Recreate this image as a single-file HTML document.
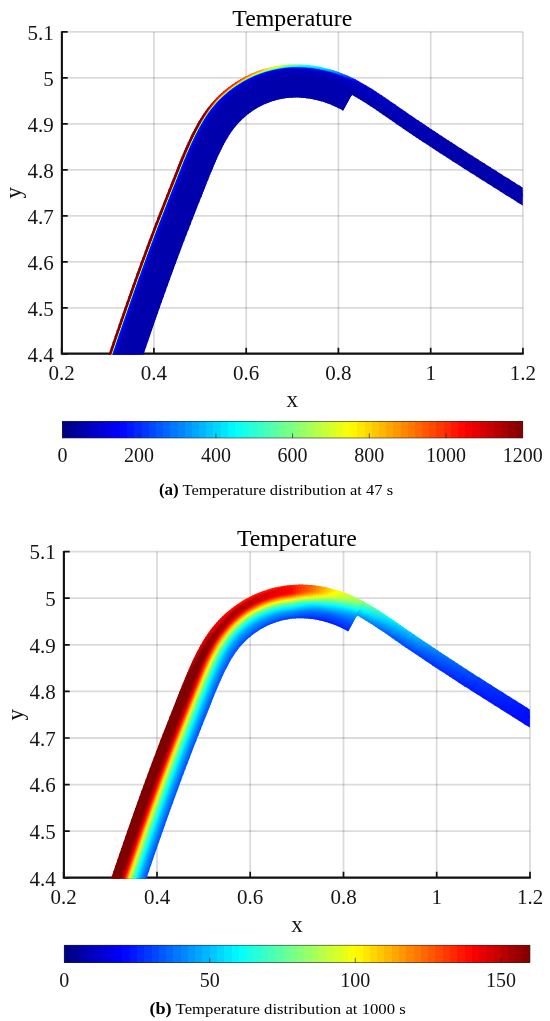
<!DOCTYPE html>
<html><head><meta charset="utf-8"><title>Temperature</title><style>html,body{margin:0;padding:0;background:#fff}svg{display:block}</style></head><body>
<svg width="550" height="1021" viewBox="0 0 550 1021">
<style>text{font-family:"Liberation Serif",serif;fill:#151515}.tk{font-size:21px}.cb{font-size:20px}.tt{font-size:23px}.ti{font-size:23px}.cap{font-size:15px}.cpb{font-size:17px;font-weight:bold}</style>
<rect width="550" height="1021" fill="#fff"/>
<defs><clipPath id="c1"><rect x="61.7" y="31.8" width="461.1" height="323"/></clipPath><clipPath id="c2"><rect x="63.7" y="551.6" width="466.2" height="327.2"/></clipPath></defs>
<path d="M61.7 31.8V353.8M153.9 31.8V353.8M246.2 31.8V353.8M338.4 31.8V353.8M430.7 31.8V353.8M522.9 31.8V353.8" stroke="#000" stroke-opacity="0.14" stroke-width="1.8" fill="none"/><path d="M61.7 353.8H522.9M61.7 307.8H522.9M61.7 261.8H522.9M61.7 215.8H522.9M61.7 169.8H522.9M61.7 123.8H522.9M61.7 77.8H522.9M61.7 31.8H522.9" stroke="#000" stroke-opacity="0.14" stroke-width="1.8" fill="none"/>
<path d="M61.9 31.2V353.6H523.7" stroke="#111" stroke-width="2.1" fill="none" stroke-linejoin="miter"/>
<defs><clipPath id="s1"><path d="M106.7 359.7L107.4 357.8L108 355.9L108.7 354L109.3 352.1L110 350.2L110.6 348.3L111.2 346.4L111.9 344.5L112.5 342.6L113.2 340.7L113.8 338.9L114.5 337L115.1 335.1L115.8 333.2L116.4 331.3L117.1 329.4L117.7 327.5L118.4 325.6L119 323.7L119.7 321.8L120.3 319.9L121 318L121.6 316.2L122.3 314.3L122.9 312.4L123.6 310.5L124.3 308.6L124.9 306.7L125.6 304.8L126.2 303L126.9 301.1L127.6 299.2L128.2 297.3L128.9 295.4L129.5 293.5L130.2 291.7L130.9 289.8L131.5 287.9L132.2 286L132.9 284.1L133.5 282.2L134.2 280.4L134.9 278.5L135.6 276.6L136.2 274.7L136.9 272.8L137.6 271L138.3 269.1L139 267.2L139.6 265.3L140.3 263.5L141 261.6L141.7 259.7L142.4 257.8L143.1 256L143.8 254.1L144.5 252.2L145.1 250.3L145.8 248.5L146.5 246.6L147.2 244.7L147.9 242.8L148.6 241L149.3 239.1L150 237.2L150.7 235.3L151.5 233.5L152.2 231.6L152.9 229.7L153.6 227.8L154.3 226L155 224.1L155.7 222.2L156.5 220.4L157.2 218.5L157.9 216.6L158.6 214.7L159.4 212.9L160.1 211L160.8 209.1L161.6 207.2L162.3 205.4L163 203.5L163.8 201.6L164.5 199.8L165.2 197.9L166 196L166.7 194.2L167.5 192.3L168.2 190.4L168.9 188.6L169.7 186.7L170.4 184.9L171.1 183L171.9 181.1L172.6 179.3L173.4 177.4L174.1 175.6L174.8 173.7L175.6 171.9L176.3 170L177 168.2L177.8 166.3L178.5 164.5L179.3 162.6L180 160.8L180.7 159L181.5 157.1L182.3 155.3L183 153.5L183.8 151.6L184.6 149.8L185.4 148L186.2 146.2L187 144.4L187.8 142.5L188.7 140.7L189.5 138.9L190.4 137.1L191.2 135.3L192.1 133.5L193 131.7L194 129.9L194.9 128.2L195.9 126.4L196.8 124.6L197.8 122.9L198.8 121.1L199.9 119.4L201 117.7L202 116L203.2 114.3L204.3 112.7L205.5 111L206.6 109.4L207.9 107.8L209.1 106.3L210.4 104.7L211.6 103.2L213 101.7L214.3 100.2L215.7 98.8L217.1 97.3L218.5 96L219.9 94.6L221.4 93.2L222.9 91.9L224.4 90.6L225.9 89.4L227.5 88.1L229.1 86.9L230.7 85.7L232.3 84.6L234 83.4L235.6 82.3L237.3 81.3L239 80.2L240.8 79.2L242.5 78.2L244.3 77.2L246 76.3L247.8 75.4L249.6 74.6L251.5 73.7L253.3 72.9L255.1 72.2L257 71.5L258.9 70.8L260.8 70.1L262.7 69.5L264.6 68.9L266.5 68.4L268.5 67.8L270.4 67.4L272.3 66.9L274.3 66.5L276.3 66.1L278.2 65.8L280.2 65.5L282.2 65.2L284.2 65L286.2 64.8L288.2 64.6L290.2 64.5L292.2 64.4L294.2 64.4L296.2 64.4L298.2 64.4L300.2 64.4L302.2 64.5L304.2 64.7L306.2 64.8L308.2 65L310.2 65.2L312.1 65.5L314.1 65.8L316.1 66.1L318.1 66.5L320 66.8L322 67.3L323.9 67.7L325.9 68.2L327.8 68.7L329.7 69.2L331.6 69.8L333.5 70.3L335.4 71L337.3 71.6L339.2 72.3L341 73L342.9 73.7L344.7 74.5L346.6 75.2L348.4 76.1L350.2 76.9L352 77.8L353.8 78.6L355.6 79.6L357.4 80.5L359.1 81.4L360.9 82.4L362.6 83.4L364.4 84.4L366.1 85.4L367.8 86.5L369.5 87.5L371.2 88.6L372.9 89.6L374.6 90.7L376.3 91.8L378 92.9L379.6 94L381.3 95.1L383 96.2L384.6 97.3L386.3 98.5L387.9 99.6L389.6 100.7L391.2 101.9L392.9 103L394.5 104.1L396.2 105.3L397.8 106.4L399.4 107.6L401.1 108.7L402.7 109.8L404.4 111L406 112.1L407.7 113.2L409.3 114.4L411 115.5L412.6 116.6L414.3 117.7L415.9 118.9L417.6 120L419.2 121.1L420.9 122.2L422.6 123.3L424.2 124.5L425.9 125.6L427.6 126.7L429.2 127.8L430.9 128.9L432.5 130L434.2 131.1L435.9 132.2L437.6 133.3L439.2 134.4L440.9 135.5L442.6 136.6L444.2 137.7L445.9 138.8L447.6 139.9L449.3 141L450.9 142.1L452.6 143.1L454.3 144.2L456 145.3L457.7 146.4L459.3 147.5L461 148.6L462.7 149.6L464.4 150.7L466.1 151.8L467.7 152.9L469.4 154L471.1 155L472.8 156.1L474.5 157.2L476.2 158.3L477.9 159.3L479.6 160.4L481.2 161.5L482.9 162.5L484.6 163.6L486.3 164.7L488 165.8L489.7 166.8L491.4 167.9L493.1 169L494.8 170L496.5 171.1L498.2 172.2L499.8 173.2L501.5 174.3L503.2 175.4L504.9 176.4L506.6 177.5L508.3 178.5L510 179.6L511.7 180.7L513.4 181.7L515.1 182.8L516.8 183.9L518.5 184.9L520.2 186L521.9 187L523.6 188.1L525.3 189.2L527 190.2L528.7 191.3L530.4 192.4L532 193.4L533.7 194.5L535.4 195.5L537.1 196.6L538.8 197.7L540.1 198.5L532 211.4L528.7 209.2L525.3 207.1L521.9 205L518.5 202.9L515.1 200.7L511.7 198.6L508.3 196.5L504.9 194.4L501.5 192.2L498.1 190.1L494.7 188L491.3 185.8L488 183.7L484.6 181.6L481.2 179.4L477.8 177.3L474.4 175.1L471 173L467.6 170.8L464.2 168.7L460.8 166.5L457.5 164.3L454.1 162.2L450.7 160L447.3 157.8L443.9 155.6L440.6 153.4L437.2 151.2L433.8 149L430.5 146.8L427.1 144.6L423.8 142.4L420.4 140.2L417 137.9L413.7 135.7L410.4 133.4L407 131.2L403.7 128.9L400.3 126.6L397 124.4L393.7 122.1L390.4 119.8L387.1 117.5L383.8 115.2L380.6 113L377.3 110.8L374.1 108.6L370.9 106.4L367.6 104.3L364.4 102.2L361.2 100.2L357.9 98.3L354.7 96.4L352 94.9L343.4 110.7L341.9 109.9L340.5 109.1L339 108.4L337.6 107.7L336.2 107L334.8 106.4L333.5 105.8L332.1 105.2L330.7 104.6L329.3 104L327.9 103.5L326.5 103L325.1 102.5L323.7 102.1L322.3 101.6L320.8 101.2L319.4 100.8L318 100.4L316.5 100.1L315.1 99.7L313.6 99.4L312.2 99.1L310.7 98.9L309.3 98.6L307.8 98.4L306.4 98.2L304.9 98.1L303.5 97.9L302 97.8L300.6 97.7L299.1 97.6L297.7 97.6L296.3 97.6L294.9 97.6L293.5 97.6L292.1 97.7L290.7 97.7L289.3 97.8L287.9 98L286.5 98.1L285.1 98.3L283.8 98.5L282.4 98.8L281 99L279.6 99.3L278.3 99.6L276.9 99.9L275.6 100.3L274.2 100.7L272.9 101.1L271.5 101.5L270.2 102L268.9 102.4L267.6 102.9L266.3 103.5L265 104L263.8 104.6L262.5 105.2L261.3 105.8L260 106.4L258.8 107.1L257.6 107.8L256.4 108.5L255.2 109.3L253.9 110L252.7 110.8L251.6 111.6L250.4 112.5L249.2 113.3L248.1 114.2L246.9 115.1L245.8 116L244.7 116.9L243.7 117.9L242.7 118.8L241.6 119.7L240.7 120.7L239.7 121.7L238.7 122.7L237.8 123.7L236.9 124.7L236 125.8L235.1 126.9L234.2 128L233.4 129.1L232.5 130.3L231.6 131.5L230.8 132.7L229.9 134L229.1 135.3L228.3 136.6L227.5 137.9L226.7 139.3L225.9 140.7L225.1 142.2L224.3 143.6L223.5 145.1L222.7 146.6L221.9 148.2L221.2 149.7L220.4 151.3L219.6 152.9L218.9 154.5L218.1 156.1L217.4 157.8L216.6 159.4L215.9 161.1L215.2 162.8L214.4 164.4L213.7 166.1L213 167.9L212.3 169.6L211.6 171.3L210.8 173.1L210.1 174.8L209.4 176.6L208.7 178.4L208 180.2L207.2 182L206.5 183.9L205.8 185.7L205.1 187.6L204.3 189.4L203.6 191.3L202.8 193.1L202.1 195L201.4 196.9L200.6 198.7L199.9 200.6L199.1 202.4L198.4 204.3L197.7 206.1L196.9 208L196.2 209.9L195.5 211.7L194.7 213.6L194 215.4L193.3 217.3L192.6 219.1L191.8 221L191.1 222.8L190.4 224.7L189.7 226.5L189 228.4L188.2 230.2L187.5 232L186.8 233.9L186.1 235.7L185.4 237.6L184.7 239.4L184 241.3L183.3 243.1L182.6 245L181.9 246.8L181.2 248.7L180.5 250.5L179.8 252.4L179.1 254.2L178.4 256.1L177.7 257.9L177.1 259.8L176.4 261.6L175.7 263.5L175 265.3L174.3 267.2L173.6 269L173 270.9L172.3 272.7L171.6 274.6L170.9 276.4L170.3 278.3L169.6 280.1L168.9 282L168.2 283.9L167.6 285.7L166.9 287.6L166.2 289.4L165.6 291.3L164.9 293.2L164.2 295L163.6 296.9L162.9 298.7L162.3 300.6L161.6 302.5L160.9 304.3L160.3 306.2L159.6 308.1L159 309.9L158.3 311.8L157.6 313.7L157 315.5L156.3 317.4L155.7 319.3L155 321.2L154.4 323L153.7 324.9L153.1 326.8L152.4 328.7L151.8 330.5L151.1 332.4L150.5 334.3L149.8 336.2L149.2 338L148.6 339.9L147.9 341.8L147.3 343.7L146.6 345.6L146 347.4L145.3 349.3L144.7 351.2L144 353.1L143.4 355L142.8 356.9L142.1 358.8L141.5 360.6L140.8 362.5L140.2 364.4L139.6 366.3L138.9 368.2L138.3 370.1L138.2 370.4Z"/></clipPath></defs>
<g clip-path="url(#c1)"><g clip-path="url(#s1)"><defs><linearGradient id="a0" gradientUnits="userSpaceOnUse" x1="107.7" y1="356.9" x2="139.2" y2="367.5"><stop offset="0" stop-color="#800000"/><stop offset="0.034" stop-color="#800000"/><stop offset="0.063" stop-color="#800000"/><stop offset="0.078" stop-color="#f40000"/><stop offset="0.089" stop-color="#ffe800"/><stop offset="0.101" stop-color="#23ffdc"/><stop offset="0.12" stop-color="#0015ff"/><stop offset="0.172" stop-color="#0000da"/><stop offset="0.263" stop-color="#0000ad"/><stop offset="0.412" stop-color="#0000ad"/></linearGradient><linearGradient id="a1" gradientUnits="userSpaceOnUse" x1="109.6" y1="351.2" x2="141.1" y2="361.8"><stop offset="0" stop-color="#800000"/><stop offset="0.034" stop-color="#800000"/><stop offset="0.063" stop-color="#800000"/><stop offset="0.078" stop-color="#f40000"/><stop offset="0.089" stop-color="#ffe800"/><stop offset="0.101" stop-color="#23ffdc"/><stop offset="0.12" stop-color="#0015ff"/><stop offset="0.172" stop-color="#0000da"/><stop offset="0.263" stop-color="#0000ad"/><stop offset="0.412" stop-color="#0000ad"/></linearGradient><linearGradient id="a2" gradientUnits="userSpaceOnUse" x1="111.6" y1="345.5" x2="143" y2="356.2"><stop offset="0" stop-color="#800000"/><stop offset="0.034" stop-color="#800000"/><stop offset="0.063" stop-color="#800000"/><stop offset="0.078" stop-color="#f40000"/><stop offset="0.089" stop-color="#ffe800"/><stop offset="0.101" stop-color="#23ffdc"/><stop offset="0.12" stop-color="#0015ff"/><stop offset="0.172" stop-color="#0000da"/><stop offset="0.263" stop-color="#0000ad"/><stop offset="0.412" stop-color="#0000ad"/></linearGradient><linearGradient id="a3" gradientUnits="userSpaceOnUse" x1="113.5" y1="339.8" x2="144.9" y2="350.5"><stop offset="0" stop-color="#800000"/><stop offset="0.034" stop-color="#800000"/><stop offset="0.063" stop-color="#800000"/><stop offset="0.078" stop-color="#f40000"/><stop offset="0.089" stop-color="#ffe800"/><stop offset="0.101" stop-color="#23ffdc"/><stop offset="0.12" stop-color="#0015ff"/><stop offset="0.172" stop-color="#0000da"/><stop offset="0.263" stop-color="#0000ad"/><stop offset="0.412" stop-color="#0000ad"/></linearGradient><linearGradient id="a4" gradientUnits="userSpaceOnUse" x1="115.4" y1="334.1" x2="146.9" y2="344.9"><stop offset="0" stop-color="#800000"/><stop offset="0.034" stop-color="#800000"/><stop offset="0.063" stop-color="#800000"/><stop offset="0.078" stop-color="#f40000"/><stop offset="0.089" stop-color="#ffe800"/><stop offset="0.101" stop-color="#23ffdc"/><stop offset="0.12" stop-color="#0015ff"/><stop offset="0.172" stop-color="#0000da"/><stop offset="0.263" stop-color="#0000ad"/><stop offset="0.412" stop-color="#0000ad"/></linearGradient><linearGradient id="a5" gradientUnits="userSpaceOnUse" x1="117.4" y1="328.4" x2="148.8" y2="339.2"><stop offset="0" stop-color="#800000"/><stop offset="0.034" stop-color="#800000"/><stop offset="0.063" stop-color="#800000"/><stop offset="0.078" stop-color="#f40000"/><stop offset="0.089" stop-color="#ffe800"/><stop offset="0.101" stop-color="#23ffdc"/><stop offset="0.12" stop-color="#0015ff"/><stop offset="0.172" stop-color="#0000da"/><stop offset="0.263" stop-color="#0000ad"/><stop offset="0.412" stop-color="#0000ad"/></linearGradient><linearGradient id="a6" gradientUnits="userSpaceOnUse" x1="119.3" y1="322.8" x2="150.7" y2="333.6"><stop offset="0" stop-color="#800000"/><stop offset="0.034" stop-color="#800000"/><stop offset="0.063" stop-color="#800000"/><stop offset="0.078" stop-color="#f40000"/><stop offset="0.089" stop-color="#ffe800"/><stop offset="0.101" stop-color="#23ffdc"/><stop offset="0.12" stop-color="#0015ff"/><stop offset="0.172" stop-color="#0000da"/><stop offset="0.263" stop-color="#0000ad"/><stop offset="0.412" stop-color="#0000ad"/></linearGradient><linearGradient id="a7" gradientUnits="userSpaceOnUse" x1="121.3" y1="317.1" x2="152.7" y2="328"><stop offset="0" stop-color="#800000"/><stop offset="0.034" stop-color="#800000"/><stop offset="0.063" stop-color="#800000"/><stop offset="0.078" stop-color="#f40000"/><stop offset="0.089" stop-color="#ffe800"/><stop offset="0.101" stop-color="#23ffdc"/><stop offset="0.12" stop-color="#0015ff"/><stop offset="0.172" stop-color="#0000da"/><stop offset="0.263" stop-color="#0000ad"/><stop offset="0.412" stop-color="#0000ad"/></linearGradient><linearGradient id="a8" gradientUnits="userSpaceOnUse" x1="123.3" y1="311.4" x2="154.6" y2="322.3"><stop offset="0" stop-color="#800000"/><stop offset="0.034" stop-color="#800000"/><stop offset="0.063" stop-color="#800000"/><stop offset="0.078" stop-color="#f40000"/><stop offset="0.089" stop-color="#ffe800"/><stop offset="0.101" stop-color="#23ffdc"/><stop offset="0.12" stop-color="#0015ff"/><stop offset="0.172" stop-color="#0000da"/><stop offset="0.263" stop-color="#0000ad"/><stop offset="0.412" stop-color="#0000ad"/></linearGradient><linearGradient id="a9" gradientUnits="userSpaceOnUse" x1="125.2" y1="305.8" x2="156.6" y2="316.7"><stop offset="0" stop-color="#800000"/><stop offset="0.034" stop-color="#800000"/><stop offset="0.063" stop-color="#800000"/><stop offset="0.078" stop-color="#f40000"/><stop offset="0.089" stop-color="#ffe800"/><stop offset="0.101" stop-color="#23ffdc"/><stop offset="0.12" stop-color="#0015ff"/><stop offset="0.172" stop-color="#0000da"/><stop offset="0.263" stop-color="#0000ad"/><stop offset="0.412" stop-color="#0000ad"/></linearGradient><linearGradient id="a10" gradientUnits="userSpaceOnUse" x1="127.2" y1="300.1" x2="158.5" y2="311.1"><stop offset="0" stop-color="#800000"/><stop offset="0.034" stop-color="#800000"/><stop offset="0.063" stop-color="#800000"/><stop offset="0.078" stop-color="#f40000"/><stop offset="0.089" stop-color="#ffe800"/><stop offset="0.101" stop-color="#23ffdc"/><stop offset="0.12" stop-color="#0015ff"/><stop offset="0.172" stop-color="#0000da"/><stop offset="0.263" stop-color="#0000ad"/><stop offset="0.412" stop-color="#0000ad"/></linearGradient><linearGradient id="a11" gradientUnits="userSpaceOnUse" x1="129.2" y1="294.5" x2="160.5" y2="305.5"><stop offset="0" stop-color="#800000"/><stop offset="0.034" stop-color="#800000"/><stop offset="0.063" stop-color="#800000"/><stop offset="0.078" stop-color="#f40000"/><stop offset="0.089" stop-color="#ffe800"/><stop offset="0.101" stop-color="#23ffdc"/><stop offset="0.12" stop-color="#0015ff"/><stop offset="0.172" stop-color="#0000da"/><stop offset="0.263" stop-color="#0000ad"/><stop offset="0.412" stop-color="#0000ad"/></linearGradient><linearGradient id="a12" gradientUnits="userSpaceOnUse" x1="131.2" y1="288.8" x2="162.5" y2="299.9"><stop offset="0" stop-color="#800000"/><stop offset="0.034" stop-color="#800000"/><stop offset="0.063" stop-color="#800000"/><stop offset="0.078" stop-color="#f40000"/><stop offset="0.089" stop-color="#ffe800"/><stop offset="0.101" stop-color="#23ffdc"/><stop offset="0.12" stop-color="#0015ff"/><stop offset="0.172" stop-color="#0000da"/><stop offset="0.263" stop-color="#0000ad"/><stop offset="0.412" stop-color="#0000ad"/></linearGradient><linearGradient id="a13" gradientUnits="userSpaceOnUse" x1="133.2" y1="283.2" x2="164.5" y2="294.3"><stop offset="0" stop-color="#800000"/><stop offset="0.034" stop-color="#800000"/><stop offset="0.063" stop-color="#800000"/><stop offset="0.078" stop-color="#f40000"/><stop offset="0.089" stop-color="#ffe800"/><stop offset="0.101" stop-color="#23ffdc"/><stop offset="0.12" stop-color="#0015ff"/><stop offset="0.172" stop-color="#0000da"/><stop offset="0.263" stop-color="#0000ad"/><stop offset="0.412" stop-color="#0000ad"/></linearGradient><linearGradient id="a14" gradientUnits="userSpaceOnUse" x1="135.2" y1="277.5" x2="166.5" y2="288.8"><stop offset="0" stop-color="#800000"/><stop offset="0.034" stop-color="#800000"/><stop offset="0.063" stop-color="#800000"/><stop offset="0.078" stop-color="#f40000"/><stop offset="0.089" stop-color="#ffe800"/><stop offset="0.101" stop-color="#23ffdc"/><stop offset="0.12" stop-color="#0015ff"/><stop offset="0.172" stop-color="#0000da"/><stop offset="0.263" stop-color="#0000ad"/><stop offset="0.412" stop-color="#0000ad"/></linearGradient><linearGradient id="a15" gradientUnits="userSpaceOnUse" x1="137.3" y1="271.9" x2="168.5" y2="283.2"><stop offset="0" stop-color="#800000"/><stop offset="0.034" stop-color="#800000"/><stop offset="0.063" stop-color="#800000"/><stop offset="0.078" stop-color="#f40000"/><stop offset="0.089" stop-color="#ffe800"/><stop offset="0.101" stop-color="#23ffdc"/><stop offset="0.12" stop-color="#0015ff"/><stop offset="0.172" stop-color="#0000da"/><stop offset="0.263" stop-color="#0000ad"/><stop offset="0.412" stop-color="#0000ad"/></linearGradient><linearGradient id="a16" gradientUnits="userSpaceOnUse" x1="139.3" y1="266.3" x2="170.5" y2="277.6"><stop offset="0" stop-color="#800000"/><stop offset="0.034" stop-color="#800000"/><stop offset="0.063" stop-color="#800000"/><stop offset="0.078" stop-color="#f40000"/><stop offset="0.089" stop-color="#ffe800"/><stop offset="0.101" stop-color="#23ffdc"/><stop offset="0.12" stop-color="#0015ff"/><stop offset="0.172" stop-color="#0000da"/><stop offset="0.263" stop-color="#0000ad"/><stop offset="0.412" stop-color="#0000ad"/></linearGradient><linearGradient id="a17" gradientUnits="userSpaceOnUse" x1="141.4" y1="260.6" x2="172.5" y2="272"><stop offset="0" stop-color="#800000"/><stop offset="0.034" stop-color="#800000"/><stop offset="0.063" stop-color="#800000"/><stop offset="0.078" stop-color="#f40000"/><stop offset="0.089" stop-color="#ffe800"/><stop offset="0.101" stop-color="#23ffdc"/><stop offset="0.12" stop-color="#0015ff"/><stop offset="0.172" stop-color="#0000da"/><stop offset="0.263" stop-color="#0000ad"/><stop offset="0.412" stop-color="#0000ad"/></linearGradient><linearGradient id="a18" gradientUnits="userSpaceOnUse" x1="143.4" y1="255" x2="174.6" y2="266.5"><stop offset="0" stop-color="#800000"/><stop offset="0.034" stop-color="#800000"/><stop offset="0.063" stop-color="#800000"/><stop offset="0.078" stop-color="#f40000"/><stop offset="0.089" stop-color="#ffe800"/><stop offset="0.101" stop-color="#23ffdc"/><stop offset="0.12" stop-color="#0015ff"/><stop offset="0.172" stop-color="#0000da"/><stop offset="0.263" stop-color="#0000ad"/><stop offset="0.412" stop-color="#0000ad"/></linearGradient><linearGradient id="a19" gradientUnits="userSpaceOnUse" x1="145.5" y1="249.4" x2="176.6" y2="260.9"><stop offset="0" stop-color="#800000"/><stop offset="0.034" stop-color="#800000"/><stop offset="0.063" stop-color="#800000"/><stop offset="0.078" stop-color="#f40000"/><stop offset="0.089" stop-color="#ffe800"/><stop offset="0.101" stop-color="#23ffdc"/><stop offset="0.12" stop-color="#0015ff"/><stop offset="0.172" stop-color="#0000da"/><stop offset="0.263" stop-color="#0000ad"/><stop offset="0.412" stop-color="#0000ad"/></linearGradient><linearGradient id="a20" gradientUnits="userSpaceOnUse" x1="147.6" y1="243.8" x2="178.7" y2="255.4"><stop offset="0" stop-color="#800000"/><stop offset="0.034" stop-color="#800000"/><stop offset="0.063" stop-color="#800000"/><stop offset="0.078" stop-color="#f40000"/><stop offset="0.089" stop-color="#ffe800"/><stop offset="0.101" stop-color="#23ffdc"/><stop offset="0.12" stop-color="#0015ff"/><stop offset="0.172" stop-color="#0000da"/><stop offset="0.263" stop-color="#0000ad"/><stop offset="0.412" stop-color="#0000ad"/></linearGradient><linearGradient id="a21" gradientUnits="userSpaceOnUse" x1="149.7" y1="238.1" x2="180.8" y2="249.8"><stop offset="0" stop-color="#800000"/><stop offset="0.034" stop-color="#800000"/><stop offset="0.063" stop-color="#800000"/><stop offset="0.078" stop-color="#f40000"/><stop offset="0.089" stop-color="#ffe800"/><stop offset="0.101" stop-color="#23ffdc"/><stop offset="0.12" stop-color="#0015ff"/><stop offset="0.172" stop-color="#0000da"/><stop offset="0.263" stop-color="#0000ad"/><stop offset="0.412" stop-color="#0000ad"/></linearGradient><linearGradient id="a22" gradientUnits="userSpaceOnUse" x1="151.8" y1="232.5" x2="182.9" y2="244.3"><stop offset="0" stop-color="#800000"/><stop offset="0.034" stop-color="#800000"/><stop offset="0.063" stop-color="#800000"/><stop offset="0.078" stop-color="#f40000"/><stop offset="0.089" stop-color="#ffe800"/><stop offset="0.101" stop-color="#23ffdc"/><stop offset="0.12" stop-color="#0015ff"/><stop offset="0.172" stop-color="#0000da"/><stop offset="0.263" stop-color="#0000ad"/><stop offset="0.412" stop-color="#0000ad"/></linearGradient><linearGradient id="a23" gradientUnits="userSpaceOnUse" x1="153.9" y1="226.9" x2="185" y2="238.7"><stop offset="0" stop-color="#800000"/><stop offset="0.034" stop-color="#800000"/><stop offset="0.063" stop-color="#800000"/><stop offset="0.078" stop-color="#f40000"/><stop offset="0.089" stop-color="#ffe800"/><stop offset="0.101" stop-color="#23ffdc"/><stop offset="0.12" stop-color="#0015ff"/><stop offset="0.172" stop-color="#0000da"/><stop offset="0.263" stop-color="#0000ad"/><stop offset="0.412" stop-color="#0000ad"/></linearGradient><linearGradient id="a24" gradientUnits="userSpaceOnUse" x1="156.1" y1="221.3" x2="187.1" y2="233.2"><stop offset="0" stop-color="#800000"/><stop offset="0.034" stop-color="#800000"/><stop offset="0.063" stop-color="#800000"/><stop offset="0.078" stop-color="#f40000"/><stop offset="0.089" stop-color="#ffe800"/><stop offset="0.101" stop-color="#23ffdc"/><stop offset="0.12" stop-color="#0015ff"/><stop offset="0.172" stop-color="#0000da"/><stop offset="0.263" stop-color="#0000ad"/><stop offset="0.412" stop-color="#0000ad"/></linearGradient><linearGradient id="a25" gradientUnits="userSpaceOnUse" x1="158.3" y1="215.7" x2="189.2" y2="227.7"><stop offset="0" stop-color="#800000"/><stop offset="0.034" stop-color="#800000"/><stop offset="0.063" stop-color="#800000"/><stop offset="0.078" stop-color="#f40000"/><stop offset="0.089" stop-color="#ffe800"/><stop offset="0.101" stop-color="#23ffdc"/><stop offset="0.12" stop-color="#0015ff"/><stop offset="0.172" stop-color="#0000da"/><stop offset="0.263" stop-color="#0000ad"/><stop offset="0.412" stop-color="#0000ad"/></linearGradient><linearGradient id="a26" gradientUnits="userSpaceOnUse" x1="160.5" y1="210.1" x2="191.4" y2="222.1"><stop offset="0" stop-color="#800000"/><stop offset="0.034" stop-color="#800000"/><stop offset="0.063" stop-color="#800000"/><stop offset="0.078" stop-color="#f40000"/><stop offset="0.089" stop-color="#ffe800"/><stop offset="0.101" stop-color="#23ffdc"/><stop offset="0.12" stop-color="#0015ff"/><stop offset="0.172" stop-color="#0000da"/><stop offset="0.263" stop-color="#0000ad"/><stop offset="0.412" stop-color="#0000ad"/></linearGradient><linearGradient id="a27" gradientUnits="userSpaceOnUse" x1="162.7" y1="204.4" x2="193.6" y2="216.6"><stop offset="0" stop-color="#800000"/><stop offset="0.034" stop-color="#800000"/><stop offset="0.063" stop-color="#800000"/><stop offset="0.078" stop-color="#f40000"/><stop offset="0.089" stop-color="#ffe800"/><stop offset="0.101" stop-color="#23ffdc"/><stop offset="0.12" stop-color="#0015ff"/><stop offset="0.172" stop-color="#0000da"/><stop offset="0.263" stop-color="#0000ad"/><stop offset="0.412" stop-color="#0000ad"/></linearGradient><linearGradient id="a28" gradientUnits="userSpaceOnUse" x1="164.9" y1="198.8" x2="195.7" y2="211"><stop offset="0" stop-color="#800000"/><stop offset="0.034" stop-color="#800000"/><stop offset="0.063" stop-color="#800000"/><stop offset="0.078" stop-color="#f40000"/><stop offset="0.089" stop-color="#ffe800"/><stop offset="0.101" stop-color="#23ffdc"/><stop offset="0.12" stop-color="#0015ff"/><stop offset="0.172" stop-color="#0000da"/><stop offset="0.263" stop-color="#0000ad"/><stop offset="0.412" stop-color="#0000ad"/></linearGradient><linearGradient id="a29" gradientUnits="userSpaceOnUse" x1="167.1" y1="193.2" x2="197.9" y2="205.5"><stop offset="0" stop-color="#800000"/><stop offset="0.034" stop-color="#800000"/><stop offset="0.063" stop-color="#800000"/><stop offset="0.078" stop-color="#f40000"/><stop offset="0.089" stop-color="#ffe800"/><stop offset="0.101" stop-color="#23ffdc"/><stop offset="0.12" stop-color="#0015ff"/><stop offset="0.172" stop-color="#0000da"/><stop offset="0.263" stop-color="#0000ad"/><stop offset="0.412" stop-color="#0000ad"/></linearGradient><linearGradient id="a30" gradientUnits="userSpaceOnUse" x1="169.3" y1="187.6" x2="200.2" y2="199.9"><stop offset="0" stop-color="#800000"/><stop offset="0.034" stop-color="#800000"/><stop offset="0.063" stop-color="#800000"/><stop offset="0.078" stop-color="#f40000"/><stop offset="0.089" stop-color="#ffe800"/><stop offset="0.101" stop-color="#23ffdc"/><stop offset="0.12" stop-color="#0015ff"/><stop offset="0.172" stop-color="#0000da"/><stop offset="0.263" stop-color="#0000ad"/><stop offset="0.412" stop-color="#0000ad"/></linearGradient><linearGradient id="a31" gradientUnits="userSpaceOnUse" x1="171" y1="183.5" x2="201.8" y2="195.7"><stop offset="0" stop-color="#800000"/><stop offset="0.034" stop-color="#800000"/><stop offset="0.063" stop-color="#800000"/><stop offset="0.078" stop-color="#f40000"/><stop offset="0.089" stop-color="#ffe800"/><stop offset="0.101" stop-color="#23ffdc"/><stop offset="0.12" stop-color="#0015ff"/><stop offset="0.172" stop-color="#0000da"/><stop offset="0.263" stop-color="#0000ad"/><stop offset="0.412" stop-color="#0000ad"/></linearGradient><linearGradient id="a32" gradientUnits="userSpaceOnUse" x1="172.1" y1="180.7" x2="202.9" y2="192.9"><stop offset="0" stop-color="#800000"/><stop offset="0.034" stop-color="#800000"/><stop offset="0.063" stop-color="#800000"/><stop offset="0.078" stop-color="#f40000"/><stop offset="0.089" stop-color="#ffe800"/><stop offset="0.101" stop-color="#23ffdc"/><stop offset="0.12" stop-color="#0015ff"/><stop offset="0.172" stop-color="#0000da"/><stop offset="0.263" stop-color="#0000ad"/><stop offset="0.412" stop-color="#0000ad"/></linearGradient><linearGradient id="a33" gradientUnits="userSpaceOnUse" x1="173.2" y1="177.9" x2="204" y2="190.1"><stop offset="0" stop-color="#800000"/><stop offset="0.034" stop-color="#800000"/><stop offset="0.063" stop-color="#800000"/><stop offset="0.078" stop-color="#f40000"/><stop offset="0.089" stop-color="#ffe800"/><stop offset="0.101" stop-color="#23ffdc"/><stop offset="0.12" stop-color="#0015ff"/><stop offset="0.172" stop-color="#0000da"/><stop offset="0.263" stop-color="#0000ad"/><stop offset="0.412" stop-color="#0000ad"/></linearGradient><linearGradient id="a34" gradientUnits="userSpaceOnUse" x1="174.3" y1="175.1" x2="205.1" y2="187.4"><stop offset="0" stop-color="#800000"/><stop offset="0.034" stop-color="#800000"/><stop offset="0.063" stop-color="#800000"/><stop offset="0.078" stop-color="#f40000"/><stop offset="0.089" stop-color="#ffe800"/><stop offset="0.101" stop-color="#23ffdc"/><stop offset="0.12" stop-color="#0015ff"/><stop offset="0.172" stop-color="#0000da"/><stop offset="0.263" stop-color="#0000ad"/><stop offset="0.412" stop-color="#0000ad"/></linearGradient><linearGradient id="a35" gradientUnits="userSpaceOnUse" x1="175.4" y1="172.3" x2="206.2" y2="184.6"><stop offset="0" stop-color="#800000"/><stop offset="0.034" stop-color="#800000"/><stop offset="0.063" stop-color="#800000"/><stop offset="0.078" stop-color="#f40000"/><stop offset="0.089" stop-color="#ffe800"/><stop offset="0.101" stop-color="#23ffdc"/><stop offset="0.12" stop-color="#0015ff"/><stop offset="0.172" stop-color="#0000da"/><stop offset="0.263" stop-color="#0000ad"/><stop offset="0.412" stop-color="#0000ad"/></linearGradient><linearGradient id="a36" gradientUnits="userSpaceOnUse" x1="176.5" y1="169.6" x2="207.3" y2="181.8"><stop offset="0" stop-color="#800000"/><stop offset="0.034" stop-color="#800000"/><stop offset="0.063" stop-color="#800000"/><stop offset="0.078" stop-color="#f40000"/><stop offset="0.089" stop-color="#ffe800"/><stop offset="0.101" stop-color="#23ffdc"/><stop offset="0.12" stop-color="#0015ff"/><stop offset="0.172" stop-color="#0000da"/><stop offset="0.263" stop-color="#0000ad"/><stop offset="0.412" stop-color="#0000ad"/></linearGradient><linearGradient id="a37" gradientUnits="userSpaceOnUse" x1="177.6" y1="166.8" x2="208.4" y2="179.1"><stop offset="0" stop-color="#800000"/><stop offset="0.034" stop-color="#800000"/><stop offset="0.063" stop-color="#800000"/><stop offset="0.078" stop-color="#f40000"/><stop offset="0.089" stop-color="#ffe800"/><stop offset="0.101" stop-color="#23ffdc"/><stop offset="0.12" stop-color="#0015ff"/><stop offset="0.172" stop-color="#0000da"/><stop offset="0.263" stop-color="#0000ad"/><stop offset="0.412" stop-color="#0000ad"/></linearGradient><linearGradient id="a38" gradientUnits="userSpaceOnUse" x1="178.7" y1="164" x2="209.5" y2="176.4"><stop offset="0" stop-color="#800000"/><stop offset="0.034" stop-color="#800000"/><stop offset="0.063" stop-color="#800000"/><stop offset="0.078" stop-color="#f40000"/><stop offset="0.089" stop-color="#ffe800"/><stop offset="0.101" stop-color="#23ffdc"/><stop offset="0.12" stop-color="#0015ff"/><stop offset="0.172" stop-color="#0000da"/><stop offset="0.263" stop-color="#0000ad"/><stop offset="0.412" stop-color="#0000ad"/></linearGradient><linearGradient id="a39" gradientUnits="userSpaceOnUse" x1="179.8" y1="161.3" x2="210.6" y2="173.8"><stop offset="0" stop-color="#800000"/><stop offset="0.034" stop-color="#800000"/><stop offset="0.063" stop-color="#800000"/><stop offset="0.078" stop-color="#f40000"/><stop offset="0.089" stop-color="#ffe800"/><stop offset="0.101" stop-color="#23ffdc"/><stop offset="0.12" stop-color="#0015ff"/><stop offset="0.172" stop-color="#0000da"/><stop offset="0.263" stop-color="#0000ad"/><stop offset="0.412" stop-color="#0000ad"/></linearGradient><linearGradient id="a40" gradientUnits="userSpaceOnUse" x1="180.9" y1="158.5" x2="211.6" y2="171.1"><stop offset="0" stop-color="#800000"/><stop offset="0.034" stop-color="#800000"/><stop offset="0.063" stop-color="#800000"/><stop offset="0.078" stop-color="#f40000"/><stop offset="0.089" stop-color="#ffe800"/><stop offset="0.101" stop-color="#23ffdc"/><stop offset="0.12" stop-color="#0015ff"/><stop offset="0.172" stop-color="#0000da"/><stop offset="0.263" stop-color="#0000ad"/><stop offset="0.412" stop-color="#0000ad"/></linearGradient><linearGradient id="a41" gradientUnits="userSpaceOnUse" x1="182.1" y1="155.8" x2="212.7" y2="168.5"><stop offset="0" stop-color="#800000"/><stop offset="0.034" stop-color="#800000"/><stop offset="0.063" stop-color="#800000"/><stop offset="0.078" stop-color="#f40000"/><stop offset="0.089" stop-color="#ffe800"/><stop offset="0.101" stop-color="#23ffdc"/><stop offset="0.12" stop-color="#0015ff"/><stop offset="0.172" stop-color="#0000da"/><stop offset="0.263" stop-color="#0000ad"/><stop offset="0.412" stop-color="#0000ad"/></linearGradient><linearGradient id="a42" gradientUnits="userSpaceOnUse" x1="183.2" y1="153" x2="213.8" y2="165.9"><stop offset="0" stop-color="#800000"/><stop offset="0.034" stop-color="#800000"/><stop offset="0.063" stop-color="#800000"/><stop offset="0.078" stop-color="#f40000"/><stop offset="0.089" stop-color="#ffe800"/><stop offset="0.101" stop-color="#23ffdc"/><stop offset="0.12" stop-color="#0015ff"/><stop offset="0.172" stop-color="#0000da"/><stop offset="0.263" stop-color="#0000ad"/><stop offset="0.412" stop-color="#0000ad"/></linearGradient><linearGradient id="a43" gradientUnits="userSpaceOnUse" x1="184.4" y1="150.3" x2="214.9" y2="163.4"><stop offset="0" stop-color="#800000"/><stop offset="0.034" stop-color="#800000"/><stop offset="0.063" stop-color="#800000"/><stop offset="0.078" stop-color="#f40000"/><stop offset="0.089" stop-color="#ffe800"/><stop offset="0.101" stop-color="#23ffdc"/><stop offset="0.12" stop-color="#0015ff"/><stop offset="0.172" stop-color="#0000da"/><stop offset="0.263" stop-color="#0000ad"/><stop offset="0.412" stop-color="#0000ad"/></linearGradient><linearGradient id="a44" gradientUnits="userSpaceOnUse" x1="185.6" y1="147.5" x2="216" y2="160.9"><stop offset="0" stop-color="#800000"/><stop offset="0.034" stop-color="#800000"/><stop offset="0.063" stop-color="#800000"/><stop offset="0.078" stop-color="#f40000"/><stop offset="0.089" stop-color="#ffe800"/><stop offset="0.101" stop-color="#23ffdc"/><stop offset="0.12" stop-color="#0015ff"/><stop offset="0.172" stop-color="#0000da"/><stop offset="0.263" stop-color="#0000ae"/><stop offset="0.412" stop-color="#0000ad"/></linearGradient><linearGradient id="a45" gradientUnits="userSpaceOnUse" x1="186.8" y1="144.8" x2="217.1" y2="158.4"><stop offset="0" stop-color="#800000"/><stop offset="0.034" stop-color="#800000"/><stop offset="0.063" stop-color="#800000"/><stop offset="0.078" stop-color="#f30000"/><stop offset="0.089" stop-color="#ffe700"/><stop offset="0.101" stop-color="#23ffdc"/><stop offset="0.12" stop-color="#0016ff"/><stop offset="0.172" stop-color="#0000db"/><stop offset="0.263" stop-color="#0000ae"/><stop offset="0.412" stop-color="#0000ad"/></linearGradient><linearGradient id="a46" gradientUnits="userSpaceOnUse" x1="188" y1="142.1" x2="218.2" y2="155.9"><stop offset="0" stop-color="#800000"/><stop offset="0.034" stop-color="#800000"/><stop offset="0.063" stop-color="#800000"/><stop offset="0.078" stop-color="#f20000"/><stop offset="0.089" stop-color="#ffe700"/><stop offset="0.101" stop-color="#24ffdb"/><stop offset="0.12" stop-color="#0016ff"/><stop offset="0.172" stop-color="#0000db"/><stop offset="0.263" stop-color="#0000ae"/><stop offset="0.412" stop-color="#0000ad"/></linearGradient><linearGradient id="a47" gradientUnits="userSpaceOnUse" x1="189.3" y1="139.4" x2="219.3" y2="153.5"><stop offset="0" stop-color="#800000"/><stop offset="0.034" stop-color="#800000"/><stop offset="0.063" stop-color="#800000"/><stop offset="0.078" stop-color="#f20000"/><stop offset="0.089" stop-color="#ffe600"/><stop offset="0.101" stop-color="#25ffda"/><stop offset="0.12" stop-color="#0017ff"/><stop offset="0.172" stop-color="#0000dc"/><stop offset="0.263" stop-color="#0000ae"/><stop offset="0.412" stop-color="#0000ad"/></linearGradient><linearGradient id="a48" gradientUnits="userSpaceOnUse" x1="190.6" y1="136.7" x2="220.5" y2="151.1"><stop offset="0" stop-color="#800000"/><stop offset="0.034" stop-color="#800000"/><stop offset="0.063" stop-color="#800000"/><stop offset="0.078" stop-color="#f10000"/><stop offset="0.089" stop-color="#ffe500"/><stop offset="0.101" stop-color="#25ffda"/><stop offset="0.12" stop-color="#0017ff"/><stop offset="0.172" stop-color="#0000dc"/><stop offset="0.263" stop-color="#0000ae"/><stop offset="0.412" stop-color="#0000ad"/></linearGradient><linearGradient id="a49" gradientUnits="userSpaceOnUse" x1="191.9" y1="134" x2="221.6" y2="148.7"><stop offset="0" stop-color="#800000"/><stop offset="0.034" stop-color="#800000"/><stop offset="0.063" stop-color="#800000"/><stop offset="0.078" stop-color="#f10000"/><stop offset="0.089" stop-color="#ffe500"/><stop offset="0.101" stop-color="#26ffd9"/><stop offset="0.12" stop-color="#0018ff"/><stop offset="0.172" stop-color="#0000dc"/><stop offset="0.263" stop-color="#0000af"/><stop offset="0.412" stop-color="#0000ad"/></linearGradient><linearGradient id="a50" gradientUnits="userSpaceOnUse" x1="193.3" y1="131.3" x2="222.8" y2="146.4"><stop offset="0" stop-color="#800000"/><stop offset="0.034" stop-color="#800000"/><stop offset="0.063" stop-color="#800000"/><stop offset="0.078" stop-color="#f00000"/><stop offset="0.089" stop-color="#ffe400"/><stop offset="0.101" stop-color="#26ffd9"/><stop offset="0.12" stop-color="#0018ff"/><stop offset="0.172" stop-color="#0000dd"/><stop offset="0.263" stop-color="#0000af"/><stop offset="0.412" stop-color="#0000ad"/></linearGradient><linearGradient id="a51" gradientUnits="userSpaceOnUse" x1="194.7" y1="128.6" x2="224" y2="144.2"><stop offset="0" stop-color="#800000"/><stop offset="0.034" stop-color="#800000"/><stop offset="0.063" stop-color="#800000"/><stop offset="0.078" stop-color="#ef0000"/><stop offset="0.089" stop-color="#ffe400"/><stop offset="0.101" stop-color="#27ffd8"/><stop offset="0.12" stop-color="#0019ff"/><stop offset="0.172" stop-color="#0000dd"/><stop offset="0.263" stop-color="#0000af"/><stop offset="0.412" stop-color="#0000ad"/></linearGradient><linearGradient id="a52" gradientUnits="userSpaceOnUse" x1="196.1" y1="126" x2="225.2" y2="142"><stop offset="0" stop-color="#800000"/><stop offset="0.034" stop-color="#800000"/><stop offset="0.063" stop-color="#800000"/><stop offset="0.078" stop-color="#ff0000"/><stop offset="0.089" stop-color="#ffef00"/><stop offset="0.101" stop-color="#20ffdf"/><stop offset="0.12" stop-color="#0017ff"/><stop offset="0.172" stop-color="#0000dd"/><stop offset="0.263" stop-color="#0000af"/><stop offset="0.412" stop-color="#0000ad"/></linearGradient><linearGradient id="a53" gradientUnits="userSpaceOnUse" x1="197.6" y1="123.3" x2="226.4" y2="139.9"><stop offset="0" stop-color="#800000"/><stop offset="0.034" stop-color="#800000"/><stop offset="0.063" stop-color="#800000"/><stop offset="0.078" stop-color="#ff1500"/><stop offset="0.089" stop-color="#fffe00"/><stop offset="0.101" stop-color="#17ffe8"/><stop offset="0.12" stop-color="#0015ff"/><stop offset="0.172" stop-color="#0000dc"/><stop offset="0.263" stop-color="#0000af"/><stop offset="0.412" stop-color="#0000ad"/></linearGradient><linearGradient id="a54" gradientUnits="userSpaceOnUse" x1="199.1" y1="120.7" x2="227.6" y2="137.8"><stop offset="0" stop-color="#800000"/><stop offset="0.034" stop-color="#800000"/><stop offset="0.063" stop-color="#8e0000"/><stop offset="0.078" stop-color="#ff2b00"/><stop offset="0.089" stop-color="#f1ff0e"/><stop offset="0.101" stop-color="#0ffff0"/><stop offset="0.12" stop-color="#0013ff"/><stop offset="0.172" stop-color="#0000db"/><stop offset="0.263" stop-color="#0000b0"/><stop offset="0.412" stop-color="#0000ad"/></linearGradient><linearGradient id="a55" gradientUnits="userSpaceOnUse" x1="200.7" y1="118.1" x2="228.8" y2="135.8"><stop offset="0" stop-color="#800000"/><stop offset="0.034" stop-color="#800000"/><stop offset="0.063" stop-color="#a80000"/><stop offset="0.078" stop-color="#ff4000"/><stop offset="0.089" stop-color="#e2ff1d"/><stop offset="0.101" stop-color="#06fff9"/><stop offset="0.12" stop-color="#0011ff"/><stop offset="0.172" stop-color="#0000db"/><stop offset="0.263" stop-color="#0000b0"/><stop offset="0.412" stop-color="#0000ad"/></linearGradient><linearGradient id="a56" gradientUnits="userSpaceOnUse" x1="202.3" y1="115.6" x2="230" y2="133.9"><stop offset="0" stop-color="#800000"/><stop offset="0.034" stop-color="#800000"/><stop offset="0.063" stop-color="#c10000"/><stop offset="0.078" stop-color="#ff5500"/><stop offset="0.089" stop-color="#d3ff2c"/><stop offset="0.1" stop-color="#00fcff"/><stop offset="0.12" stop-color="#000fff"/><stop offset="0.171" stop-color="#0000da"/><stop offset="0.263" stop-color="#0000b0"/><stop offset="0.411" stop-color="#0000ad"/></linearGradient><linearGradient id="a57" gradientUnits="userSpaceOnUse" x1="204" y1="113.1" x2="231.3" y2="132"><stop offset="0" stop-color="#800000"/><stop offset="0.034" stop-color="#800000"/><stop offset="0.063" stop-color="#da0000"/><stop offset="0.078" stop-color="#ff6a00"/><stop offset="0.089" stop-color="#c4ff3b"/><stop offset="0.1" stop-color="#00f3ff"/><stop offset="0.12" stop-color="#000dff"/><stop offset="0.171" stop-color="#0000d9"/><stop offset="0.262" stop-color="#0000b0"/><stop offset="0.41" stop-color="#0000ad"/></linearGradient><linearGradient id="a58" gradientUnits="userSpaceOnUse" x1="205.7" y1="110.6" x2="232.6" y2="130.2"><stop offset="0" stop-color="#800000"/><stop offset="0.034" stop-color="#800000"/><stop offset="0.063" stop-color="#f40000"/><stop offset="0.077" stop-color="#ff7f00"/><stop offset="0.089" stop-color="#b5ff4a"/><stop offset="0.1" stop-color="#00eaff"/><stop offset="0.119" stop-color="#000bff"/><stop offset="0.171" stop-color="#0000d9"/><stop offset="0.262" stop-color="#0000b1"/><stop offset="0.41" stop-color="#0000ad"/></linearGradient><linearGradient id="a59" gradientUnits="userSpaceOnUse" x1="207.5" y1="108.2" x2="233.9" y2="128.4"><stop offset="0" stop-color="#800000"/><stop offset="0.034" stop-color="#910000"/><stop offset="0.062" stop-color="#ff0e00"/><stop offset="0.077" stop-color="#ff9400"/><stop offset="0.089" stop-color="#a6ff59"/><stop offset="0.1" stop-color="#00e1ff"/><stop offset="0.119" stop-color="#0009ff"/><stop offset="0.17" stop-color="#0000d8"/><stop offset="0.261" stop-color="#0000b1"/><stop offset="0.409" stop-color="#0000ad"/></linearGradient><linearGradient id="a60" gradientUnits="userSpaceOnUse" x1="209.4" y1="105.9" x2="235.2" y2="126.7"><stop offset="0" stop-color="#800000"/><stop offset="0.034" stop-color="#ae0000"/><stop offset="0.062" stop-color="#ff2700"/><stop offset="0.077" stop-color="#ffa900"/><stop offset="0.088" stop-color="#97ff68"/><stop offset="0.1" stop-color="#00d9ff"/><stop offset="0.119" stop-color="#0007ff"/><stop offset="0.17" stop-color="#0000d7"/><stop offset="0.261" stop-color="#0000b1"/><stop offset="0.408" stop-color="#0000ad"/></linearGradient><linearGradient id="a61" gradientUnits="userSpaceOnUse" x1="211.3" y1="103.6" x2="236.6" y2="125.1"><stop offset="0" stop-color="#800000"/><stop offset="0.034" stop-color="#cb0000"/><stop offset="0.062" stop-color="#ff4100"/><stop offset="0.077" stop-color="#ffbe00"/><stop offset="0.088" stop-color="#88ff77"/><stop offset="0.1" stop-color="#00d0ff"/><stop offset="0.119" stop-color="#0005ff"/><stop offset="0.17" stop-color="#0000d6"/><stop offset="0.26" stop-color="#0000b1"/><stop offset="0.408" stop-color="#0000ad"/></linearGradient><linearGradient id="a62" gradientUnits="userSpaceOnUse" x1="213.3" y1="101.3" x2="237.9" y2="123.6"><stop offset="0" stop-color="#9c0000"/><stop offset="0.034" stop-color="#e80000"/><stop offset="0.062" stop-color="#ff5a00"/><stop offset="0.077" stop-color="#ffd400"/><stop offset="0.088" stop-color="#79ff86"/><stop offset="0.099" stop-color="#00c7ff"/><stop offset="0.119" stop-color="#0003ff"/><stop offset="0.17" stop-color="#0000d6"/><stop offset="0.26" stop-color="#0000b2"/><stop offset="0.407" stop-color="#0000ad"/></linearGradient><linearGradient id="a63" gradientUnits="userSpaceOnUse" x1="215.3" y1="99.1" x2="239.3" y2="122.1"><stop offset="0" stop-color="#b90000"/><stop offset="0.034" stop-color="#ff0300"/><stop offset="0.062" stop-color="#ff7100"/><stop offset="0.077" stop-color="#ffe600"/><stop offset="0.088" stop-color="#6cff93"/><stop offset="0.099" stop-color="#00bfff"/><stop offset="0.118" stop-color="#0001ff"/><stop offset="0.169" stop-color="#0000d5"/><stop offset="0.26" stop-color="#0000b2"/><stop offset="0.406" stop-color="#0000ad"/></linearGradient><linearGradient id="a64" gradientUnits="userSpaceOnUse" x1="217.4" y1="97" x2="240.8" y2="120.6"><stop offset="0" stop-color="#c10000"/><stop offset="0.034" stop-color="#ff0b00"/><stop offset="0.062" stop-color="#ff7700"/><stop offset="0.077" stop-color="#ffec00"/><stop offset="0.088" stop-color="#68ff97"/><stop offset="0.099" stop-color="#00bdff"/><stop offset="0.118" stop-color="#0000ff"/><stop offset="0.169" stop-color="#0000d5"/><stop offset="0.259" stop-color="#0000b2"/><stop offset="0.406" stop-color="#0000ad"/></linearGradient><linearGradient id="a65" gradientUnits="userSpaceOnUse" x1="219.6" y1="94.9" x2="242.3" y2="119.2"><stop offset="0" stop-color="#c90000"/><stop offset="0.034" stop-color="#ff1200"/><stop offset="0.062" stop-color="#ff7d00"/><stop offset="0.076" stop-color="#fff100"/><stop offset="0.088" stop-color="#64ff9b"/><stop offset="0.099" stop-color="#00bbff"/><stop offset="0.118" stop-color="#0000ff"/><stop offset="0.169" stop-color="#0000d5"/><stop offset="0.259" stop-color="#0000b2"/><stop offset="0.405" stop-color="#0000ad"/></linearGradient><linearGradient id="a66" gradientUnits="userSpaceOnUse" x1="221.8" y1="92.9" x2="243.8" y2="117.7"><stop offset="0" stop-color="#d10000"/><stop offset="0.034" stop-color="#ff1900"/><stop offset="0.062" stop-color="#ff8400"/><stop offset="0.076" stop-color="#fff600"/><stop offset="0.088" stop-color="#61ff9e"/><stop offset="0.099" stop-color="#00b8ff"/><stop offset="0.118" stop-color="#0000fe"/><stop offset="0.168" stop-color="#0000d5"/><stop offset="0.258" stop-color="#0000b2"/><stop offset="0.404" stop-color="#0000ad"/></linearGradient><linearGradient id="a67" gradientUnits="userSpaceOnUse" x1="224" y1="91" x2="245.4" y2="116.4"><stop offset="0" stop-color="#d80000"/><stop offset="0.034" stop-color="#ff2000"/><stop offset="0.062" stop-color="#ff8a00"/><stop offset="0.076" stop-color="#fffc00"/><stop offset="0.087" stop-color="#5dffa2"/><stop offset="0.099" stop-color="#00b6ff"/><stop offset="0.118" stop-color="#0000fe"/><stop offset="0.168" stop-color="#0000d5"/><stop offset="0.258" stop-color="#0000b2"/><stop offset="0.403" stop-color="#0000ad"/></linearGradient><linearGradient id="a68" gradientUnits="userSpaceOnUse" x1="226.3" y1="89.1" x2="247.1" y2="115"><stop offset="0" stop-color="#e00000"/><stop offset="0.034" stop-color="#ff2800"/><stop offset="0.062" stop-color="#ff9000"/><stop offset="0.076" stop-color="#fdff02"/><stop offset="0.087" stop-color="#59ffa6"/><stop offset="0.098" stop-color="#00b4ff"/><stop offset="0.117" stop-color="#0000fd"/><stop offset="0.168" stop-color="#0000d4"/><stop offset="0.257" stop-color="#0000b2"/><stop offset="0.403" stop-color="#0000ad"/></linearGradient><linearGradient id="a69" gradientUnits="userSpaceOnUse" x1="228.7" y1="87.2" x2="248.8" y2="113.7"><stop offset="0" stop-color="#e80000"/><stop offset="0.034" stop-color="#ff2f00"/><stop offset="0.061" stop-color="#ff9700"/><stop offset="0.076" stop-color="#f8ff07"/><stop offset="0.087" stop-color="#55ffaa"/><stop offset="0.098" stop-color="#00b2ff"/><stop offset="0.117" stop-color="#0000fd"/><stop offset="0.168" stop-color="#0000d4"/><stop offset="0.257" stop-color="#0000b2"/><stop offset="0.402" stop-color="#0000ad"/></linearGradient><linearGradient id="a70" gradientUnits="userSpaceOnUse" x1="231.1" y1="85.4" x2="250.5" y2="112.4"><stop offset="0" stop-color="#f00000"/><stop offset="0.033" stop-color="#ff3600"/><stop offset="0.061" stop-color="#ff9d00"/><stop offset="0.076" stop-color="#f3ff0c"/><stop offset="0.087" stop-color="#52ffad"/><stop offset="0.098" stop-color="#00b0ff"/><stop offset="0.117" stop-color="#0000fd"/><stop offset="0.167" stop-color="#0000d4"/><stop offset="0.256" stop-color="#0000b2"/><stop offset="0.401" stop-color="#0000ad"/></linearGradient><linearGradient id="a71" gradientUnits="userSpaceOnUse" x1="233.6" y1="83.7" x2="252.3" y2="111.1"><stop offset="0" stop-color="#f80000"/><stop offset="0.033" stop-color="#ff3e00"/><stop offset="0.061" stop-color="#ffa300"/><stop offset="0.076" stop-color="#edff12"/><stop offset="0.087" stop-color="#4effb1"/><stop offset="0.098" stop-color="#00aeff"/><stop offset="0.117" stop-color="#0000fc"/><stop offset="0.167" stop-color="#0000d4"/><stop offset="0.256" stop-color="#0000b2"/><stop offset="0.401" stop-color="#0000ad"/></linearGradient><linearGradient id="a72" gradientUnits="userSpaceOnUse" x1="236.1" y1="82.1" x2="254.1" y2="109.9"><stop offset="0" stop-color="#ff0400"/><stop offset="0.033" stop-color="#ff4800"/><stop offset="0.061" stop-color="#ffac00"/><stop offset="0.076" stop-color="#e6ff19"/><stop offset="0.087" stop-color="#49ffb6"/><stop offset="0.098" stop-color="#00abff"/><stop offset="0.117" stop-color="#0000fb"/><stop offset="0.167" stop-color="#0000d4"/><stop offset="0.256" stop-color="#0000b3"/><stop offset="0.4" stop-color="#0000ad"/></linearGradient><linearGradient id="a73" gradientUnits="userSpaceOnUse" x1="238.6" y1="80.5" x2="255.9" y2="108.8"><stop offset="0" stop-color="#ff1300"/><stop offset="0.033" stop-color="#ff5500"/><stop offset="0.061" stop-color="#ffb800"/><stop offset="0.075" stop-color="#dcff23"/><stop offset="0.087" stop-color="#42ffbd"/><stop offset="0.098" stop-color="#00a6ff"/><stop offset="0.116" stop-color="#0000fa"/><stop offset="0.166" stop-color="#0000d3"/><stop offset="0.255" stop-color="#0000b3"/><stop offset="0.399" stop-color="#0000ad"/></linearGradient><linearGradient id="a74" gradientUnits="userSpaceOnUse" x1="241.2" y1="78.9" x2="257.7" y2="107.7"><stop offset="0" stop-color="#ff2100"/><stop offset="0.033" stop-color="#ff6200"/><stop offset="0.061" stop-color="#ffc300"/><stop offset="0.075" stop-color="#d3ff2c"/><stop offset="0.086" stop-color="#3bffc4"/><stop offset="0.097" stop-color="#00a2ff"/><stop offset="0.116" stop-color="#0000f9"/><stop offset="0.166" stop-color="#0000d3"/><stop offset="0.255" stop-color="#0000b3"/><stop offset="0.399" stop-color="#0000ad"/></linearGradient><linearGradient id="a75" gradientUnits="userSpaceOnUse" x1="243.8" y1="77.5" x2="259.6" y2="106.7"><stop offset="0" stop-color="#ff3000"/><stop offset="0.033" stop-color="#ff7000"/><stop offset="0.061" stop-color="#ffcf00"/><stop offset="0.075" stop-color="#c9ff36"/><stop offset="0.086" stop-color="#34ffcb"/><stop offset="0.097" stop-color="#009eff"/><stop offset="0.116" stop-color="#0000f8"/><stop offset="0.166" stop-color="#0000d3"/><stop offset="0.254" stop-color="#0000b3"/><stop offset="0.398" stop-color="#0000ad"/></linearGradient><linearGradient id="a76" gradientUnits="userSpaceOnUse" x1="246.5" y1="76.1" x2="261.4" y2="105.7"><stop offset="0" stop-color="#ff3e00"/><stop offset="0.033" stop-color="#ff7d00"/><stop offset="0.061" stop-color="#ffdb00"/><stop offset="0.075" stop-color="#bfff40"/><stop offset="0.086" stop-color="#2dffd2"/><stop offset="0.097" stop-color="#009aff"/><stop offset="0.116" stop-color="#0000f7"/><stop offset="0.166" stop-color="#0000d2"/><stop offset="0.254" stop-color="#0000b3"/><stop offset="0.397" stop-color="#0000ad"/></linearGradient><linearGradient id="a77" gradientUnits="userSpaceOnUse" x1="249.2" y1="74.8" x2="263.3" y2="104.8"><stop offset="0" stop-color="#ff4d00"/><stop offset="0.033" stop-color="#ff8b00"/><stop offset="0.061" stop-color="#ffe600"/><stop offset="0.075" stop-color="#b5ff4a"/><stop offset="0.086" stop-color="#26ffd9"/><stop offset="0.097" stop-color="#0096ff"/><stop offset="0.116" stop-color="#0000f6"/><stop offset="0.165" stop-color="#0000d2"/><stop offset="0.253" stop-color="#0000b3"/><stop offset="0.397" stop-color="#0000ad"/></linearGradient><linearGradient id="a78" gradientUnits="userSpaceOnUse" x1="251.9" y1="73.5" x2="265.2" y2="104"><stop offset="0" stop-color="#ff5c00"/><stop offset="0.033" stop-color="#ff9800"/><stop offset="0.06" stop-color="#fff200"/><stop offset="0.075" stop-color="#acff53"/><stop offset="0.086" stop-color="#1fffe0"/><stop offset="0.097" stop-color="#0092ff"/><stop offset="0.115" stop-color="#0000f5"/><stop offset="0.165" stop-color="#0000d2"/><stop offset="0.253" stop-color="#0000b3"/><stop offset="0.396" stop-color="#0000ad"/></linearGradient><linearGradient id="a79" gradientUnits="userSpaceOnUse" x1="254.7" y1="72.4" x2="267.1" y2="103.1"><stop offset="0" stop-color="#ff6a00"/><stop offset="0.033" stop-color="#ffa600"/><stop offset="0.06" stop-color="#fffe00"/><stop offset="0.075" stop-color="#a2ff5d"/><stop offset="0.086" stop-color="#18ffe7"/><stop offset="0.097" stop-color="#008eff"/><stop offset="0.115" stop-color="#0000f4"/><stop offset="0.165" stop-color="#0000d1"/><stop offset="0.253" stop-color="#0000b3"/><stop offset="0.395" stop-color="#0000ad"/></linearGradient><linearGradient id="a80" gradientUnits="userSpaceOnUse" x1="257.5" y1="71.3" x2="269.1" y2="102.4"><stop offset="0" stop-color="#ff7b00"/><stop offset="0.033" stop-color="#ffb500"/><stop offset="0.06" stop-color="#f3ff0c"/><stop offset="0.075" stop-color="#97ff68"/><stop offset="0.085" stop-color="#10ffef"/><stop offset="0.096" stop-color="#0089ff"/><stop offset="0.115" stop-color="#0000f3"/><stop offset="0.164" stop-color="#0000d1"/><stop offset="0.252" stop-color="#0000b3"/><stop offset="0.395" stop-color="#0000ad"/></linearGradient><linearGradient id="a81" gradientUnits="userSpaceOnUse" x1="260.3" y1="70.3" x2="271" y2="101.7"><stop offset="0" stop-color="#ff8d00"/><stop offset="0.033" stop-color="#ffc500"/><stop offset="0.06" stop-color="#e5ff1a"/><stop offset="0.074" stop-color="#8bff74"/><stop offset="0.085" stop-color="#08fff7"/><stop offset="0.096" stop-color="#0084ff"/><stop offset="0.115" stop-color="#0000f2"/><stop offset="0.164" stop-color="#0000d0"/><stop offset="0.252" stop-color="#0000b3"/><stop offset="0.394" stop-color="#0000ad"/></linearGradient><linearGradient id="a82" gradientUnits="userSpaceOnUse" x1="263.2" y1="69.3" x2="273" y2="101"><stop offset="0" stop-color="#ff9e00"/><stop offset="0.033" stop-color="#ffd500"/><stop offset="0.06" stop-color="#d7ff28"/><stop offset="0.074" stop-color="#7fff80"/><stop offset="0.085" stop-color="#00ffff"/><stop offset="0.096" stop-color="#007fff"/><stop offset="0.115" stop-color="#0000f1"/><stop offset="0.164" stop-color="#0000d0"/><stop offset="0.251" stop-color="#0000b4"/><stop offset="0.393" stop-color="#0000ad"/></linearGradient><linearGradient id="a83" gradientUnits="userSpaceOnUse" x1="266" y1="68.5" x2="275" y2="100.4"><stop offset="0" stop-color="#ffaf00"/><stop offset="0.033" stop-color="#ffe500"/><stop offset="0.06" stop-color="#c9ff36"/><stop offset="0.074" stop-color="#74ff8b"/><stop offset="0.085" stop-color="#00f6ff"/><stop offset="0.096" stop-color="#007aff"/><stop offset="0.114" stop-color="#0000ef"/><stop offset="0.164" stop-color="#0000cf"/><stop offset="0.251" stop-color="#0000b4"/><stop offset="0.392" stop-color="#0000ad"/></linearGradient><linearGradient id="a84" gradientUnits="userSpaceOnUse" x1="268.9" y1="67.7" x2="277.1" y2="99.9"><stop offset="0" stop-color="#ffc100"/><stop offset="0.033" stop-color="#fff500"/><stop offset="0.06" stop-color="#bbff44"/><stop offset="0.074" stop-color="#68ff97"/><stop offset="0.085" stop-color="#00eeff"/><stop offset="0.096" stop-color="#0075ff"/><stop offset="0.114" stop-color="#0000ee"/><stop offset="0.163" stop-color="#0000cf"/><stop offset="0.25" stop-color="#0000b4"/><stop offset="0.392" stop-color="#0000ad"/></linearGradient><linearGradient id="a85" gradientUnits="userSpaceOnUse" x1="271.9" y1="67" x2="279.1" y2="99.4"><stop offset="0" stop-color="#ffd200"/><stop offset="0.033" stop-color="#f9ff06"/><stop offset="0.06" stop-color="#adff52"/><stop offset="0.074" stop-color="#5cffa3"/><stop offset="0.085" stop-color="#00e6ff"/><stop offset="0.096" stop-color="#0070ff"/><stop offset="0.114" stop-color="#0000ed"/><stop offset="0.163" stop-color="#0000ce"/><stop offset="0.25" stop-color="#0000b4"/><stop offset="0.391" stop-color="#0000ad"/></linearGradient><linearGradient id="a86" gradientUnits="userSpaceOnUse" x1="274.8" y1="66.4" x2="281.2" y2="99"><stop offset="0" stop-color="#ffe400"/><stop offset="0.033" stop-color="#e9ff16"/><stop offset="0.06" stop-color="#9fff60"/><stop offset="0.074" stop-color="#51ffae"/><stop offset="0.085" stop-color="#00deff"/><stop offset="0.095" stop-color="#006bff"/><stop offset="0.114" stop-color="#0000ec"/><stop offset="0.163" stop-color="#0000ce"/><stop offset="0.249" stop-color="#0000b4"/><stop offset="0.39" stop-color="#0000ad"/></linearGradient><linearGradient id="a87" gradientUnits="userSpaceOnUse" x1="277.7" y1="65.9" x2="283.2" y2="98.6"><stop offset="0" stop-color="#fffd00"/><stop offset="0.032" stop-color="#d1ff2e"/><stop offset="0.059" stop-color="#8bff74"/><stop offset="0.073" stop-color="#40ffbf"/><stop offset="0.084" stop-color="#00d1ff"/><stop offset="0.095" stop-color="#0064ff"/><stop offset="0.113" stop-color="#0000ea"/><stop offset="0.162" stop-color="#0000cd"/><stop offset="0.249" stop-color="#0000b4"/><stop offset="0.389" stop-color="#0000ad"/></linearGradient><linearGradient id="a88" gradientUnits="userSpaceOnUse" x1="280.7" y1="65.4" x2="285.3" y2="98.3"><stop offset="0" stop-color="#e7ff18"/><stop offset="0.032" stop-color="#b9ff46"/><stop offset="0.059" stop-color="#76ff89"/><stop offset="0.073" stop-color="#2effd1"/><stop offset="0.084" stop-color="#00c5ff"/><stop offset="0.095" stop-color="#005dff"/><stop offset="0.113" stop-color="#0000e8"/><stop offset="0.162" stop-color="#0000cc"/><stop offset="0.248" stop-color="#0000b4"/><stop offset="0.388" stop-color="#0000ad"/></linearGradient><linearGradient id="a89" gradientUnits="userSpaceOnUse" x1="283.7" y1="65" x2="287.4" y2="98"><stop offset="0" stop-color="#cdff32"/><stop offset="0.032" stop-color="#a1ff5e"/><stop offset="0.059" stop-color="#61ff9e"/><stop offset="0.073" stop-color="#1dffe2"/><stop offset="0.084" stop-color="#00b9ff"/><stop offset="0.094" stop-color="#0055ff"/><stop offset="0.113" stop-color="#0000e6"/><stop offset="0.161" stop-color="#0000cc"/><stop offset="0.247" stop-color="#0000b4"/><stop offset="0.386" stop-color="#0000ad"/></linearGradient><linearGradient id="a90" gradientUnits="userSpaceOnUse" x1="286.7" y1="64.7" x2="289.4" y2="97.8"><stop offset="0" stop-color="#b3ff4c"/><stop offset="0.032" stop-color="#89ff76"/><stop offset="0.059" stop-color="#4dffb2"/><stop offset="0.073" stop-color="#0cfff3"/><stop offset="0.083" stop-color="#00acff"/><stop offset="0.094" stop-color="#004eff"/><stop offset="0.112" stop-color="#0000e4"/><stop offset="0.16" stop-color="#0000cb"/><stop offset="0.246" stop-color="#0000b4"/><stop offset="0.385" stop-color="#0000ad"/></linearGradient><linearGradient id="a91" gradientUnits="userSpaceOnUse" x1="289.7" y1="64.5" x2="291.5" y2="97.7"><stop offset="0" stop-color="#99ff66"/><stop offset="0.032" stop-color="#72ff8d"/><stop offset="0.059" stop-color="#38ffc7"/><stop offset="0.072" stop-color="#00f9ff"/><stop offset="0.083" stop-color="#00a0ff"/><stop offset="0.094" stop-color="#0046ff"/><stop offset="0.112" stop-color="#0000e2"/><stop offset="0.16" stop-color="#0000ca"/><stop offset="0.245" stop-color="#0000b5"/><stop offset="0.384" stop-color="#0000ad"/></linearGradient><linearGradient id="a92" gradientUnits="userSpaceOnUse" x1="292.7" y1="64.4" x2="293.6" y2="97.6"><stop offset="0" stop-color="#86ff79"/><stop offset="0.032" stop-color="#60ff9f"/><stop offset="0.058" stop-color="#29ffd6"/><stop offset="0.072" stop-color="#00edff"/><stop offset="0.083" stop-color="#0097ff"/><stop offset="0.093" stop-color="#0041ff"/><stop offset="0.111" stop-color="#0000e1"/><stop offset="0.159" stop-color="#0000ca"/><stop offset="0.244" stop-color="#0000b5"/><stop offset="0.382" stop-color="#0000ad"/></linearGradient><linearGradient id="a93" gradientUnits="userSpaceOnUse" x1="295.7" y1="64.4" x2="295.7" y2="97.6"><stop offset="0" stop-color="#74ff8b"/><stop offset="0.032" stop-color="#4fffb0"/><stop offset="0.058" stop-color="#1affe5"/><stop offset="0.072" stop-color="#00e1ff"/><stop offset="0.083" stop-color="#008eff"/><stop offset="0.093" stop-color="#003cff"/><stop offset="0.111" stop-color="#0000e0"/><stop offset="0.159" stop-color="#0000c9"/><stop offset="0.243" stop-color="#0000b5"/><stop offset="0.381" stop-color="#0000ad"/></linearGradient><linearGradient id="a94" gradientUnits="userSpaceOnUse" x1="298.7" y1="64.4" x2="297.9" y2="97.6"><stop offset="0" stop-color="#62ff9d"/><stop offset="0.032" stop-color="#3fffc0"/><stop offset="0.058" stop-color="#0cfff3"/><stop offset="0.072" stop-color="#00d4ff"/><stop offset="0.082" stop-color="#0086ff"/><stop offset="0.093" stop-color="#0037ff"/><stop offset="0.111" stop-color="#0000de"/><stop offset="0.158" stop-color="#0000c9"/><stop offset="0.242" stop-color="#0000b5"/><stop offset="0.38" stop-color="#0000ad"/></linearGradient><linearGradient id="a95" gradientUnits="userSpaceOnUse" x1="301.7" y1="64.5" x2="300" y2="97.7"><stop offset="0" stop-color="#50ffaf"/><stop offset="0.032" stop-color="#2effd1"/><stop offset="0.058" stop-color="#00fcff"/><stop offset="0.071" stop-color="#00c8ff"/><stop offset="0.082" stop-color="#007dff"/><stop offset="0.092" stop-color="#0032ff"/><stop offset="0.11" stop-color="#0000dd"/><stop offset="0.158" stop-color="#0000c8"/><stop offset="0.242" stop-color="#0000b5"/><stop offset="0.378" stop-color="#0000ad"/></linearGradient><linearGradient id="a96" gradientUnits="userSpaceOnUse" x1="304.7" y1="64.7" x2="302.2" y2="97.8"><stop offset="0" stop-color="#3effc1"/><stop offset="0.031" stop-color="#1effe1"/><stop offset="0.058" stop-color="#00eeff"/><stop offset="0.071" stop-color="#00bcff"/><stop offset="0.082" stop-color="#0075ff"/><stop offset="0.092" stop-color="#002dff"/><stop offset="0.11" stop-color="#0000dc"/><stop offset="0.157" stop-color="#0000c8"/><stop offset="0.241" stop-color="#0000b5"/><stop offset="0.377" stop-color="#0000ad"/></linearGradient><linearGradient id="a97" gradientUnits="userSpaceOnUse" x1="307.7" y1="65" x2="304.3" y2="98"><stop offset="0" stop-color="#32ffcd"/><stop offset="0.031" stop-color="#13ffec"/><stop offset="0.057" stop-color="#00e5ff"/><stop offset="0.071" stop-color="#00b5ff"/><stop offset="0.081" stop-color="#006fff"/><stop offset="0.092" stop-color="#002aff"/><stop offset="0.11" stop-color="#0000db"/><stop offset="0.156" stop-color="#0000c8"/><stop offset="0.24" stop-color="#0000b5"/><stop offset="0.375" stop-color="#0000ad"/></linearGradient><linearGradient id="a98" gradientUnits="userSpaceOnUse" x1="310.7" y1="65.3" x2="306.5" y2="98.2"><stop offset="0" stop-color="#28ffd7"/><stop offset="0.031" stop-color="#0afff5"/><stop offset="0.057" stop-color="#00ddff"/><stop offset="0.071" stop-color="#00aeff"/><stop offset="0.081" stop-color="#006aff"/><stop offset="0.091" stop-color="#0027ff"/><stop offset="0.109" stop-color="#0000da"/><stop offset="0.156" stop-color="#0000c7"/><stop offset="0.239" stop-color="#0000b6"/><stop offset="0.374" stop-color="#0000ad"/></linearGradient><linearGradient id="a99" gradientUnits="userSpaceOnUse" x1="313.6" y1="65.7" x2="308.7" y2="98.5"><stop offset="0" stop-color="#1effe1"/><stop offset="0.031" stop-color="#00ffff"/><stop offset="0.057" stop-color="#00d4ff"/><stop offset="0.07" stop-color="#00a7ff"/><stop offset="0.081" stop-color="#0065ff"/><stop offset="0.091" stop-color="#0024ff"/><stop offset="0.109" stop-color="#0000da"/><stop offset="0.155" stop-color="#0000c7"/><stop offset="0.238" stop-color="#0000b6"/><stop offset="0.373" stop-color="#0000ad"/></linearGradient><linearGradient id="a100" gradientUnits="userSpaceOnUse" x1="316.6" y1="66.2" x2="310.9" y2="98.9"><stop offset="0" stop-color="#13ffec"/><stop offset="0.031" stop-color="#00f6ff"/><stop offset="0.057" stop-color="#00ccff"/><stop offset="0.07" stop-color="#00a0ff"/><stop offset="0.08" stop-color="#0061ff"/><stop offset="0.091" stop-color="#0021ff"/><stop offset="0.108" stop-color="#0000d9"/><stop offset="0.155" stop-color="#0000c7"/><stop offset="0.237" stop-color="#0000b6"/><stop offset="0.371" stop-color="#0000ad"/></linearGradient><linearGradient id="a101" gradientUnits="userSpaceOnUse" x1="319.5" y1="66.7" x2="313.1" y2="99.3"><stop offset="0" stop-color="#09fff6"/><stop offset="0.031" stop-color="#00ecff"/><stop offset="0.057" stop-color="#00c4ff"/><stop offset="0.07" stop-color="#0099ff"/><stop offset="0.08" stop-color="#005cff"/><stop offset="0.09" stop-color="#001eff"/><stop offset="0.108" stop-color="#0000d9"/><stop offset="0.154" stop-color="#0000c7"/><stop offset="0.236" stop-color="#0000b6"/><stop offset="0.37" stop-color="#0000ad"/></linearGradient><linearGradient id="a102" gradientUnits="userSpaceOnUse" x1="322.5" y1="67.4" x2="315.2" y2="99.8"><stop offset="0" stop-color="#00feff"/><stop offset="0.031" stop-color="#00e3ff"/><stop offset="0.056" stop-color="#00bcff"/><stop offset="0.07" stop-color="#0093ff"/><stop offset="0.08" stop-color="#0057ff"/><stop offset="0.09" stop-color="#001bff"/><stop offset="0.108" stop-color="#0000d8"/><stop offset="0.154" stop-color="#0000c7"/><stop offset="0.236" stop-color="#0000b6"/><stop offset="0.369" stop-color="#0000ad"/></linearGradient><linearGradient id="a103" gradientUnits="userSpaceOnUse" x1="325.4" y1="68" x2="317.4" y2="100.3"><stop offset="0" stop-color="#00f2ff"/><stop offset="0.031" stop-color="#00d8ff"/><stop offset="0.056" stop-color="#00b3ff"/><stop offset="0.069" stop-color="#008bff"/><stop offset="0.08" stop-color="#0051ff"/><stop offset="0.09" stop-color="#0018ff"/><stop offset="0.107" stop-color="#0000d7"/><stop offset="0.153" stop-color="#0000c7"/><stop offset="0.235" stop-color="#0000b6"/><stop offset="0.367" stop-color="#0000ad"/></linearGradient><linearGradient id="a104" gradientUnits="userSpaceOnUse" x1="328.3" y1="68.8" x2="319.6" y2="100.8"><stop offset="0" stop-color="#00deff"/><stop offset="0.03" stop-color="#00c6ff"/><stop offset="0.056" stop-color="#00a3ff"/><stop offset="0.069" stop-color="#007eff"/><stop offset="0.079" stop-color="#0048ff"/><stop offset="0.089" stop-color="#0012ff"/><stop offset="0.107" stop-color="#0000d6"/><stop offset="0.152" stop-color="#0000c6"/><stop offset="0.234" stop-color="#0000b6"/><stop offset="0.366" stop-color="#0000ad"/></linearGradient><linearGradient id="a105" gradientUnits="userSpaceOnUse" x1="331.2" y1="69.6" x2="321.7" y2="101.4"><stop offset="0" stop-color="#00caff"/><stop offset="0.03" stop-color="#00b3ff"/><stop offset="0.056" stop-color="#0093ff"/><stop offset="0.069" stop-color="#0070ff"/><stop offset="0.079" stop-color="#003eff"/><stop offset="0.089" stop-color="#000dff"/><stop offset="0.106" stop-color="#0000d4"/><stop offset="0.152" stop-color="#0000c5"/><stop offset="0.233" stop-color="#0000b7"/><stop offset="0.365" stop-color="#0000ad"/></linearGradient><linearGradient id="a106" gradientUnits="userSpaceOnUse" x1="334" y1="70.5" x2="323.9" y2="102.1"><stop offset="0" stop-color="#00b6ff"/><stop offset="0.03" stop-color="#00a1ff"/><stop offset="0.055" stop-color="#0083ff"/><stop offset="0.069" stop-color="#0063ff"/><stop offset="0.079" stop-color="#0035ff"/><stop offset="0.089" stop-color="#0007ff"/><stop offset="0.106" stop-color="#0000d3"/><stop offset="0.151" stop-color="#0000c5"/><stop offset="0.232" stop-color="#0000b7"/><stop offset="0.363" stop-color="#0000ad"/></linearGradient><linearGradient id="a107" gradientUnits="userSpaceOnUse" x1="336.8" y1="71.4" x2="326" y2="102.8"><stop offset="0" stop-color="#00a2ff"/><stop offset="0.03" stop-color="#008fff"/><stop offset="0.055" stop-color="#0073ff"/><stop offset="0.068" stop-color="#0056ff"/><stop offset="0.078" stop-color="#002cff"/><stop offset="0.088" stop-color="#0001ff"/><stop offset="0.106" stop-color="#0000d2"/><stop offset="0.151" stop-color="#0000c4"/><stop offset="0.231" stop-color="#0000b7"/><stop offset="0.362" stop-color="#0000ad"/></linearGradient><linearGradient id="a108" gradientUnits="userSpaceOnUse" x1="339.6" y1="72.5" x2="328.1" y2="103.6"><stop offset="0" stop-color="#008eff"/><stop offset="0.03" stop-color="#007cff"/><stop offset="0.055" stop-color="#0063ff"/><stop offset="0.068" stop-color="#0048ff"/><stop offset="0.078" stop-color="#0022ff"/><stop offset="0.088" stop-color="#0000fb"/><stop offset="0.105" stop-color="#0000d0"/><stop offset="0.15" stop-color="#0000c4"/><stop offset="0.23" stop-color="#0000b7"/><stop offset="0.36" stop-color="#0000ad"/></linearGradient><linearGradient id="a109" gradientUnits="userSpaceOnUse" x1="342.4" y1="73.5" x2="330.2" y2="104.4"><stop offset="0" stop-color="#007aff"/><stop offset="0.03" stop-color="#006aff"/><stop offset="0.055" stop-color="#0053ff"/><stop offset="0.068" stop-color="#003bff"/><stop offset="0.078" stop-color="#0019ff"/><stop offset="0.088" stop-color="#0000f5"/><stop offset="0.105" stop-color="#0000cf"/><stop offset="0.15" stop-color="#0000c3"/><stop offset="0.229" stop-color="#0000b7"/><stop offset="0.359" stop-color="#0000ae"/></linearGradient><linearGradient id="a110" gradientUnits="userSpaceOnUse" x1="345.2" y1="74.7" x2="332.2" y2="105.2"><stop offset="0" stop-color="#0066ff"/><stop offset="0.03" stop-color="#0058ff"/><stop offset="0.055" stop-color="#0043ff"/><stop offset="0.068" stop-color="#002eff"/><stop offset="0.078" stop-color="#000fff"/><stop offset="0.087" stop-color="#0000ef"/><stop offset="0.104" stop-color="#0000cd"/><stop offset="0.149" stop-color="#0000c3"/><stop offset="0.229" stop-color="#0000b7"/><stop offset="0.358" stop-color="#0000ae"/></linearGradient><linearGradient id="a111" gradientUnits="userSpaceOnUse" x1="347.9" y1="75.9" x2="334.3" y2="106.1"><stop offset="0" stop-color="#0051ff"/><stop offset="0.03" stop-color="#0044ff"/><stop offset="0.055" stop-color="#0032ff"/><stop offset="0.068" stop-color="#0020ff"/><stop offset="0.078" stop-color="#0005ff"/><stop offset="0.087" stop-color="#0000ea"/><stop offset="0.104" stop-color="#0000cc"/><stop offset="0.149" stop-color="#0000c2"/><stop offset="0.229" stop-color="#0000b8"/><stop offset="0.358" stop-color="#0000ae"/></linearGradient><linearGradient id="a112" gradientUnits="userSpaceOnUse" x1="350.6" y1="77.1" x2="336.4" y2="107.1"><stop offset="0" stop-color="#003dff"/><stop offset="0.03" stop-color="#0031ff"/><stop offset="0.055" stop-color="#0021ff"/><stop offset="0.068" stop-color="#0012ff"/><stop offset="0.078" stop-color="#0000fa"/><stop offset="0.087" stop-color="#0000e4"/><stop offset="0.104" stop-color="#0000ca"/><stop offset="0.149" stop-color="#0000c2"/><stop offset="0.229" stop-color="#0000b8"/><stop offset="0.358" stop-color="#0000ae"/></linearGradient><linearGradient id="a113" gradientUnits="userSpaceOnUse" x1="353.3" y1="78.4" x2="338.5" y2="108.1"><stop offset="0" stop-color="#0028ff"/><stop offset="0.03" stop-color="#001eff"/><stop offset="0.055" stop-color="#0011ff"/><stop offset="0.068" stop-color="#0004ff"/><stop offset="0.078" stop-color="#0000f0"/><stop offset="0.087" stop-color="#0000de"/><stop offset="0.104" stop-color="#0000c9"/><stop offset="0.149" stop-color="#0000c1"/><stop offset="0.229" stop-color="#0000b8"/><stop offset="0.358" stop-color="#0000ae"/></linearGradient><linearGradient id="a114" gradientUnits="userSpaceOnUse" x1="356" y1="79.8" x2="340.6" y2="109.2"><stop offset="0" stop-color="#0013ff"/><stop offset="0.03" stop-color="#000bff"/><stop offset="0.055" stop-color="#0000ff"/><stop offset="0.068" stop-color="#0000f5"/><stop offset="0.078" stop-color="#0000e6"/><stop offset="0.087" stop-color="#0000d8"/><stop offset="0.104" stop-color="#0000c7"/><stop offset="0.149" stop-color="#0000c1"/><stop offset="0.229" stop-color="#0000b8"/><stop offset="0.358" stop-color="#0000ae"/></linearGradient><linearGradient id="a115" gradientUnits="userSpaceOnUse" x1="358.4" y1="81" x2="342.5" y2="110.2"><stop offset="0" stop-color="#0000ff"/><stop offset="0.03" stop-color="#0000f9"/><stop offset="0.055" stop-color="#0000f0"/><stop offset="0.068" stop-color="#0000e8"/><stop offset="0.078" stop-color="#0000dd"/><stop offset="0.087" stop-color="#0000d2"/><stop offset="0.104" stop-color="#0000c6"/><stop offset="0.149" stop-color="#0000c0"/><stop offset="0.229" stop-color="#0000b8"/><stop offset="0.358" stop-color="#0000ae"/></linearGradient><linearGradient id="a116" gradientUnits="userSpaceOnUse" x1="361" y1="82.5" x2="353.6" y2="95.7"><stop offset="0" stop-color="#0000ea"/><stop offset="0.065" stop-color="#0000e5"/><stop offset="0.119" stop-color="#0000e0"/><stop offset="0.148" stop-color="#0000da"/><stop offset="0.169" stop-color="#0000d3"/><stop offset="0.191" stop-color="#0000cd"/><stop offset="0.228" stop-color="#0000c4"/><stop offset="0.326" stop-color="#0000bf"/><stop offset="0.499" stop-color="#0000b8"/><stop offset="0.782" stop-color="#0000ae"/></linearGradient><linearGradient id="a117" gradientUnits="userSpaceOnUse" x1="363.9" y1="84.2" x2="356.3" y2="97.3"><stop offset="0" stop-color="#0000d3"/><stop offset="0.065" stop-color="#0000d0"/><stop offset="0.119" stop-color="#0000cd"/><stop offset="0.148" stop-color="#0000cb"/><stop offset="0.169" stop-color="#0000c8"/><stop offset="0.191" stop-color="#0000c6"/><stop offset="0.228" stop-color="#0000c3"/><stop offset="0.326" stop-color="#0000bf"/><stop offset="0.499" stop-color="#0000b8"/><stop offset="0.782" stop-color="#0000ae"/></linearGradient><linearGradient id="a118" gradientUnits="userSpaceOnUse" x1="366.5" y1="85.7" x2="358.7" y2="98.7"><stop offset="0" stop-color="#0000cb"/><stop offset="0.065" stop-color="#0000c8"/><stop offset="0.119" stop-color="#0000c6"/><stop offset="0.148" stop-color="#0000c5"/><stop offset="0.169" stop-color="#0000c4"/><stop offset="0.191" stop-color="#0000c4"/><stop offset="0.228" stop-color="#0000c2"/><stop offset="0.326" stop-color="#0000bf"/><stop offset="0.499" stop-color="#0000b8"/><stop offset="0.782" stop-color="#0000ae"/></linearGradient><linearGradient id="a119" gradientUnits="userSpaceOnUse" x1="369.1" y1="87.3" x2="361.2" y2="100.2"><stop offset="0" stop-color="#0000cb"/><stop offset="0.065" stop-color="#0000c8"/><stop offset="0.119" stop-color="#0000c6"/><stop offset="0.148" stop-color="#0000c5"/><stop offset="0.169" stop-color="#0000c5"/><stop offset="0.191" stop-color="#0000c4"/><stop offset="0.228" stop-color="#0000c2"/><stop offset="0.326" stop-color="#0000bf"/><stop offset="0.499" stop-color="#0000b8"/><stop offset="0.782" stop-color="#0000ae"/></linearGradient><linearGradient id="a120" gradientUnits="userSpaceOnUse" x1="371.6" y1="88.8" x2="363.6" y2="101.7"><stop offset="0" stop-color="#0000cb"/><stop offset="0.065" stop-color="#0000c9"/><stop offset="0.119" stop-color="#0000c7"/><stop offset="0.148" stop-color="#0000c6"/><stop offset="0.169" stop-color="#0000c5"/><stop offset="0.191" stop-color="#0000c4"/><stop offset="0.228" stop-color="#0000c3"/><stop offset="0.326" stop-color="#0000bf"/><stop offset="0.499" stop-color="#0000b8"/><stop offset="0.782" stop-color="#0000ae"/></linearGradient><linearGradient id="a121" gradientUnits="userSpaceOnUse" x1="374.2" y1="90.4" x2="366" y2="103.2"><stop offset="0" stop-color="#0000cb"/><stop offset="0.065" stop-color="#0000c9"/><stop offset="0.119" stop-color="#0000c7"/><stop offset="0.148" stop-color="#0000c6"/><stop offset="0.169" stop-color="#0000c5"/><stop offset="0.191" stop-color="#0000c4"/><stop offset="0.228" stop-color="#0000c3"/><stop offset="0.326" stop-color="#0000bf"/><stop offset="0.499" stop-color="#0000b8"/><stop offset="0.782" stop-color="#0000ae"/></linearGradient><linearGradient id="a122" gradientUnits="userSpaceOnUse" x1="376.7" y1="92.1" x2="368.4" y2="104.8"><stop offset="0" stop-color="#0000cc"/><stop offset="0.065" stop-color="#0000c9"/><stop offset="0.119" stop-color="#0000c7"/><stop offset="0.148" stop-color="#0000c6"/><stop offset="0.169" stop-color="#0000c5"/><stop offset="0.191" stop-color="#0000c4"/><stop offset="0.228" stop-color="#0000c3"/><stop offset="0.326" stop-color="#0000bf"/><stop offset="0.499" stop-color="#0000b9"/><stop offset="0.782" stop-color="#0000ae"/></linearGradient><linearGradient id="a123" gradientUnits="userSpaceOnUse" x1="379.6" y1="94" x2="371.2" y2="106.7"><stop offset="0" stop-color="#0000cc"/><stop offset="0.065" stop-color="#0000c9"/><stop offset="0.119" stop-color="#0000c7"/><stop offset="0.148" stop-color="#0000c6"/><stop offset="0.169" stop-color="#0000c5"/><stop offset="0.191" stop-color="#0000c5"/><stop offset="0.228" stop-color="#0000c3"/><stop offset="0.326" stop-color="#0000bf"/><stop offset="0.499" stop-color="#0000b9"/><stop offset="0.782" stop-color="#0000ae"/></linearGradient><linearGradient id="a124" gradientUnits="userSpaceOnUse" x1="383" y1="96.2" x2="374.5" y2="108.8"><stop offset="0" stop-color="#0000cb"/><stop offset="0.065" stop-color="#0000c8"/><stop offset="0.119" stop-color="#0000c6"/><stop offset="0.148" stop-color="#0000c5"/><stop offset="0.169" stop-color="#0000c4"/><stop offset="0.191" stop-color="#0000c4"/><stop offset="0.228" stop-color="#0000c2"/><stop offset="0.326" stop-color="#0000bf"/><stop offset="0.499" stop-color="#0000b8"/><stop offset="0.782" stop-color="#0000ae"/></linearGradient><linearGradient id="a125" gradientUnits="userSpaceOnUse" x1="386.3" y1="98.5" x2="377.7" y2="111"><stop offset="0" stop-color="#0000c9"/><stop offset="0.065" stop-color="#0000c7"/><stop offset="0.119" stop-color="#0000c5"/><stop offset="0.148" stop-color="#0000c4"/><stop offset="0.169" stop-color="#0000c3"/><stop offset="0.191" stop-color="#0000c3"/><stop offset="0.228" stop-color="#0000c1"/><stop offset="0.326" stop-color="#0000be"/><stop offset="0.499" stop-color="#0000b8"/><stop offset="0.782" stop-color="#0000ae"/></linearGradient><linearGradient id="a126" gradientUnits="userSpaceOnUse" x1="389.6" y1="100.7" x2="381" y2="113.2"><stop offset="0" stop-color="#0000c8"/><stop offset="0.065" stop-color="#0000c6"/><stop offset="0.119" stop-color="#0000c4"/><stop offset="0.148" stop-color="#0000c3"/><stop offset="0.169" stop-color="#0000c2"/><stop offset="0.191" stop-color="#0000c1"/><stop offset="0.228" stop-color="#0000c0"/><stop offset="0.326" stop-color="#0000bd"/><stop offset="0.499" stop-color="#0000b7"/><stop offset="0.782" stop-color="#0000ae"/></linearGradient><linearGradient id="a127" gradientUnits="userSpaceOnUse" x1="392.9" y1="103" x2="384.2" y2="115.5"><stop offset="0" stop-color="#0000c6"/><stop offset="0.065" stop-color="#0000c4"/><stop offset="0.119" stop-color="#0000c3"/><stop offset="0.148" stop-color="#0000c2"/><stop offset="0.169" stop-color="#0000c1"/><stop offset="0.191" stop-color="#0000c0"/><stop offset="0.228" stop-color="#0000bf"/><stop offset="0.326" stop-color="#0000bc"/><stop offset="0.499" stop-color="#0000b7"/><stop offset="0.782" stop-color="#0000ae"/></linearGradient><linearGradient id="a128" gradientUnits="userSpaceOnUse" x1="396.2" y1="105.3" x2="387.5" y2="117.8"><stop offset="0" stop-color="#0000c5"/><stop offset="0.065" stop-color="#0000c3"/><stop offset="0.119" stop-color="#0000c1"/><stop offset="0.148" stop-color="#0000c1"/><stop offset="0.169" stop-color="#0000c0"/><stop offset="0.191" stop-color="#0000bf"/><stop offset="0.228" stop-color="#0000be"/><stop offset="0.326" stop-color="#0000bb"/><stop offset="0.499" stop-color="#0000b6"/><stop offset="0.782" stop-color="#0000ae"/></linearGradient><linearGradient id="a129" gradientUnits="userSpaceOnUse" x1="399.4" y1="107.6" x2="390.8" y2="120.1"><stop offset="0" stop-color="#0000c3"/><stop offset="0.065" stop-color="#0000c2"/><stop offset="0.119" stop-color="#0000c0"/><stop offset="0.148" stop-color="#0000bf"/><stop offset="0.169" stop-color="#0000bf"/><stop offset="0.191" stop-color="#0000be"/><stop offset="0.228" stop-color="#0000bd"/><stop offset="0.326" stop-color="#0000ba"/><stop offset="0.499" stop-color="#0000b6"/><stop offset="0.782" stop-color="#0000ae"/></linearGradient><linearGradient id="a130" gradientUnits="userSpaceOnUse" x1="402.7" y1="109.8" x2="394.1" y2="122.3"><stop offset="0" stop-color="#0000c2"/><stop offset="0.065" stop-color="#0000c0"/><stop offset="0.119" stop-color="#0000bf"/><stop offset="0.148" stop-color="#0000be"/><stop offset="0.169" stop-color="#0000be"/><stop offset="0.191" stop-color="#0000bd"/><stop offset="0.228" stop-color="#0000bc"/><stop offset="0.326" stop-color="#0000ba"/><stop offset="0.499" stop-color="#0000b5"/><stop offset="0.782" stop-color="#0000ae"/></linearGradient><linearGradient id="a131" gradientUnits="userSpaceOnUse" x1="406" y1="112.1" x2="397.4" y2="124.6"><stop offset="0" stop-color="#0000c1"/><stop offset="0.065" stop-color="#0000bf"/><stop offset="0.119" stop-color="#0000be"/><stop offset="0.148" stop-color="#0000bd"/><stop offset="0.169" stop-color="#0000bc"/><stop offset="0.191" stop-color="#0000bc"/><stop offset="0.228" stop-color="#0000bb"/><stop offset="0.326" stop-color="#0000b9"/><stop offset="0.499" stop-color="#0000b4"/><stop offset="0.782" stop-color="#0000ae"/></linearGradient><linearGradient id="a132" gradientUnits="userSpaceOnUse" x1="409.3" y1="114.4" x2="400.7" y2="126.9"><stop offset="0" stop-color="#0000bf"/><stop offset="0.065" stop-color="#0000be"/><stop offset="0.119" stop-color="#0000bc"/><stop offset="0.148" stop-color="#0000bc"/><stop offset="0.169" stop-color="#0000bb"/><stop offset="0.191" stop-color="#0000bb"/><stop offset="0.228" stop-color="#0000ba"/><stop offset="0.326" stop-color="#0000b8"/><stop offset="0.499" stop-color="#0000b4"/><stop offset="0.782" stop-color="#0000ae"/></linearGradient><linearGradient id="a133" gradientUnits="userSpaceOnUse" x1="412.6" y1="116.6" x2="404.1" y2="129.2"><stop offset="0" stop-color="#0000be"/><stop offset="0.065" stop-color="#0000bc"/><stop offset="0.119" stop-color="#0000bb"/><stop offset="0.148" stop-color="#0000bb"/><stop offset="0.169" stop-color="#0000ba"/><stop offset="0.191" stop-color="#0000ba"/><stop offset="0.228" stop-color="#0000b9"/><stop offset="0.326" stop-color="#0000b7"/><stop offset="0.499" stop-color="#0000b3"/><stop offset="0.782" stop-color="#0000ae"/></linearGradient><linearGradient id="a134" gradientUnits="userSpaceOnUse" x1="415.9" y1="118.9" x2="407.4" y2="131.5"><stop offset="0" stop-color="#0000bc"/><stop offset="0.065" stop-color="#0000bb"/><stop offset="0.119" stop-color="#0000ba"/><stop offset="0.148" stop-color="#0000b9"/><stop offset="0.169" stop-color="#0000b9"/><stop offset="0.191" stop-color="#0000b9"/><stop offset="0.228" stop-color="#0000b8"/><stop offset="0.326" stop-color="#0000b6"/><stop offset="0.499" stop-color="#0000b3"/><stop offset="0.782" stop-color="#0000ae"/></linearGradient><linearGradient id="a135" gradientUnits="userSpaceOnUse" x1="419.2" y1="121.1" x2="410.8" y2="133.7"><stop offset="0" stop-color="#0000bb"/><stop offset="0.065" stop-color="#0000ba"/><stop offset="0.119" stop-color="#0000b9"/><stop offset="0.148" stop-color="#0000b8"/><stop offset="0.169" stop-color="#0000b8"/><stop offset="0.191" stop-color="#0000b8"/><stop offset="0.228" stop-color="#0000b7"/><stop offset="0.326" stop-color="#0000b5"/><stop offset="0.499" stop-color="#0000b2"/><stop offset="0.782" stop-color="#0000ae"/></linearGradient><linearGradient id="a136" gradientUnits="userSpaceOnUse" x1="422.6" y1="123.3" x2="414.1" y2="136"><stop offset="0" stop-color="#0000b9"/><stop offset="0.065" stop-color="#0000b8"/><stop offset="0.119" stop-color="#0000b8"/><stop offset="0.148" stop-color="#0000b7"/><stop offset="0.169" stop-color="#0000b7"/><stop offset="0.191" stop-color="#0000b6"/><stop offset="0.228" stop-color="#0000b6"/><stop offset="0.326" stop-color="#0000b4"/><stop offset="0.499" stop-color="#0000b2"/><stop offset="0.782" stop-color="#0000ae"/></linearGradient><linearGradient id="a137" gradientUnits="userSpaceOnUse" x1="425.9" y1="125.6" x2="417.4" y2="138.2"><stop offset="0" stop-color="#0000b8"/><stop offset="0.065" stop-color="#0000b7"/><stop offset="0.119" stop-color="#0000b6"/><stop offset="0.148" stop-color="#0000b6"/><stop offset="0.169" stop-color="#0000b6"/><stop offset="0.191" stop-color="#0000b5"/><stop offset="0.228" stop-color="#0000b5"/><stop offset="0.326" stop-color="#0000b4"/><stop offset="0.499" stop-color="#0000b1"/><stop offset="0.782" stop-color="#0000ae"/></linearGradient><linearGradient id="a138" gradientUnits="userSpaceOnUse" x1="429.2" y1="127.8" x2="420.8" y2="140.4"><stop offset="0" stop-color="#0000b6"/><stop offset="0.065" stop-color="#0000b6"/><stop offset="0.119" stop-color="#0000b5"/><stop offset="0.148" stop-color="#0000b5"/><stop offset="0.169" stop-color="#0000b4"/><stop offset="0.191" stop-color="#0000b4"/><stop offset="0.228" stop-color="#0000b4"/><stop offset="0.326" stop-color="#0000b3"/><stop offset="0.499" stop-color="#0000b1"/><stop offset="0.782" stop-color="#0000ad"/></linearGradient><linearGradient id="a139" gradientUnits="userSpaceOnUse" x1="432.5" y1="130" x2="424.2" y2="142.7"><stop offset="0" stop-color="#0000b5"/><stop offset="0.065" stop-color="#0000b4"/><stop offset="0.119" stop-color="#0000b4"/><stop offset="0.148" stop-color="#0000b4"/><stop offset="0.169" stop-color="#0000b3"/><stop offset="0.191" stop-color="#0000b3"/><stop offset="0.228" stop-color="#0000b3"/><stop offset="0.326" stop-color="#0000b2"/><stop offset="0.499" stop-color="#0000b0"/><stop offset="0.782" stop-color="#0000ad"/></linearGradient><linearGradient id="a140" gradientUnits="userSpaceOnUse" x1="435.9" y1="132.2" x2="427.5" y2="144.9"><stop offset="0" stop-color="#0000b4"/><stop offset="0.065" stop-color="#0000b3"/><stop offset="0.119" stop-color="#0000b3"/><stop offset="0.148" stop-color="#0000b2"/><stop offset="0.169" stop-color="#0000b2"/><stop offset="0.191" stop-color="#0000b2"/><stop offset="0.228" stop-color="#0000b2"/><stop offset="0.326" stop-color="#0000b1"/><stop offset="0.499" stop-color="#0000b0"/><stop offset="0.782" stop-color="#0000ad"/></linearGradient><linearGradient id="a141" gradientUnits="userSpaceOnUse" x1="439.2" y1="134.4" x2="430.9" y2="147.1"><stop offset="0" stop-color="#0000b2"/><stop offset="0.065" stop-color="#0000b2"/><stop offset="0.119" stop-color="#0000b1"/><stop offset="0.148" stop-color="#0000b1"/><stop offset="0.169" stop-color="#0000b1"/><stop offset="0.191" stop-color="#0000b1"/><stop offset="0.228" stop-color="#0000b1"/><stop offset="0.326" stop-color="#0000b0"/><stop offset="0.499" stop-color="#0000af"/><stop offset="0.782" stop-color="#0000ad"/></linearGradient><linearGradient id="a142" gradientUnits="userSpaceOnUse" x1="442.6" y1="136.6" x2="434.2" y2="149.3"><stop offset="0" stop-color="#0000b1"/><stop offset="0.065" stop-color="#0000b0"/><stop offset="0.119" stop-color="#0000b0"/><stop offset="0.148" stop-color="#0000b0"/><stop offset="0.169" stop-color="#0000b0"/><stop offset="0.191" stop-color="#0000b0"/><stop offset="0.228" stop-color="#0000b0"/><stop offset="0.326" stop-color="#0000af"/><stop offset="0.499" stop-color="#0000af"/><stop offset="0.782" stop-color="#0000ad"/></linearGradient><linearGradient id="a143" gradientUnits="userSpaceOnUse" x1="445.9" y1="138.8" x2="437.6" y2="151.5"><stop offset="0" stop-color="#0000af"/><stop offset="0.065" stop-color="#0000af"/><stop offset="0.119" stop-color="#0000af"/><stop offset="0.148" stop-color="#0000af"/><stop offset="0.169" stop-color="#0000af"/><stop offset="0.191" stop-color="#0000af"/><stop offset="0.228" stop-color="#0000af"/><stop offset="0.326" stop-color="#0000ae"/><stop offset="0.499" stop-color="#0000ae"/><stop offset="0.782" stop-color="#0000ad"/></linearGradient><linearGradient id="a144" gradientUnits="userSpaceOnUse" x1="449.3" y1="141" x2="441" y2="153.7"><stop offset="0" stop-color="#0000ae"/><stop offset="0.065" stop-color="#0000ae"/><stop offset="0.119" stop-color="#0000ae"/><stop offset="0.148" stop-color="#0000ae"/><stop offset="0.169" stop-color="#0000ae"/><stop offset="0.191" stop-color="#0000ae"/><stop offset="0.228" stop-color="#0000ae"/><stop offset="0.326" stop-color="#0000ae"/><stop offset="0.499" stop-color="#0000ae"/><stop offset="0.782" stop-color="#0000ad"/></linearGradient><linearGradient id="a145" gradientUnits="userSpaceOnUse" x1="452.6" y1="143.1" x2="444.3" y2="155.9"><stop offset="0" stop-color="#0000ad"/><stop offset="0.065" stop-color="#0000ad"/><stop offset="0.119" stop-color="#0000ad"/><stop offset="0.148" stop-color="#0000ad"/><stop offset="0.169" stop-color="#0000ad"/><stop offset="0.191" stop-color="#0000ad"/><stop offset="0.228" stop-color="#0000ad"/><stop offset="0.326" stop-color="#0000ad"/><stop offset="0.499" stop-color="#0000ad"/><stop offset="0.782" stop-color="#0000ad"/></linearGradient><linearGradient id="a146" gradientUnits="userSpaceOnUse" x1="457.2" y1="146.1" x2="449" y2="158.9"><stop offset="0" stop-color="#0000ad"/><stop offset="0.065" stop-color="#0000ad"/><stop offset="0.119" stop-color="#0000ad"/><stop offset="0.148" stop-color="#0000ad"/><stop offset="0.169" stop-color="#0000ad"/><stop offset="0.191" stop-color="#0000ad"/><stop offset="0.228" stop-color="#0000ad"/><stop offset="0.326" stop-color="#0000ad"/><stop offset="0.499" stop-color="#0000ad"/><stop offset="0.782" stop-color="#0000ad"/></linearGradient><linearGradient id="a147" gradientUnits="userSpaceOnUse" x1="463.1" y1="149.9" x2="454.9" y2="162.7"><stop offset="0" stop-color="#0000ad"/><stop offset="0.065" stop-color="#0000ad"/><stop offset="0.119" stop-color="#0000ad"/><stop offset="0.148" stop-color="#0000ad"/><stop offset="0.169" stop-color="#0000ad"/><stop offset="0.191" stop-color="#0000ad"/><stop offset="0.228" stop-color="#0000ad"/><stop offset="0.326" stop-color="#0000ad"/><stop offset="0.499" stop-color="#0000ad"/><stop offset="0.782" stop-color="#0000ad"/></linearGradient><linearGradient id="a148" gradientUnits="userSpaceOnUse" x1="469" y1="153.7" x2="460.8" y2="166.5"><stop offset="0" stop-color="#0000ad"/><stop offset="0.065" stop-color="#0000ad"/><stop offset="0.119" stop-color="#0000ad"/><stop offset="0.148" stop-color="#0000ad"/><stop offset="0.169" stop-color="#0000ad"/><stop offset="0.191" stop-color="#0000ad"/><stop offset="0.228" stop-color="#0000ad"/><stop offset="0.326" stop-color="#0000ad"/><stop offset="0.499" stop-color="#0000ad"/><stop offset="0.782" stop-color="#0000ad"/></linearGradient><linearGradient id="a149" gradientUnits="userSpaceOnUse" x1="474.9" y1="157.5" x2="466.7" y2="170.3"><stop offset="0" stop-color="#0000ad"/><stop offset="0.065" stop-color="#0000ad"/><stop offset="0.119" stop-color="#0000ad"/><stop offset="0.148" stop-color="#0000ad"/><stop offset="0.169" stop-color="#0000ad"/><stop offset="0.191" stop-color="#0000ad"/><stop offset="0.228" stop-color="#0000ad"/><stop offset="0.326" stop-color="#0000ad"/><stop offset="0.499" stop-color="#0000ad"/><stop offset="0.782" stop-color="#0000ad"/></linearGradient><linearGradient id="a150" gradientUnits="userSpaceOnUse" x1="480.8" y1="161.2" x2="472.7" y2="174"><stop offset="0" stop-color="#0000ad"/><stop offset="0.065" stop-color="#0000ad"/><stop offset="0.119" stop-color="#0000ad"/><stop offset="0.148" stop-color="#0000ad"/><stop offset="0.169" stop-color="#0000ad"/><stop offset="0.191" stop-color="#0000ad"/><stop offset="0.228" stop-color="#0000ad"/><stop offset="0.326" stop-color="#0000ad"/><stop offset="0.499" stop-color="#0000ad"/><stop offset="0.782" stop-color="#0000ad"/></linearGradient><linearGradient id="a151" gradientUnits="userSpaceOnUse" x1="486.7" y1="165" x2="478.6" y2="177.8"><stop offset="0" stop-color="#0000ad"/><stop offset="0.065" stop-color="#0000ad"/><stop offset="0.119" stop-color="#0000ad"/><stop offset="0.148" stop-color="#0000ad"/><stop offset="0.169" stop-color="#0000ad"/><stop offset="0.191" stop-color="#0000ad"/><stop offset="0.228" stop-color="#0000ad"/><stop offset="0.326" stop-color="#0000ad"/><stop offset="0.499" stop-color="#0000ad"/><stop offset="0.782" stop-color="#0000ad"/></linearGradient><linearGradient id="a152" gradientUnits="userSpaceOnUse" x1="492.7" y1="168.7" x2="484.5" y2="181.6"><stop offset="0" stop-color="#0000ad"/><stop offset="0.065" stop-color="#0000ad"/><stop offset="0.119" stop-color="#0000ad"/><stop offset="0.148" stop-color="#0000ad"/><stop offset="0.169" stop-color="#0000ad"/><stop offset="0.191" stop-color="#0000ad"/><stop offset="0.228" stop-color="#0000ad"/><stop offset="0.326" stop-color="#0000ad"/><stop offset="0.499" stop-color="#0000ad"/><stop offset="0.782" stop-color="#0000ad"/></linearGradient><linearGradient id="a153" gradientUnits="userSpaceOnUse" x1="498.6" y1="172.4" x2="490.5" y2="185.3"><stop offset="0" stop-color="#0000ad"/><stop offset="0.065" stop-color="#0000ad"/><stop offset="0.119" stop-color="#0000ad"/><stop offset="0.148" stop-color="#0000ad"/><stop offset="0.169" stop-color="#0000ad"/><stop offset="0.191" stop-color="#0000ad"/><stop offset="0.228" stop-color="#0000ad"/><stop offset="0.326" stop-color="#0000ad"/><stop offset="0.499" stop-color="#0000ad"/><stop offset="0.782" stop-color="#0000ad"/></linearGradient><linearGradient id="a154" gradientUnits="userSpaceOnUse" x1="504.5" y1="176.2" x2="496.4" y2="189"><stop offset="0" stop-color="#0000ad"/><stop offset="0.065" stop-color="#0000ad"/><stop offset="0.119" stop-color="#0000ad"/><stop offset="0.148" stop-color="#0000ad"/><stop offset="0.169" stop-color="#0000ad"/><stop offset="0.191" stop-color="#0000ad"/><stop offset="0.228" stop-color="#0000ad"/><stop offset="0.326" stop-color="#0000ad"/><stop offset="0.499" stop-color="#0000ad"/><stop offset="0.782" stop-color="#0000ad"/></linearGradient><linearGradient id="a155" gradientUnits="userSpaceOnUse" x1="510.4" y1="179.9" x2="502.4" y2="192.8"><stop offset="0" stop-color="#0000ad"/><stop offset="0.065" stop-color="#0000ad"/><stop offset="0.119" stop-color="#0000ad"/><stop offset="0.148" stop-color="#0000ad"/><stop offset="0.169" stop-color="#0000ad"/><stop offset="0.191" stop-color="#0000ad"/><stop offset="0.228" stop-color="#0000ad"/><stop offset="0.326" stop-color="#0000ad"/><stop offset="0.499" stop-color="#0000ad"/><stop offset="0.782" stop-color="#0000ad"/></linearGradient><linearGradient id="a156" gradientUnits="userSpaceOnUse" x1="516.4" y1="183.6" x2="508.3" y2="196.5"><stop offset="0" stop-color="#0000ad"/><stop offset="0.065" stop-color="#0000ad"/><stop offset="0.119" stop-color="#0000ad"/><stop offset="0.148" stop-color="#0000ad"/><stop offset="0.169" stop-color="#0000ad"/><stop offset="0.191" stop-color="#0000ad"/><stop offset="0.228" stop-color="#0000ad"/><stop offset="0.326" stop-color="#0000ad"/><stop offset="0.499" stop-color="#0000ad"/><stop offset="0.782" stop-color="#0000ad"/></linearGradient><linearGradient id="a157" gradientUnits="userSpaceOnUse" x1="522.3" y1="187.3" x2="514.2" y2="200.2"><stop offset="0" stop-color="#0000ad"/><stop offset="0.065" stop-color="#0000ad"/><stop offset="0.119" stop-color="#0000ad"/><stop offset="0.148" stop-color="#0000ad"/><stop offset="0.169" stop-color="#0000ad"/><stop offset="0.191" stop-color="#0000ad"/><stop offset="0.228" stop-color="#0000ad"/><stop offset="0.326" stop-color="#0000ad"/><stop offset="0.499" stop-color="#0000ad"/><stop offset="0.782" stop-color="#0000ad"/></linearGradient><linearGradient id="a158" gradientUnits="userSpaceOnUse" x1="528.2" y1="191" x2="520.2" y2="203.9"><stop offset="0" stop-color="#0000ad"/><stop offset="0.065" stop-color="#0000ad"/><stop offset="0.119" stop-color="#0000ad"/><stop offset="0.148" stop-color="#0000ad"/><stop offset="0.169" stop-color="#0000ad"/><stop offset="0.191" stop-color="#0000ad"/><stop offset="0.228" stop-color="#0000ad"/><stop offset="0.326" stop-color="#0000ad"/><stop offset="0.499" stop-color="#0000ad"/><stop offset="0.782" stop-color="#0000ad"/></linearGradient><linearGradient id="a159" gradientUnits="userSpaceOnUse" x1="534.2" y1="194.7" x2="526.1" y2="207.6"><stop offset="0" stop-color="#0000ad"/><stop offset="0.065" stop-color="#0000ad"/><stop offset="0.119" stop-color="#0000ad"/><stop offset="0.148" stop-color="#0000ad"/><stop offset="0.169" stop-color="#0000ad"/><stop offset="0.191" stop-color="#0000ad"/><stop offset="0.228" stop-color="#0000ad"/><stop offset="0.326" stop-color="#0000ad"/><stop offset="0.499" stop-color="#0000ad"/><stop offset="0.782" stop-color="#0000ad"/></linearGradient><linearGradient id="a160" gradientUnits="userSpaceOnUse" x1="538.6" y1="197.5" x2="530.6" y2="210.4"><stop offset="0" stop-color="#0000ad"/><stop offset="0.065" stop-color="#0000ad"/><stop offset="0.119" stop-color="#0000ad"/><stop offset="0.148" stop-color="#0000ad"/><stop offset="0.169" stop-color="#0000ad"/><stop offset="0.191" stop-color="#0000ad"/><stop offset="0.228" stop-color="#0000ad"/><stop offset="0.326" stop-color="#0000ad"/><stop offset="0.499" stop-color="#0000ad"/><stop offset="0.782" stop-color="#0000ad"/></linearGradient></defs>
<path fill="url(#a0)" d="M105.3 359.2L107.7 352.1L142 363.7L139.6 370.8Z"/><path fill="url(#a1)" d="M107.2 353.5L109.7 346.4L143.9 358.1L141.5 365.2Z"/><path fill="url(#a2)" d="M109.2 347.8L111.6 340.7L145.9 352.4L143.5 359.5Z"/><path fill="url(#a3)" d="M111.1 342.2L113.5 335.1L147.8 346.8L145.4 353.8Z"/><path fill="url(#a4)" d="M113.1 336.5L115.5 329.4L149.7 341.1L147.3 348.2Z"/><path fill="url(#a5)" d="M115 330.8L117.4 323.7L151.7 335.5L149.2 342.5Z"/><path fill="url(#a6)" d="M116.9 325.1L119.4 318L153.6 329.8L151.2 336.9Z"/><path fill="url(#a7)" d="M118.9 319.4L121.4 312.4L155.6 324.2L153.1 331.3Z"/><path fill="url(#a8)" d="M120.9 313.8L123.3 306.7L157.5 318.6L155.1 325.6Z"/><path fill="url(#a9)" d="M122.8 308.1L125.3 301L159.5 313L157 320Z"/><path fill="url(#a10)" d="M124.8 302.5L127.3 295.4L161.4 307.4L159 314.4Z"/><path fill="url(#a11)" d="M126.8 296.8L129.3 289.7L163.4 301.8L160.9 308.8Z"/><path fill="url(#a12)" d="M128.8 291.2L131.3 284.1L165.4 296.2L162.9 303.2Z"/><path fill="url(#a13)" d="M130.8 285.5L133.3 278.4L167.4 290.6L164.9 297.6Z"/><path fill="url(#a14)" d="M132.8 279.9L135.3 272.8L169.4 285.1L166.9 292.1Z"/><path fill="url(#a15)" d="M134.8 274.2L137.4 267.2L171.4 279.5L168.9 286.5Z"/><path fill="url(#a16)" d="M136.9 268.6L139.4 261.5L173.4 273.9L170.9 280.9Z"/><path fill="url(#a17)" d="M138.9 262.9L141.5 255.9L175.5 268.4L172.9 275.3Z"/><path fill="url(#a18)" d="M141 257.3L143.6 250.3L177.5 262.8L175 269.8Z"/><path fill="url(#a19)" d="M143 251.7L145.7 244.6L179.6 257.3L177 264.2Z"/><path fill="url(#a20)" d="M145.1 246.1L147.8 239L181.7 251.7L179.1 258.7Z"/><path fill="url(#a21)" d="M147.2 240.4L149.9 233.4L183.7 246.2L181.1 253.1Z"/><path fill="url(#a22)" d="M149.3 234.8L152 227.8L185.8 240.6L183.2 247.6Z"/><path fill="url(#a23)" d="M151.5 229.2L154.2 222.2L188 235.1L185.3 242Z"/><path fill="url(#a24)" d="M153.6 223.6L156.3 216.5L190.1 229.6L187.4 236.5Z"/><path fill="url(#a25)" d="M155.8 217.9L158.5 210.9L192.2 224.1L189.6 231Z"/><path fill="url(#a26)" d="M158 212.3L160.7 205.3L194.4 218.5L191.7 225.5Z"/><path fill="url(#a27)" d="M160.2 206.7L162.9 199.7L196.6 213L193.9 219.9Z"/><path fill="url(#a28)" d="M162.4 201.1L165.1 194.1L198.8 207.4L196 214.4Z"/><path fill="url(#a29)" d="M164.6 195.5L167.3 188.5L201 201.8L198.2 208.8Z"/><path fill="url(#a30)" d="M166.8 189.9L169.6 182.9L203.2 196.3L200.4 203.2Z"/><path fill="url(#a31)" d="M169 184.3L170.7 180.1L204.3 193.5L202.7 197.7Z"/><path fill="url(#a32)" d="M170.1 181.5L171.8 177.3L205.4 190.7L203.8 194.9Z"/><path fill="url(#a33)" d="M171.2 178.7L172.9 174.5L206.5 187.9L204.9 192.1Z"/><path fill="url(#a34)" d="M172.3 175.9L174 171.8L207.6 185.1L206 189.3Z"/><path fill="url(#a35)" d="M173.4 173.2L175.1 169L208.7 182.4L207.1 186.5Z"/><path fill="url(#a36)" d="M174.5 170.4L176.2 166.2L209.8 179.6L208.2 183.8Z"/><path fill="url(#a37)" d="M175.6 167.6L177.3 163.5L210.9 176.9L209.3 181Z"/><path fill="url(#a38)" d="M176.7 164.8L178.4 160.7L212 174.3L210.3 178.3Z"/><path fill="url(#a39)" d="M177.9 162.1L179.5 157.9L213.1 171.6L211.4 175.6Z"/><path fill="url(#a40)" d="M179 159.3L180.7 155.2L214.1 169L212.5 173Z"/><path fill="url(#a41)" d="M180.1 156.6L181.8 152.4L215.2 166.4L213.6 170.4Z"/><path fill="url(#a42)" d="M181.3 153.8L183 149.7L216.3 163.9L214.6 167.8Z"/><path fill="url(#a43)" d="M182.4 151.1L184.2 146.9L217.4 161.4L215.7 165.3Z"/><path fill="url(#a44)" d="M183.6 148.3L185.4 144.2L218.5 158.9L216.8 162.7Z"/><path fill="url(#a45)" d="M184.8 145.6L186.7 141.5L219.6 156.4L217.9 160.3Z"/><path fill="url(#a46)" d="M186 142.8L187.9 138.7L220.8 154L219 157.8Z"/><path fill="url(#a47)" d="M187.3 140.1L189.2 136L221.9 151.6L220.1 155.4Z"/><path fill="url(#a48)" d="M188.6 137.4L190.5 133.3L223.1 149.2L221.3 153Z"/><path fill="url(#a49)" d="M189.9 134.7L191.9 130.6L224.2 146.9L222.4 150.6Z"/><path fill="url(#a50)" d="M191.2 131.9L193.3 127.9L225.4 144.7L223.6 148.3Z"/><path fill="url(#a51)" d="M192.6 129.2L194.8 125.2L226.6 142.5L224.7 146Z"/><path fill="url(#a52)" d="M194.1 126.6L196.2 122.6L227.8 140.3L225.9 143.8Z"/><path fill="url(#a53)" d="M195.5 123.9L197.8 120L229 138.3L227.1 141.6Z"/><path fill="url(#a54)" d="M197 121.3L199.4 117.4L230.2 136.3L228.3 139.6Z"/><path fill="url(#a55)" d="M198.6 118.6L201 114.8L231.5 134.4L229.5 137.6Z"/><path fill="url(#a56)" d="M200.2 116.1L202.7 112.3L232.7 132.5L230.7 135.6Z"/><path fill="url(#a57)" d="M201.9 113.5L204.5 109.8L234 130.7L231.9 133.7Z"/><path fill="url(#a58)" d="M203.6 111L206.3 107.3L235.3 129L233.2 131.9Z"/><path fill="url(#a59)" d="M205.4 108.5L208.2 104.9L236.7 127.3L234.5 130.2Z"/><path fill="url(#a60)" d="M207.3 106.1L210.1 102.6L238 125.7L235.7 128.5Z"/><path fill="url(#a61)" d="M209.2 103.7L212.1 100.3L239.4 124.2L237.1 126.9Z"/><path fill="url(#a62)" d="M211.2 101.4L214.2 98.1L240.7 122.7L238.4 125.3Z"/><path fill="url(#a63)" d="M213.2 99.2L216.3 95.9L242.1 121.3L239.7 123.8Z"/><path fill="url(#a64)" d="M215.3 97L218.5 93.8L243.6 119.9L241.1 122.4Z"/><path fill="url(#a65)" d="M217.4 94.9L220.7 91.8L245.1 118.5L242.5 121Z"/><path fill="url(#a66)" d="M219.7 92.8L223 89.8L246.7 117.2L244 119.6Z"/><path fill="url(#a67)" d="M221.9 90.8L225.4 87.9L248.3 115.9L245.6 118.2Z"/><path fill="url(#a68)" d="M224.2 88.8L227.8 86L250 114.6L247.2 116.8Z"/><path fill="url(#a69)" d="M226.6 87L230.2 84.2L251.7 113.3L248.8 115.5Z"/><path fill="url(#a70)" d="M229 85.1L232.7 82.5L253.5 112.1L250.5 114.2Z"/><path fill="url(#a71)" d="M231.5 83.4L235.2 80.8L255.3 110.9L252.3 113Z"/><path fill="url(#a72)" d="M234 81.6L237.8 79.2L257 109.8L254 111.8Z"/><path fill="url(#a73)" d="M236.5 80L240.4 77.6L258.9 108.8L255.8 110.6Z"/><path fill="url(#a74)" d="M239.1 78.4L243.1 76.1L260.7 107.8L257.6 109.5Z"/><path fill="url(#a75)" d="M241.8 76.9L245.8 74.7L262.5 106.8L259.4 108.5Z"/><path fill="url(#a76)" d="M244.4 75.4L248.5 73.4L264.3 105.9L261.2 107.5Z"/><path fill="url(#a77)" d="M247.2 74.1L251.3 72.1L266.2 105.1L263 106.6Z"/><path fill="url(#a78)" d="M249.9 72.8L254.1 71L268.1 104.3L264.9 105.7Z"/><path fill="url(#a79)" d="M252.7 71.6L256.9 69.9L270 103.6L266.7 104.9Z"/><path fill="url(#a80)" d="M255.5 70.4L259.8 68.8L272 102.9L268.6 104.2Z"/><path fill="url(#a81)" d="M258.4 69.4L262.7 67.9L273.9 102.3L270.6 103.4Z"/><path fill="url(#a82)" d="M261.3 68.4L265.6 67L275.9 101.7L272.5 102.8Z"/><path fill="url(#a83)" d="M264.2 67.5L268.5 66.2L277.9 101.2L274.5 102.2Z"/><path fill="url(#a84)" d="M267.1 66.6L271.5 65.5L279.9 100.7L276.4 101.6Z"/><path fill="url(#a85)" d="M270 65.9L274.5 64.9L281.9 100.3L278.4 101.1Z"/><path fill="url(#a86)" d="M273 65.2L277.5 64.4L283.9 100L280.4 100.7Z"/><path fill="url(#a87)" d="M276 64.6L280.5 63.9L286 99.7L282.5 100.3Z"/><path fill="url(#a88)" d="M279 64.1L283.5 63.5L288 99.4L284.5 99.9Z"/><path fill="url(#a89)" d="M282 63.7L286.5 63.2L290 99.3L286.5 99.6Z"/><path fill="url(#a90)" d="M285 63.4L289.6 63L292.1 99.1L288.6 99.4Z"/><path fill="url(#a91)" d="M288.1 63.1L292.6 62.9L294.1 99L290.6 99.2Z"/><path fill="url(#a92)" d="M291.1 63L295.7 62.8L296.2 99L292.6 99.1Z"/><path fill="url(#a93)" d="M294.2 62.9L298.7 62.9L298.3 99.1L294.7 99.1Z"/><path fill="url(#a94)" d="M297.2 62.9L301.7 63L300.4 99.2L296.8 99.1Z"/><path fill="url(#a95)" d="M300.2 62.9L304.8 63.2L302.5 99.3L298.9 99.1Z"/><path fill="url(#a96)" d="M303.3 63.1L307.8 63.4L304.6 99.5L301 99.2Z"/><path fill="url(#a97)" d="M306.3 63.3L310.8 63.8L306.8 99.8L303.1 99.4Z"/><path fill="url(#a98)" d="M309.3 63.6L313.8 64.2L308.9 100.1L305.3 99.6Z"/><path fill="url(#a99)" d="M312.4 64L316.8 64.7L311 100.4L307.4 99.9Z"/><path fill="url(#a100)" d="M315.4 64.5L319.8 65.2L313.2 100.8L309.6 100.2Z"/><path fill="url(#a101)" d="M318.4 65L322.8 65.9L315.3 101.3L311.7 100.6Z"/><path fill="url(#a102)" d="M321.3 65.6L325.7 66.6L317.4 101.8L313.8 101Z"/><path fill="url(#a103)" d="M324.3 66.2L328.7 67.3L319.6 102.4L316 101.5Z"/><path fill="url(#a104)" d="M327.2 67L331.6 68.2L321.7 103L318.1 102Z"/><path fill="url(#a105)" d="M330.1 67.8L334.5 69L323.8 103.6L320.2 102.6Z"/><path fill="url(#a106)" d="M333 68.6L337.3 70L325.9 104.3L322.3 103.2Z"/><path fill="url(#a107)" d="M335.9 69.5L340.2 71L327.9 105.1L324.4 103.9Z"/><path fill="url(#a108)" d="M338.8 70.5L343 72.1L330 105.9L326.5 104.6Z"/><path fill="url(#a109)" d="M341.6 71.6L345.8 73.2L332 106.7L328.6 105.4Z"/><path fill="url(#a110)" d="M344.4 72.7L348.5 74.5L334.1 107.6L330.6 106.2Z"/><path fill="url(#a111)" d="M347.2 73.9L351.3 75.7L336.1 108.6L332.7 107Z"/><path fill="url(#a112)" d="M349.9 75.1L354 77.1L338.1 109.6L334.7 108Z"/><path fill="url(#a113)" d="M352.7 76.4L356.7 78.4L340.2 110.7L336.8 108.9Z"/><path fill="url(#a114)" d="M355.4 77.8L359.4 79.9L342.4 111.8L338.9 110Z"/><path fill="url(#a115)" d="M358.1 79.2L360.1 80.3L342.7 112L341 111.1Z"/><path fill="url(#a116)" d="M358.9 79.6L364.7 82.8L355.6 98.6L350.2 95.6Z"/><path fill="url(#a117)" d="M363.4 82.1L367.3 84.4L358 100.1L354.3 97.9Z"/><path fill="url(#a118)" d="M366 83.6L369.9 86L360.4 101.5L356.7 99.3Z"/><path fill="url(#a119)" d="M368.6 85.2L372.4 87.5L362.9 103L359.2 100.8Z"/><path fill="url(#a120)" d="M371.2 86.8L375 89.2L365.3 104.5L361.6 102.2Z"/><path fill="url(#a121)" d="M373.7 88.4L377.5 90.8L367.7 106.1L364 103.7Z"/><path fill="url(#a122)" d="M376.3 90L380.1 92.5L370.1 107.7L366.4 105.3Z"/><path fill="url(#a123)" d="M378.8 91.6L383.4 94.7L373.3 109.8L368.8 106.9Z"/><path fill="url(#a124)" d="M382.1 93.9L386.7 96.9L376.5 112L372 109Z"/><path fill="url(#a125)" d="M385.5 96.1L390 99.2L379.7 114.2L375.3 111.2Z"/><path fill="url(#a126)" d="M388.8 98.4L393.3 101.5L383 116.5L378.5 113.4Z"/><path fill="url(#a127)" d="M392.1 100.6L396.6 103.8L386.2 118.7L381.7 115.6Z"/><path fill="url(#a128)" d="M395.4 102.9L399.9 106L389.5 121L385 117.9Z"/><path fill="url(#a129)" d="M398.7 105.2L403.2 108.3L392.8 123.3L388.3 120.1Z"/><path fill="url(#a130)" d="M401.9 107.5L406.5 110.6L396.1 125.6L391.6 122.4Z"/><path fill="url(#a131)" d="M405.2 109.7L409.8 112.9L399.5 127.9L394.9 124.7Z"/><path fill="url(#a132)" d="M408.5 112L413.1 115.1L402.8 130.1L398.2 127Z"/><path fill="url(#a133)" d="M411.8 114.3L416.4 117.4L406.1 132.4L401.6 129.3Z"/><path fill="url(#a134)" d="M415.1 116.5L419.7 119.6L409.5 134.7L404.9 131.6Z"/><path fill="url(#a135)" d="M418.4 118.7L423 121.8L412.8 136.9L408.2 133.8Z"/><path fill="url(#a136)" d="M421.7 121L426.3 124L416.2 139.2L411.6 136.1Z"/><path fill="url(#a137)" d="M425.1 123.2L429.6 126.3L419.5 141.4L414.9 138.3Z"/><path fill="url(#a138)" d="M428.4 125.4L433 128.5L422.9 143.6L418.3 140.6Z"/><path fill="url(#a139)" d="M431.7 127.6L436.3 130.7L426.3 145.9L421.6 142.8Z"/><path fill="url(#a140)" d="M435 129.8L439.6 132.9L429.6 148.1L425 145Z"/><path fill="url(#a141)" d="M438.4 132L443 135.1L433 150.3L428.4 147.2Z"/><path fill="url(#a142)" d="M441.7 134.2L446.3 137.3L436.4 152.5L431.7 149.5Z"/><path fill="url(#a143)" d="M445.1 136.4L449.7 139.4L439.7 154.7L435.1 151.7Z"/><path fill="url(#a144)" d="M448.4 138.6L453 141.6L443.1 156.9L438.5 153.9Z"/><path fill="url(#a145)" d="M451.8 140.8L456.4 143.8L446.5 159.1L441.8 156.1Z"/><path fill="url(#a146)" d="M455.1 143L462.2 147.6L452.4 162.9L445.2 158.2Z"/><path fill="url(#a147)" d="M461 146.8L468.1 151.4L458.3 166.7L451.1 162.1Z"/><path fill="url(#a148)" d="M466.9 150.5L474 155.1L464.2 170.5L457.1 165.9Z"/><path fill="url(#a149)" d="M472.8 154.3L479.9 158.9L470.2 174.2L463 169.7Z"/><path fill="url(#a150)" d="M478.7 158.1L485.8 162.6L476.1 178L468.9 173.4Z"/><path fill="url(#a151)" d="M484.6 161.8L491.8 166.4L482 181.7L474.8 177.2Z"/><path fill="url(#a152)" d="M490.5 165.6L497.7 170.1L488 185.5L480.8 180.9Z"/><path fill="url(#a153)" d="M496.4 169.3L503.6 173.8L493.9 189.2L486.7 184.7Z"/><path fill="url(#a154)" d="M502.3 173L509.5 177.5L499.9 193L492.7 188.4Z"/><path fill="url(#a155)" d="M508.3 176.7L515.5 181.3L505.8 196.7L498.6 192.2Z"/><path fill="url(#a156)" d="M514.2 180.5L521.4 185L511.7 200.4L504.5 195.9Z"/><path fill="url(#a157)" d="M520.1 184.2L527.3 188.7L517.7 204.1L510.5 199.6Z"/><path fill="url(#a158)" d="M526.1 187.9L533.3 192.4L523.6 207.8L516.4 203.3Z"/><path fill="url(#a159)" d="M532 191.6L539.2 196.1L529.5 211.5L522.3 207Z"/><path fill="url(#a160)" d="M537.9 195.3L540.9 197.2L531.2 212.6L528.3 210.8Z"/></g></g>
<path d="M61.7 353.8v-6M153.9 353.8v-6M246.2 353.8v-6M338.4 353.8v-6M430.7 353.8v-6M522.9 353.8v-6M61.7 353.8h6M61.7 307.8h6M61.7 261.8h6M61.7 215.8h6M61.7 169.8h6M61.7 123.8h6M61.7 77.8h6M61.7 31.8h6" stroke="#111" stroke-width="1.7" fill="none"/>
<text x="61.7" y="380.4" text-anchor="middle" class="tk">0.2</text>
<text x="153.9" y="380.4" text-anchor="middle" class="tk">0.4</text>
<text x="246.2" y="380.4" text-anchor="middle" class="tk">0.6</text>
<text x="338.4" y="380.4" text-anchor="middle" class="tk">0.8</text>
<text x="430.7" y="380.4" text-anchor="middle" class="tk">1</text>
<text x="522.9" y="380.4" text-anchor="middle" class="tk">1.2</text>
<text x="53.7" y="361.5" text-anchor="end" class="tk">4.4</text>
<text x="53.7" y="315.5" text-anchor="end" class="tk">4.5</text>
<text x="53.7" y="269.5" text-anchor="end" class="tk">4.6</text>
<text x="53.7" y="223.5" text-anchor="end" class="tk">4.7</text>
<text x="53.7" y="177.5" text-anchor="end" class="tk">4.8</text>
<text x="53.7" y="131.5" text-anchor="end" class="tk">4.9</text>
<text x="53.7" y="85.5" text-anchor="end" class="tk">5</text>
<text x="53.7" y="39.5" text-anchor="end" class="tk">5.1</text>
<text x="292.3" y="25.8" text-anchor="middle" class="ti" textLength="120" lengthAdjust="spacingAndGlyphs" style="fill:#000">Temperature</text>
<text x="292.3" y="407.4" text-anchor="middle" class="tt">x</text>
<text transform="translate(20.7 192.8) rotate(-90)" text-anchor="middle" class="tt">y</text>
<g shape-rendering="crispEdges"><rect x="62.4" y="421.3" width="7.59" height="16.7" fill="#000087"/><rect x="69.59" y="421.3" width="7.59" height="16.7" fill="#000097"/><rect x="76.79" y="421.3" width="7.59" height="16.7" fill="#0000a7"/><rect x="83.98" y="421.3" width="7.59" height="16.7" fill="#0000b7"/><rect x="91.17" y="421.3" width="7.59" height="16.7" fill="#0000c7"/><rect x="98.37" y="421.3" width="7.59" height="16.7" fill="#0000d7"/><rect x="105.56" y="421.3" width="7.59" height="16.7" fill="#0000e7"/><rect x="112.76" y="421.3" width="7.59" height="16.7" fill="#0000f7"/><rect x="119.95" y="421.3" width="7.59" height="16.7" fill="#0008ff"/><rect x="127.14" y="421.3" width="7.59" height="16.7" fill="#0018ff"/><rect x="134.34" y="421.3" width="7.59" height="16.7" fill="#0028ff"/><rect x="141.53" y="421.3" width="7.59" height="16.7" fill="#0038ff"/><rect x="148.72" y="421.3" width="7.59" height="16.7" fill="#0048ff"/><rect x="155.92" y="421.3" width="7.59" height="16.7" fill="#0058ff"/><rect x="163.11" y="421.3" width="7.59" height="16.7" fill="#0068ff"/><rect x="170.31" y="421.3" width="7.59" height="16.7" fill="#0078ff"/><rect x="177.5" y="421.3" width="7.59" height="16.7" fill="#0087ff"/><rect x="184.69" y="421.3" width="7.59" height="16.7" fill="#0097ff"/><rect x="191.89" y="421.3" width="7.59" height="16.7" fill="#00a7ff"/><rect x="199.08" y="421.3" width="7.59" height="16.7" fill="#00b7ff"/><rect x="206.28" y="421.3" width="7.59" height="16.7" fill="#00c7ff"/><rect x="213.47" y="421.3" width="7.59" height="16.7" fill="#00d7ff"/><rect x="220.66" y="421.3" width="7.59" height="16.7" fill="#00e7ff"/><rect x="227.86" y="421.3" width="7.59" height="16.7" fill="#00f7ff"/><rect x="235.05" y="421.3" width="7.59" height="16.7" fill="#08fff7"/><rect x="242.24" y="421.3" width="7.59" height="16.7" fill="#18ffe7"/><rect x="249.44" y="421.3" width="7.59" height="16.7" fill="#28ffd7"/><rect x="256.63" y="421.3" width="7.59" height="16.7" fill="#38ffc7"/><rect x="263.82" y="421.3" width="7.59" height="16.7" fill="#48ffb7"/><rect x="271.02" y="421.3" width="7.59" height="16.7" fill="#58ffa7"/><rect x="278.21" y="421.3" width="7.59" height="16.7" fill="#68ff97"/><rect x="285.41" y="421.3" width="7.59" height="16.7" fill="#78ff87"/><rect x="292.6" y="421.3" width="7.59" height="16.7" fill="#87ff78"/><rect x="299.79" y="421.3" width="7.59" height="16.7" fill="#97ff68"/><rect x="306.99" y="421.3" width="7.59" height="16.7" fill="#a7ff58"/><rect x="314.18" y="421.3" width="7.59" height="16.7" fill="#b7ff48"/><rect x="321.37" y="421.3" width="7.59" height="16.7" fill="#c7ff38"/><rect x="328.57" y="421.3" width="7.59" height="16.7" fill="#d7ff28"/><rect x="335.76" y="421.3" width="7.59" height="16.7" fill="#e7ff18"/><rect x="342.96" y="421.3" width="7.59" height="16.7" fill="#f7ff08"/><rect x="350.15" y="421.3" width="7.59" height="16.7" fill="#fff700"/><rect x="357.34" y="421.3" width="7.59" height="16.7" fill="#ffe700"/><rect x="364.54" y="421.3" width="7.59" height="16.7" fill="#ffd700"/><rect x="371.73" y="421.3" width="7.59" height="16.7" fill="#ffc700"/><rect x="378.92" y="421.3" width="7.59" height="16.7" fill="#ffb700"/><rect x="386.12" y="421.3" width="7.59" height="16.7" fill="#ffa700"/><rect x="393.31" y="421.3" width="7.59" height="16.7" fill="#ff9700"/><rect x="400.51" y="421.3" width="7.59" height="16.7" fill="#ff8700"/><rect x="407.7" y="421.3" width="7.59" height="16.7" fill="#ff7800"/><rect x="414.89" y="421.3" width="7.59" height="16.7" fill="#ff6800"/><rect x="422.09" y="421.3" width="7.59" height="16.7" fill="#ff5800"/><rect x="429.28" y="421.3" width="7.59" height="16.7" fill="#ff4800"/><rect x="436.47" y="421.3" width="7.59" height="16.7" fill="#ff3800"/><rect x="443.67" y="421.3" width="7.59" height="16.7" fill="#ff2800"/><rect x="450.86" y="421.3" width="7.59" height="16.7" fill="#ff1800"/><rect x="458.06" y="421.3" width="7.59" height="16.7" fill="#ff0800"/><rect x="465.25" y="421.3" width="7.59" height="16.7" fill="#f70000"/><rect x="472.44" y="421.3" width="7.59" height="16.7" fill="#e70000"/><rect x="479.64" y="421.3" width="7.59" height="16.7" fill="#d70000"/><rect x="486.83" y="421.3" width="7.59" height="16.7" fill="#c70000"/><rect x="494.02" y="421.3" width="7.59" height="16.7" fill="#b70000"/><rect x="501.22" y="421.3" width="7.59" height="16.7" fill="#a70000"/><rect x="508.41" y="421.3" width="7.59" height="16.7" fill="#970000"/><rect x="515.61" y="421.3" width="7.19" height="16.7" fill="#870000"/></g>
<rect x="62.4" y="421.3" width="460.4" height="16.7" fill="none" stroke="#262626" stroke-width="0.6"/>
<path d="M139.1 438v-4.6M215.9 438v-4.6M292.6 438v-4.6M369.3 438v-4.6M446.1 438v-4.6" stroke="#262626" stroke-width="0.7" fill="none"/>
<text x="62.4" y="461.5" text-anchor="middle" class="cb">0</text>
<text x="139.1" y="461.5" text-anchor="middle" class="cb">200</text>
<text x="215.9" y="461.5" text-anchor="middle" class="cb">400</text>
<text x="292.6" y="461.5" text-anchor="middle" class="cb">600</text>
<text x="369.3" y="461.5" text-anchor="middle" class="cb">800</text>
<text x="446.1" y="461.5" text-anchor="middle" class="cb">1000</text>
<text x="522.8" y="461.5" text-anchor="middle" class="cb">1200</text>
<text x="158.9" y="494.8" class="cpb" style="fill:#000">(a)</text><text x="182.6" y="494.8" class="cap" textLength="210.5" lengthAdjust="spacingAndGlyphs" style="fill:#000">Temperature distribution at 47 s</text>
<path d="M63.7 551.6V877.8M157 551.6V877.8M250.2 551.6V877.8M343.5 551.6V877.8M436.7 551.6V877.8M530 551.6V877.8" stroke="#000" stroke-opacity="0.14" stroke-width="1.8" fill="none"/><path d="M63.7 877.8H530M63.7 831.2H530M63.7 784.6H530M63.7 738H530M63.7 691.4H530M63.7 644.8H530M63.7 598.2H530M63.7 551.6H530" stroke="#000" stroke-opacity="0.14" stroke-width="1.8" fill="none"/>
<path d="M63.9 551V877.6H530.8" stroke="#111" stroke-width="2.1" fill="none" stroke-linejoin="miter"/>
<defs><clipPath id="s2"><path d="M109.2 883.8L109.9 881.9L110.5 880L111.2 878L111.8 876.1L112.5 874.2L113.1 872.3L113.8 870.3L114.4 868.4L115.1 866.5L115.8 864.6L116.4 862.7L117.1 860.7L117.7 858.8L118.4 856.9L119 855L119.7 853.1L120.3 851.2L121 849.2L121.7 847.3L122.3 845.4L123 843.5L123.6 841.6L124.3 839.7L125 837.8L125.6 835.8L126.3 833.9L126.9 832L127.6 830.1L128.3 828.2L128.9 826.3L129.6 824.4L130.3 822.5L130.9 820.6L131.6 818.7L132.3 816.7L133 814.8L133.6 812.9L134.3 811L135 809.1L135.7 807.2L136.3 805.3L137 803.4L137.7 801.5L138.4 799.6L139.1 797.7L139.8 795.8L140.4 793.9L141.1 792L141.8 790.1L142.5 788.2L143.2 786.3L143.9 784.4L144.6 782.5L145.3 780.6L146 778.7L146.7 776.8L147.4 774.9L148.1 773L148.8 771.1L149.5 769.2L150.2 767.3L150.9 765.4L151.6 763.5L152.3 761.6L153 759.7L153.7 757.8L154.5 755.9L155.2 754L155.9 752.1L156.6 750.2L157.3 748.3L158.1 746.4L158.8 744.5L159.5 742.6L160.2 740.7L161 738.8L161.7 736.9L162.4 735L163.2 733.1L163.9 731.2L164.7 729.3L165.4 727.4L166.1 725.5L166.9 723.7L167.6 721.8L168.4 719.9L169.1 718L169.9 716.1L170.6 714.2L171.4 712.3L172.1 710.4L172.9 708.5L173.6 706.7L174.4 704.8L175.1 702.9L175.8 701L176.6 699.1L177.3 697.2L178.1 695.4L178.8 693.5L179.6 691.6L180.3 689.8L181.1 687.9L181.8 686L182.6 684.1L183.3 682.3L184.1 680.4L184.8 678.6L185.6 676.7L186.4 674.9L187.2 673L188 671.2L188.8 669.3L189.6 667.5L190.4 665.6L191.2 663.8L192.1 662L192.9 660.1L193.8 658.3L194.7 656.5L195.6 654.6L196.5 652.8L197.4 651L198.4 649.2L199.3 647.4L200.3 645.6L201.3 643.9L202.4 642.1L203.4 640.4L204.5 638.6L205.6 636.9L206.7 635.2L207.9 633.5L209 631.9L210.2 630.2L211.5 628.6L212.7 627L214 625.5L215.3 623.9L216.6 622.4L218 620.9L219.4 619.4L220.8 618L222.2 616.6L223.7 615.2L225.2 613.8L226.7 612.5L228.2 611.2L229.8 609.9L231.3 608.7L232.9 607.4L234.6 606.2L236.2 605.1L237.9 603.9L239.6 602.8L241.3 601.7L243 600.6L244.7 599.6L246.5 598.6L248.3 597.6L250.1 596.7L251.9 595.8L253.7 594.9L255.6 594.1L257.4 593.3L259.3 592.5L261.2 591.8L263.1 591.1L265 590.4L266.9 589.8L268.8 589.2L270.8 588.6L272.7 588.1L274.7 587.6L276.7 587.2L278.7 586.7L280.6 586.4L282.6 586L284.6 585.7L286.6 585.4L288.6 585.2L290.7 585L292.7 584.9L294.7 584.7L296.7 584.7L298.7 584.6L300.8 584.6L302.8 584.6L304.8 584.7L306.8 584.8L308.9 584.9L310.9 585.1L312.9 585.2L314.9 585.5L316.9 585.7L318.9 586L320.9 586.4L322.9 586.7L324.9 587.1L326.9 587.5L328.8 588L330.8 588.4L332.8 589L334.7 589.5L336.6 590.1L338.5 590.7L340.5 591.3L342.4 591.9L344.2 592.6L346.1 593.3L348 594.1L349.9 594.8L351.7 595.6L353.6 596.4L355.4 597.3L357.2 598.2L359 599.1L360.8 600L362.6 600.9L364.4 601.9L366.2 602.9L367.9 603.9L369.7 604.9L371.5 605.9L373.2 607L374.9 608L376.6 609.1L378.4 610.2L380.1 611.3L381.8 612.4L383.5 613.5L385.2 614.6L386.8 615.7L388.5 616.9L390.2 618L391.9 619.1L393.5 620.3L395.2 621.4L396.9 622.6L398.5 623.7L400.2 624.9L401.9 626L403.5 627.2L405.2 628.4L406.8 629.5L408.5 630.7L410.2 631.8L411.8 633L413.5 634.1L415.2 635.2L416.8 636.4L418.5 637.5L420.2 638.7L421.9 639.8L423.5 640.9L425.2 642.1L426.9 643.2L428.6 644.3L430.2 645.5L431.9 646.6L433.6 647.7L435.3 648.8L437 650L438.6 651.1L440.3 652.2L442 653.3L443.7 654.4L445.4 655.5L447.1 656.6L448.8 657.8L450.5 658.9L452.2 660L453.9 661.1L455.5 662.2L457.2 663.3L458.9 664.4L460.6 665.5L462.3 666.6L464 667.7L465.7 668.8L467.4 669.9L469.1 671L470.8 672.1L472.5 673.2L474.2 674.3L475.9 675.4L477.6 676.4L479.3 677.5L481.1 678.6L482.8 679.7L484.5 680.8L486.2 681.9L487.9 683L489.6 684.1L491.3 685.1L493 686.2L494.7 687.3L496.4 688.4L498.1 689.5L499.8 690.5L501.6 691.6L503.3 692.7L505 693.8L506.7 694.9L508.4 695.9L510.1 697L511.8 698.1L513.5 699.2L515.3 700.3L517 701.3L518.7 702.4L520.4 703.5L522.1 704.6L523.8 705.6L525.5 706.7L527.2 707.8L529 708.9L530.7 709.9L532.4 711L534.1 712.1L535.8 713.2L537.5 714.2L539.3 715.3L541 716.4L542.7 717.5L544.4 718.6L546.1 719.6L547.4 720.4L539.2 733.5L535.8 731.3L532.4 729.2L529 727L525.5 724.9L522.1 722.7L518.7 720.6L515.3 718.4L511.8 716.3L508.4 714.1L505 712L501.5 709.8L498.1 707.6L494.7 705.5L491.2 703.3L487.8 701.1L484.4 699L481 696.8L477.5 694.6L474.1 692.4L470.7 690.3L467.3 688.1L463.8 685.9L460.4 683.7L457 681.5L453.6 679.3L450.2 677L446.8 674.8L443.4 672.6L440 670.4L436.5 668.1L433.1 665.9L429.8 663.6L426.4 661.4L423 659.1L419.6 656.8L416.2 654.6L412.8 652.3L409.5 650L406.1 647.7L402.7 645.4L399.4 643.1L396 640.7L392.7 638.4L389.4 636.1L386.1 633.8L382.8 631.6L379.5 629.4L376.3 627.2L373 625L369.8 623L366.5 620.9L363.2 618.9L359.9 617L357.2 615.5L348.5 631.5L347 630.7L345.6 629.9L344.1 629.2L342.7 628.5L341.3 627.8L339.9 627.1L338.5 626.5L337.1 625.9L335.7 625.3L334.3 624.8L332.9 624.2L331.4 623.7L330 623.2L328.6 622.8L327.1 622.3L325.7 621.9L324.3 621.5L322.8 621.1L321.3 620.7L319.9 620.4L318.4 620.1L316.9 619.8L315.5 619.5L314 619.3L312.5 619.1L311.1 618.9L309.6 618.7L308.1 618.6L306.7 618.5L305.2 618.4L303.8 618.3L302.3 618.2L300.9 618.2L299.4 618.2L298 618.3L296.6 618.3L295.2 618.4L293.8 618.5L292.4 618.6L291 618.8L289.6 619L288.2 619.2L286.8 619.4L285.4 619.7L284 620L282.7 620.3L281.3 620.6L279.9 621L278.6 621.4L277.2 621.8L275.9 622.2L274.5 622.7L273.2 623.2L271.9 623.7L270.6 624.2L269.3 624.8L268 625.3L266.7 625.9L265.5 626.6L264.2 627.2L263 627.9L261.7 628.6L260.5 629.3L259.3 630.1L258.1 630.9L256.9 631.7L255.7 632.5L254.5 633.3L253.3 634.2L252.1 635.1L251 636L249.9 636.9L248.8 637.8L247.7 638.8L246.7 639.7L245.6 640.7L244.6 641.7L243.7 642.7L242.7 643.7L241.8 644.7L240.9 645.7L239.9 646.8L239 647.9L238.2 649L237.3 650.2L236.4 651.4L235.5 652.6L234.7 653.9L233.8 655.1L233 656.4L232.1 657.8L231.3 659.1L230.5 660.5L229.7 661.9L228.9 663.4L228.1 664.9L227.3 666.4L226.5 667.9L225.7 669.5L224.9 671.1L224.1 672.7L223.4 674.3L222.6 675.9L221.8 677.6L221.1 679.2L220.3 680.9L219.6 682.6L218.9 684.3L218.1 686L217.4 687.7L216.7 689.4L215.9 691.2L215.2 693L214.5 694.7L213.8 696.5L213 698.3L212.3 700.1L211.6 702L210.9 703.8L210.1 705.7L209.4 707.5L208.6 709.4L207.9 711.3L207.1 713.2L206.4 715.1L205.7 716.9L204.9 718.8L204.2 720.7L203.4 722.6L202.7 724.5L201.9 726.3L201.2 728.2L200.4 730.1L199.7 732L199 733.9L198.2 735.7L197.5 737.6L196.7 739.5L196 741.4L195.3 743.2L194.5 745.1L193.8 747L193.1 748.8L192.4 750.7L191.6 752.6L190.9 754.5L190.2 756.3L189.5 758.2L188.8 760.1L188.1 761.9L187.4 763.8L186.6 765.7L185.9 767.5L185.2 769.4L184.5 771.3L183.8 773.2L183.1 775L182.4 776.9L181.7 778.8L181 780.7L180.3 782.5L179.6 784.4L178.9 786.3L178.3 788.2L177.6 790L176.9 791.9L176.2 793.8L175.5 795.7L174.8 797.5L174.1 799.4L173.5 801.3L172.8 803.2L172.1 805.1L171.4 807L170.7 808.8L170.1 810.7L169.4 812.6L168.7 814.5L168 816.4L167.4 818.3L166.7 820.1L166 822L165.4 823.9L164.7 825.8L164 827.7L163.4 829.6L162.7 831.5L162 833.4L161.4 835.3L160.7 837.2L160 839L159.4 840.9L158.7 842.8L158.1 844.7L157.4 846.6L156.8 848.5L156.1 850.4L155.4 852.3L154.8 854.2L154.1 856.1L153.5 858L152.8 859.9L152.2 861.8L151.5 863.7L150.9 865.6L150.2 867.5L149.6 869.5L148.9 871.4L148.3 873.3L147.6 875.2L147 877.1L146.3 879L145.7 880.9L145 882.8L144.4 884.7L143.7 886.6L143.1 888.6L142.4 890.5L141.8 892.4L141.1 894.3L141 894.6Z"/></clipPath></defs>
<g clip-path="url(#c2)"><g clip-path="url(#s2)"><defs><linearGradient id="b0" gradientUnits="userSpaceOnUse" x1="110.2" y1="880.9" x2="142" y2="891.7"><stop offset="0" stop-color="#800000"/><stop offset="0.05" stop-color="#800000"/><stop offset="0.1" stop-color="#800000"/><stop offset="0.15" stop-color="#800000"/><stop offset="0.2" stop-color="#800000"/><stop offset="0.26" stop-color="#800000"/><stop offset="0.32" stop-color="#b20000"/><stop offset="0.38" stop-color="#ff0000"/><stop offset="0.44" stop-color="#ff6d00"/><stop offset="0.5" stop-color="#ffea00"/><stop offset="0.56" stop-color="#afff50"/><stop offset="0.62" stop-color="#5dffa2"/><stop offset="0.7" stop-color="#00ffff"/><stop offset="0.8" stop-color="#00b6ff"/><stop offset="0.9" stop-color="#0078ff"/><stop offset="1" stop-color="#004dff"/></linearGradient><linearGradient id="b1" gradientUnits="userSpaceOnUse" x1="112.2" y1="875.1" x2="144" y2="885.9"><stop offset="0" stop-color="#800000"/><stop offset="0.05" stop-color="#800000"/><stop offset="0.1" stop-color="#800000"/><stop offset="0.15" stop-color="#800000"/><stop offset="0.2" stop-color="#800000"/><stop offset="0.26" stop-color="#800000"/><stop offset="0.32" stop-color="#b20000"/><stop offset="0.38" stop-color="#ff0000"/><stop offset="0.44" stop-color="#ff6d00"/><stop offset="0.5" stop-color="#ffea00"/><stop offset="0.56" stop-color="#afff50"/><stop offset="0.62" stop-color="#5dffa2"/><stop offset="0.7" stop-color="#00ffff"/><stop offset="0.8" stop-color="#00b6ff"/><stop offset="0.9" stop-color="#0078ff"/><stop offset="1" stop-color="#004dff"/></linearGradient><linearGradient id="b2" gradientUnits="userSpaceOnUse" x1="114.1" y1="869.4" x2="145.9" y2="880.2"><stop offset="0" stop-color="#800000"/><stop offset="0.05" stop-color="#800000"/><stop offset="0.1" stop-color="#800000"/><stop offset="0.15" stop-color="#800000"/><stop offset="0.2" stop-color="#800000"/><stop offset="0.26" stop-color="#800000"/><stop offset="0.32" stop-color="#b20000"/><stop offset="0.38" stop-color="#ff0000"/><stop offset="0.44" stop-color="#ff6d00"/><stop offset="0.5" stop-color="#ffea00"/><stop offset="0.56" stop-color="#afff50"/><stop offset="0.62" stop-color="#5dffa2"/><stop offset="0.7" stop-color="#00ffff"/><stop offset="0.8" stop-color="#00b6ff"/><stop offset="0.9" stop-color="#0078ff"/><stop offset="1" stop-color="#004dff"/></linearGradient><linearGradient id="b3" gradientUnits="userSpaceOnUse" x1="116.1" y1="863.6" x2="147.8" y2="874.5"><stop offset="0" stop-color="#800000"/><stop offset="0.05" stop-color="#800000"/><stop offset="0.1" stop-color="#800000"/><stop offset="0.15" stop-color="#800000"/><stop offset="0.2" stop-color="#800000"/><stop offset="0.26" stop-color="#800000"/><stop offset="0.32" stop-color="#b20000"/><stop offset="0.38" stop-color="#ff0000"/><stop offset="0.44" stop-color="#ff6d00"/><stop offset="0.5" stop-color="#ffea00"/><stop offset="0.56" stop-color="#afff50"/><stop offset="0.62" stop-color="#5dffa2"/><stop offset="0.7" stop-color="#00ffff"/><stop offset="0.8" stop-color="#00b6ff"/><stop offset="0.9" stop-color="#0078ff"/><stop offset="1" stop-color="#004dff"/></linearGradient><linearGradient id="b4" gradientUnits="userSpaceOnUse" x1="118" y1="857.9" x2="149.8" y2="868.8"><stop offset="0" stop-color="#800000"/><stop offset="0.05" stop-color="#800000"/><stop offset="0.1" stop-color="#800000"/><stop offset="0.15" stop-color="#800000"/><stop offset="0.2" stop-color="#800000"/><stop offset="0.26" stop-color="#800000"/><stop offset="0.32" stop-color="#b20000"/><stop offset="0.38" stop-color="#ff0000"/><stop offset="0.44" stop-color="#ff6d00"/><stop offset="0.5" stop-color="#ffea00"/><stop offset="0.56" stop-color="#afff50"/><stop offset="0.62" stop-color="#5dffa2"/><stop offset="0.7" stop-color="#00ffff"/><stop offset="0.8" stop-color="#00b6ff"/><stop offset="0.9" stop-color="#0078ff"/><stop offset="1" stop-color="#004dff"/></linearGradient><linearGradient id="b5" gradientUnits="userSpaceOnUse" x1="120" y1="852.1" x2="151.8" y2="863"><stop offset="0" stop-color="#800000"/><stop offset="0.05" stop-color="#800000"/><stop offset="0.1" stop-color="#800000"/><stop offset="0.15" stop-color="#800000"/><stop offset="0.2" stop-color="#800000"/><stop offset="0.26" stop-color="#800000"/><stop offset="0.32" stop-color="#b20000"/><stop offset="0.38" stop-color="#ff0000"/><stop offset="0.44" stop-color="#ff6d00"/><stop offset="0.5" stop-color="#ffea00"/><stop offset="0.56" stop-color="#afff50"/><stop offset="0.62" stop-color="#5dffa2"/><stop offset="0.7" stop-color="#00ffff"/><stop offset="0.8" stop-color="#00b6ff"/><stop offset="0.9" stop-color="#0078ff"/><stop offset="1" stop-color="#004dff"/></linearGradient><linearGradient id="b6" gradientUnits="userSpaceOnUse" x1="122" y1="846.4" x2="153.7" y2="857.3"><stop offset="0" stop-color="#800000"/><stop offset="0.05" stop-color="#800000"/><stop offset="0.1" stop-color="#800000"/><stop offset="0.15" stop-color="#800000"/><stop offset="0.2" stop-color="#800000"/><stop offset="0.26" stop-color="#800000"/><stop offset="0.32" stop-color="#b20000"/><stop offset="0.38" stop-color="#ff0000"/><stop offset="0.44" stop-color="#ff6d00"/><stop offset="0.5" stop-color="#ffea00"/><stop offset="0.56" stop-color="#afff50"/><stop offset="0.62" stop-color="#5dffa2"/><stop offset="0.7" stop-color="#00ffff"/><stop offset="0.8" stop-color="#00b6ff"/><stop offset="0.9" stop-color="#0078ff"/><stop offset="1" stop-color="#004dff"/></linearGradient><linearGradient id="b7" gradientUnits="userSpaceOnUse" x1="124" y1="840.6" x2="155.7" y2="851.6"><stop offset="0" stop-color="#800000"/><stop offset="0.05" stop-color="#800000"/><stop offset="0.1" stop-color="#800000"/><stop offset="0.15" stop-color="#800000"/><stop offset="0.2" stop-color="#800000"/><stop offset="0.26" stop-color="#800000"/><stop offset="0.32" stop-color="#b20000"/><stop offset="0.38" stop-color="#ff0000"/><stop offset="0.44" stop-color="#ff6d00"/><stop offset="0.5" stop-color="#ffea00"/><stop offset="0.56" stop-color="#afff50"/><stop offset="0.62" stop-color="#5dffa2"/><stop offset="0.7" stop-color="#00ffff"/><stop offset="0.8" stop-color="#00b6ff"/><stop offset="0.9" stop-color="#0078ff"/><stop offset="1" stop-color="#004dff"/></linearGradient><linearGradient id="b8" gradientUnits="userSpaceOnUse" x1="125.9" y1="834.9" x2="157.7" y2="845.9"><stop offset="0" stop-color="#800000"/><stop offset="0.05" stop-color="#800000"/><stop offset="0.1" stop-color="#800000"/><stop offset="0.15" stop-color="#800000"/><stop offset="0.2" stop-color="#800000"/><stop offset="0.26" stop-color="#800000"/><stop offset="0.32" stop-color="#b20000"/><stop offset="0.38" stop-color="#ff0000"/><stop offset="0.44" stop-color="#ff6d00"/><stop offset="0.5" stop-color="#ffea00"/><stop offset="0.56" stop-color="#afff50"/><stop offset="0.62" stop-color="#5dffa2"/><stop offset="0.7" stop-color="#00ffff"/><stop offset="0.8" stop-color="#00b6ff"/><stop offset="0.9" stop-color="#0078ff"/><stop offset="1" stop-color="#004dff"/></linearGradient><linearGradient id="b9" gradientUnits="userSpaceOnUse" x1="127.9" y1="829.2" x2="159.6" y2="840.2"><stop offset="0" stop-color="#800000"/><stop offset="0.05" stop-color="#800000"/><stop offset="0.1" stop-color="#800000"/><stop offset="0.15" stop-color="#800000"/><stop offset="0.2" stop-color="#800000"/><stop offset="0.26" stop-color="#800000"/><stop offset="0.32" stop-color="#b20000"/><stop offset="0.38" stop-color="#ff0000"/><stop offset="0.44" stop-color="#ff6d00"/><stop offset="0.5" stop-color="#ffea00"/><stop offset="0.56" stop-color="#afff50"/><stop offset="0.62" stop-color="#5dffa2"/><stop offset="0.7" stop-color="#00ffff"/><stop offset="0.8" stop-color="#00b6ff"/><stop offset="0.9" stop-color="#0078ff"/><stop offset="1" stop-color="#004dff"/></linearGradient><linearGradient id="b10" gradientUnits="userSpaceOnUse" x1="129.9" y1="823.4" x2="161.6" y2="834.6"><stop offset="0" stop-color="#800000"/><stop offset="0.05" stop-color="#800000"/><stop offset="0.1" stop-color="#800000"/><stop offset="0.15" stop-color="#800000"/><stop offset="0.2" stop-color="#800000"/><stop offset="0.26" stop-color="#800000"/><stop offset="0.32" stop-color="#b20000"/><stop offset="0.38" stop-color="#ff0000"/><stop offset="0.44" stop-color="#ff6d00"/><stop offset="0.5" stop-color="#ffea00"/><stop offset="0.56" stop-color="#afff50"/><stop offset="0.62" stop-color="#5dffa2"/><stop offset="0.7" stop-color="#00ffff"/><stop offset="0.8" stop-color="#00b6ff"/><stop offset="0.9" stop-color="#0078ff"/><stop offset="1" stop-color="#004dff"/></linearGradient><linearGradient id="b11" gradientUnits="userSpaceOnUse" x1="132" y1="817.7" x2="163.6" y2="828.9"><stop offset="0" stop-color="#800000"/><stop offset="0.05" stop-color="#800000"/><stop offset="0.1" stop-color="#800000"/><stop offset="0.15" stop-color="#800000"/><stop offset="0.2" stop-color="#800000"/><stop offset="0.26" stop-color="#800000"/><stop offset="0.32" stop-color="#b20000"/><stop offset="0.38" stop-color="#ff0000"/><stop offset="0.44" stop-color="#ff6d00"/><stop offset="0.5" stop-color="#ffea00"/><stop offset="0.56" stop-color="#afff50"/><stop offset="0.62" stop-color="#5dffa2"/><stop offset="0.7" stop-color="#00ffff"/><stop offset="0.8" stop-color="#00b6ff"/><stop offset="0.9" stop-color="#0078ff"/><stop offset="1" stop-color="#004dff"/></linearGradient><linearGradient id="b12" gradientUnits="userSpaceOnUse" x1="134" y1="812" x2="165.6" y2="823.2"><stop offset="0" stop-color="#800000"/><stop offset="0.05" stop-color="#800000"/><stop offset="0.1" stop-color="#800000"/><stop offset="0.15" stop-color="#800000"/><stop offset="0.2" stop-color="#800000"/><stop offset="0.26" stop-color="#800000"/><stop offset="0.32" stop-color="#b20000"/><stop offset="0.38" stop-color="#ff0000"/><stop offset="0.44" stop-color="#ff6d00"/><stop offset="0.5" stop-color="#ffea00"/><stop offset="0.56" stop-color="#afff50"/><stop offset="0.62" stop-color="#5dffa2"/><stop offset="0.7" stop-color="#00ffff"/><stop offset="0.8" stop-color="#00b6ff"/><stop offset="0.9" stop-color="#0078ff"/><stop offset="1" stop-color="#004dff"/></linearGradient><linearGradient id="b13" gradientUnits="userSpaceOnUse" x1="136" y1="806.3" x2="167.6" y2="817.6"><stop offset="0" stop-color="#800000"/><stop offset="0.05" stop-color="#800000"/><stop offset="0.1" stop-color="#800000"/><stop offset="0.15" stop-color="#800000"/><stop offset="0.2" stop-color="#800000"/><stop offset="0.26" stop-color="#800000"/><stop offset="0.32" stop-color="#b20000"/><stop offset="0.38" stop-color="#ff0000"/><stop offset="0.44" stop-color="#ff6d00"/><stop offset="0.5" stop-color="#ffea00"/><stop offset="0.56" stop-color="#afff50"/><stop offset="0.62" stop-color="#5dffa2"/><stop offset="0.7" stop-color="#00ffff"/><stop offset="0.8" stop-color="#00b6ff"/><stop offset="0.9" stop-color="#0078ff"/><stop offset="1" stop-color="#004dff"/></linearGradient><linearGradient id="b14" gradientUnits="userSpaceOnUse" x1="138" y1="800.6" x2="169.6" y2="811.9"><stop offset="0" stop-color="#800000"/><stop offset="0.05" stop-color="#800000"/><stop offset="0.1" stop-color="#800000"/><stop offset="0.15" stop-color="#800000"/><stop offset="0.2" stop-color="#800000"/><stop offset="0.26" stop-color="#800000"/><stop offset="0.32" stop-color="#b20000"/><stop offset="0.38" stop-color="#ff0000"/><stop offset="0.44" stop-color="#ff6d00"/><stop offset="0.5" stop-color="#ffea00"/><stop offset="0.56" stop-color="#afff50"/><stop offset="0.62" stop-color="#5dffa2"/><stop offset="0.7" stop-color="#00ffff"/><stop offset="0.8" stop-color="#00b6ff"/><stop offset="0.9" stop-color="#0078ff"/><stop offset="1" stop-color="#004dff"/></linearGradient><linearGradient id="b15" gradientUnits="userSpaceOnUse" x1="140.1" y1="794.8" x2="171.7" y2="806.3"><stop offset="0" stop-color="#800000"/><stop offset="0.05" stop-color="#800000"/><stop offset="0.1" stop-color="#800000"/><stop offset="0.15" stop-color="#800000"/><stop offset="0.2" stop-color="#800000"/><stop offset="0.26" stop-color="#800000"/><stop offset="0.32" stop-color="#b20000"/><stop offset="0.38" stop-color="#ff0000"/><stop offset="0.44" stop-color="#ff6d00"/><stop offset="0.5" stop-color="#ffea00"/><stop offset="0.56" stop-color="#afff50"/><stop offset="0.62" stop-color="#5dffa2"/><stop offset="0.7" stop-color="#00ffff"/><stop offset="0.8" stop-color="#00b6ff"/><stop offset="0.9" stop-color="#0078ff"/><stop offset="1" stop-color="#004dff"/></linearGradient><linearGradient id="b16" gradientUnits="userSpaceOnUse" x1="142.2" y1="789.1" x2="173.7" y2="800.6"><stop offset="0" stop-color="#800000"/><stop offset="0.05" stop-color="#800000"/><stop offset="0.1" stop-color="#800000"/><stop offset="0.15" stop-color="#800000"/><stop offset="0.2" stop-color="#800000"/><stop offset="0.26" stop-color="#800000"/><stop offset="0.32" stop-color="#b20000"/><stop offset="0.38" stop-color="#ff0000"/><stop offset="0.44" stop-color="#ff6d00"/><stop offset="0.5" stop-color="#ffea00"/><stop offset="0.56" stop-color="#afff50"/><stop offset="0.62" stop-color="#5dffa2"/><stop offset="0.7" stop-color="#00ffff"/><stop offset="0.8" stop-color="#00b6ff"/><stop offset="0.9" stop-color="#0078ff"/><stop offset="1" stop-color="#004dff"/></linearGradient><linearGradient id="b17" gradientUnits="userSpaceOnUse" x1="144.2" y1="783.4" x2="175.8" y2="795"><stop offset="0" stop-color="#800000"/><stop offset="0.05" stop-color="#800000"/><stop offset="0.1" stop-color="#800000"/><stop offset="0.15" stop-color="#800000"/><stop offset="0.2" stop-color="#800000"/><stop offset="0.26" stop-color="#800000"/><stop offset="0.32" stop-color="#b20000"/><stop offset="0.38" stop-color="#ff0000"/><stop offset="0.44" stop-color="#ff6d00"/><stop offset="0.5" stop-color="#ffea00"/><stop offset="0.56" stop-color="#afff50"/><stop offset="0.62" stop-color="#5dffa2"/><stop offset="0.7" stop-color="#00ffff"/><stop offset="0.8" stop-color="#00b6ff"/><stop offset="0.9" stop-color="#0078ff"/><stop offset="1" stop-color="#004dff"/></linearGradient><linearGradient id="b18" gradientUnits="userSpaceOnUse" x1="146.3" y1="777.7" x2="177.8" y2="789.3"><stop offset="0" stop-color="#800000"/><stop offset="0.05" stop-color="#800000"/><stop offset="0.1" stop-color="#800000"/><stop offset="0.15" stop-color="#800000"/><stop offset="0.2" stop-color="#800000"/><stop offset="0.26" stop-color="#800000"/><stop offset="0.32" stop-color="#b20000"/><stop offset="0.38" stop-color="#ff0000"/><stop offset="0.44" stop-color="#ff6d00"/><stop offset="0.5" stop-color="#ffea00"/><stop offset="0.56" stop-color="#afff50"/><stop offset="0.62" stop-color="#5dffa2"/><stop offset="0.7" stop-color="#00ffff"/><stop offset="0.8" stop-color="#00b6ff"/><stop offset="0.9" stop-color="#0078ff"/><stop offset="1" stop-color="#004dff"/></linearGradient><linearGradient id="b19" gradientUnits="userSpaceOnUse" x1="148.4" y1="772" x2="179.9" y2="783.7"><stop offset="0" stop-color="#800000"/><stop offset="0.05" stop-color="#800000"/><stop offset="0.1" stop-color="#800000"/><stop offset="0.15" stop-color="#800000"/><stop offset="0.2" stop-color="#800000"/><stop offset="0.26" stop-color="#800000"/><stop offset="0.32" stop-color="#b20000"/><stop offset="0.38" stop-color="#ff0000"/><stop offset="0.44" stop-color="#ff6d00"/><stop offset="0.5" stop-color="#ffea00"/><stop offset="0.56" stop-color="#afff50"/><stop offset="0.62" stop-color="#5dffa2"/><stop offset="0.7" stop-color="#00ffff"/><stop offset="0.8" stop-color="#00b6ff"/><stop offset="0.9" stop-color="#0078ff"/><stop offset="1" stop-color="#004dff"/></linearGradient><linearGradient id="b20" gradientUnits="userSpaceOnUse" x1="150.5" y1="766.3" x2="182" y2="778.1"><stop offset="0" stop-color="#800000"/><stop offset="0.05" stop-color="#800000"/><stop offset="0.1" stop-color="#800000"/><stop offset="0.15" stop-color="#800000"/><stop offset="0.2" stop-color="#800000"/><stop offset="0.26" stop-color="#800000"/><stop offset="0.32" stop-color="#b20000"/><stop offset="0.38" stop-color="#ff0000"/><stop offset="0.44" stop-color="#ff6d00"/><stop offset="0.5" stop-color="#ffea00"/><stop offset="0.56" stop-color="#afff50"/><stop offset="0.62" stop-color="#5dffa2"/><stop offset="0.7" stop-color="#00ffff"/><stop offset="0.8" stop-color="#00b6ff"/><stop offset="0.9" stop-color="#0078ff"/><stop offset="1" stop-color="#004dff"/></linearGradient><linearGradient id="b21" gradientUnits="userSpaceOnUse" x1="152.7" y1="760.6" x2="184.1" y2="772.5"><stop offset="0" stop-color="#800000"/><stop offset="0.05" stop-color="#800000"/><stop offset="0.1" stop-color="#800000"/><stop offset="0.15" stop-color="#800000"/><stop offset="0.2" stop-color="#800000"/><stop offset="0.26" stop-color="#800000"/><stop offset="0.32" stop-color="#b20000"/><stop offset="0.38" stop-color="#ff0000"/><stop offset="0.44" stop-color="#ff6d00"/><stop offset="0.5" stop-color="#ffea00"/><stop offset="0.56" stop-color="#afff50"/><stop offset="0.62" stop-color="#5dffa2"/><stop offset="0.7" stop-color="#00ffff"/><stop offset="0.8" stop-color="#00b6ff"/><stop offset="0.9" stop-color="#0078ff"/><stop offset="1" stop-color="#004dff"/></linearGradient><linearGradient id="b22" gradientUnits="userSpaceOnUse" x1="154.8" y1="754.9" x2="186.2" y2="766.9"><stop offset="0" stop-color="#800000"/><stop offset="0.05" stop-color="#800000"/><stop offset="0.1" stop-color="#800000"/><stop offset="0.15" stop-color="#800000"/><stop offset="0.2" stop-color="#800000"/><stop offset="0.26" stop-color="#800000"/><stop offset="0.32" stop-color="#b20000"/><stop offset="0.38" stop-color="#ff0000"/><stop offset="0.44" stop-color="#ff6d00"/><stop offset="0.5" stop-color="#ffea00"/><stop offset="0.56" stop-color="#afff50"/><stop offset="0.62" stop-color="#5dffa2"/><stop offset="0.7" stop-color="#00ffff"/><stop offset="0.8" stop-color="#00b6ff"/><stop offset="0.9" stop-color="#0078ff"/><stop offset="1" stop-color="#004dff"/></linearGradient><linearGradient id="b23" gradientUnits="userSpaceOnUse" x1="157" y1="749.2" x2="188.3" y2="761.2"><stop offset="0" stop-color="#800000"/><stop offset="0.05" stop-color="#800000"/><stop offset="0.1" stop-color="#800000"/><stop offset="0.15" stop-color="#800000"/><stop offset="0.2" stop-color="#800000"/><stop offset="0.26" stop-color="#800000"/><stop offset="0.32" stop-color="#b20000"/><stop offset="0.38" stop-color="#ff0000"/><stop offset="0.44" stop-color="#ff6d00"/><stop offset="0.5" stop-color="#ffea00"/><stop offset="0.56" stop-color="#afff50"/><stop offset="0.62" stop-color="#5dffa2"/><stop offset="0.7" stop-color="#00ffff"/><stop offset="0.8" stop-color="#00b6ff"/><stop offset="0.9" stop-color="#0078ff"/><stop offset="1" stop-color="#004dff"/></linearGradient><linearGradient id="b24" gradientUnits="userSpaceOnUse" x1="159.1" y1="743.6" x2="190.5" y2="755.6"><stop offset="0" stop-color="#800000"/><stop offset="0.05" stop-color="#800000"/><stop offset="0.1" stop-color="#800000"/><stop offset="0.15" stop-color="#800000"/><stop offset="0.2" stop-color="#800000"/><stop offset="0.26" stop-color="#800000"/><stop offset="0.32" stop-color="#b20000"/><stop offset="0.38" stop-color="#ff0000"/><stop offset="0.44" stop-color="#ff6d00"/><stop offset="0.5" stop-color="#ffea00"/><stop offset="0.56" stop-color="#afff50"/><stop offset="0.62" stop-color="#5dffa2"/><stop offset="0.7" stop-color="#00ffff"/><stop offset="0.8" stop-color="#00b6ff"/><stop offset="0.9" stop-color="#0078ff"/><stop offset="1" stop-color="#004dff"/></linearGradient><linearGradient id="b25" gradientUnits="userSpaceOnUse" x1="161.3" y1="737.9" x2="192.6" y2="750"><stop offset="0" stop-color="#800000"/><stop offset="0.05" stop-color="#800000"/><stop offset="0.1" stop-color="#800000"/><stop offset="0.15" stop-color="#800000"/><stop offset="0.2" stop-color="#800000"/><stop offset="0.26" stop-color="#800000"/><stop offset="0.32" stop-color="#b20000"/><stop offset="0.38" stop-color="#ff0000"/><stop offset="0.44" stop-color="#ff6d00"/><stop offset="0.5" stop-color="#ffea00"/><stop offset="0.56" stop-color="#afff50"/><stop offset="0.62" stop-color="#5dffa2"/><stop offset="0.7" stop-color="#00ffff"/><stop offset="0.8" stop-color="#00b6ff"/><stop offset="0.9" stop-color="#0078ff"/><stop offset="1" stop-color="#004dff"/></linearGradient><linearGradient id="b26" gradientUnits="userSpaceOnUse" x1="163.5" y1="732.2" x2="194.8" y2="744.4"><stop offset="0" stop-color="#800000"/><stop offset="0.05" stop-color="#800000"/><stop offset="0.1" stop-color="#800000"/><stop offset="0.15" stop-color="#800000"/><stop offset="0.2" stop-color="#800000"/><stop offset="0.26" stop-color="#800000"/><stop offset="0.32" stop-color="#b20000"/><stop offset="0.38" stop-color="#ff0000"/><stop offset="0.44" stop-color="#ff6d00"/><stop offset="0.5" stop-color="#ffea00"/><stop offset="0.56" stop-color="#afff50"/><stop offset="0.62" stop-color="#5dffa2"/><stop offset="0.7" stop-color="#00ffff"/><stop offset="0.8" stop-color="#00b6ff"/><stop offset="0.9" stop-color="#0078ff"/><stop offset="1" stop-color="#004dff"/></linearGradient><linearGradient id="b27" gradientUnits="userSpaceOnUse" x1="165.8" y1="726.5" x2="197" y2="738.8"><stop offset="0" stop-color="#800000"/><stop offset="0.05" stop-color="#800000"/><stop offset="0.1" stop-color="#800000"/><stop offset="0.15" stop-color="#800000"/><stop offset="0.2" stop-color="#800000"/><stop offset="0.26" stop-color="#800000"/><stop offset="0.32" stop-color="#b20000"/><stop offset="0.38" stop-color="#ff0000"/><stop offset="0.44" stop-color="#ff6d00"/><stop offset="0.5" stop-color="#ffea00"/><stop offset="0.56" stop-color="#afff50"/><stop offset="0.62" stop-color="#5dffa2"/><stop offset="0.7" stop-color="#00ffff"/><stop offset="0.8" stop-color="#00b6ff"/><stop offset="0.9" stop-color="#0078ff"/><stop offset="1" stop-color="#004dff"/></linearGradient><linearGradient id="b28" gradientUnits="userSpaceOnUse" x1="168" y1="720.8" x2="199.2" y2="733.2"><stop offset="0" stop-color="#800000"/><stop offset="0.05" stop-color="#800000"/><stop offset="0.1" stop-color="#800000"/><stop offset="0.15" stop-color="#800000"/><stop offset="0.2" stop-color="#800000"/><stop offset="0.26" stop-color="#800000"/><stop offset="0.32" stop-color="#b20000"/><stop offset="0.38" stop-color="#ff0000"/><stop offset="0.44" stop-color="#ff6d00"/><stop offset="0.5" stop-color="#ffea00"/><stop offset="0.56" stop-color="#afff50"/><stop offset="0.62" stop-color="#5dffa2"/><stop offset="0.7" stop-color="#00ffff"/><stop offset="0.8" stop-color="#00b6ff"/><stop offset="0.9" stop-color="#0078ff"/><stop offset="1" stop-color="#004dff"/></linearGradient><linearGradient id="b29" gradientUnits="userSpaceOnUse" x1="170.2" y1="715.1" x2="201.5" y2="727.5"><stop offset="0" stop-color="#800000"/><stop offset="0.05" stop-color="#800000"/><stop offset="0.1" stop-color="#800000"/><stop offset="0.15" stop-color="#800000"/><stop offset="0.2" stop-color="#800000"/><stop offset="0.26" stop-color="#800000"/><stop offset="0.32" stop-color="#b20000"/><stop offset="0.38" stop-color="#ff0000"/><stop offset="0.44" stop-color="#ff6d00"/><stop offset="0.5" stop-color="#ffea00"/><stop offset="0.56" stop-color="#afff50"/><stop offset="0.62" stop-color="#5dffa2"/><stop offset="0.7" stop-color="#00ffff"/><stop offset="0.8" stop-color="#00b6ff"/><stop offset="0.9" stop-color="#0078ff"/><stop offset="1" stop-color="#004dff"/></linearGradient><linearGradient id="b30" gradientUnits="userSpaceOnUse" x1="172.5" y1="709.5" x2="203.7" y2="721.9"><stop offset="0" stop-color="#800000"/><stop offset="0.05" stop-color="#800000"/><stop offset="0.1" stop-color="#800000"/><stop offset="0.15" stop-color="#800000"/><stop offset="0.2" stop-color="#800000"/><stop offset="0.26" stop-color="#800000"/><stop offset="0.32" stop-color="#b20000"/><stop offset="0.38" stop-color="#ff0000"/><stop offset="0.44" stop-color="#ff6d00"/><stop offset="0.5" stop-color="#ffea00"/><stop offset="0.56" stop-color="#afff50"/><stop offset="0.62" stop-color="#5dffa2"/><stop offset="0.7" stop-color="#00ffff"/><stop offset="0.8" stop-color="#00b6ff"/><stop offset="0.9" stop-color="#0078ff"/><stop offset="1" stop-color="#004dff"/></linearGradient><linearGradient id="b31" gradientUnits="userSpaceOnUse" x1="174.2" y1="705.2" x2="205.4" y2="717.7"><stop offset="0" stop-color="#800000"/><stop offset="0.05" stop-color="#800000"/><stop offset="0.1" stop-color="#800000"/><stop offset="0.15" stop-color="#800000"/><stop offset="0.2" stop-color="#800000"/><stop offset="0.26" stop-color="#800000"/><stop offset="0.32" stop-color="#b20000"/><stop offset="0.38" stop-color="#ff0000"/><stop offset="0.44" stop-color="#ff6d00"/><stop offset="0.5" stop-color="#ffea00"/><stop offset="0.56" stop-color="#afff50"/><stop offset="0.62" stop-color="#5dffa2"/><stop offset="0.7" stop-color="#00ffff"/><stop offset="0.8" stop-color="#00b6ff"/><stop offset="0.9" stop-color="#0078ff"/><stop offset="1" stop-color="#004dff"/></linearGradient><linearGradient id="b32" gradientUnits="userSpaceOnUse" x1="175.3" y1="702.4" x2="206.5" y2="714.8"><stop offset="0" stop-color="#800000"/><stop offset="0.05" stop-color="#800000"/><stop offset="0.1" stop-color="#800000"/><stop offset="0.15" stop-color="#800000"/><stop offset="0.2" stop-color="#800000"/><stop offset="0.26" stop-color="#800000"/><stop offset="0.32" stop-color="#b20000"/><stop offset="0.38" stop-color="#ff0000"/><stop offset="0.44" stop-color="#ff6d00"/><stop offset="0.5" stop-color="#ffea00"/><stop offset="0.56" stop-color="#afff50"/><stop offset="0.62" stop-color="#5dffa2"/><stop offset="0.7" stop-color="#00ffff"/><stop offset="0.8" stop-color="#00b6ff"/><stop offset="0.9" stop-color="#0078ff"/><stop offset="1" stop-color="#004dff"/></linearGradient><linearGradient id="b33" gradientUnits="userSpaceOnUse" x1="176.4" y1="699.6" x2="207.6" y2="712"><stop offset="0" stop-color="#800000"/><stop offset="0.05" stop-color="#800000"/><stop offset="0.1" stop-color="#800000"/><stop offset="0.15" stop-color="#800000"/><stop offset="0.2" stop-color="#800000"/><stop offset="0.26" stop-color="#800000"/><stop offset="0.32" stop-color="#b20000"/><stop offset="0.38" stop-color="#ff0000"/><stop offset="0.44" stop-color="#ff6d00"/><stop offset="0.5" stop-color="#ffea00"/><stop offset="0.56" stop-color="#afff50"/><stop offset="0.62" stop-color="#5dffa2"/><stop offset="0.7" stop-color="#00ffff"/><stop offset="0.8" stop-color="#00b6ff"/><stop offset="0.9" stop-color="#0078ff"/><stop offset="1" stop-color="#004dff"/></linearGradient><linearGradient id="b34" gradientUnits="userSpaceOnUse" x1="177.5" y1="696.8" x2="208.7" y2="709.2"><stop offset="0" stop-color="#860000"/><stop offset="0.05" stop-color="#800000"/><stop offset="0.1" stop-color="#800000"/><stop offset="0.15" stop-color="#800000"/><stop offset="0.2" stop-color="#800000"/><stop offset="0.26" stop-color="#800000"/><stop offset="0.32" stop-color="#b20000"/><stop offset="0.38" stop-color="#ff0000"/><stop offset="0.44" stop-color="#ff6d00"/><stop offset="0.5" stop-color="#ffea00"/><stop offset="0.56" stop-color="#afff50"/><stop offset="0.62" stop-color="#5dffa2"/><stop offset="0.7" stop-color="#00ffff"/><stop offset="0.8" stop-color="#00b6ff"/><stop offset="0.9" stop-color="#0078ff"/><stop offset="1" stop-color="#004dff"/></linearGradient><linearGradient id="b35" gradientUnits="userSpaceOnUse" x1="178.6" y1="694" x2="209.8" y2="706.4"><stop offset="0" stop-color="#8c0000"/><stop offset="0.05" stop-color="#800000"/><stop offset="0.1" stop-color="#800000"/><stop offset="0.15" stop-color="#800000"/><stop offset="0.2" stop-color="#800000"/><stop offset="0.26" stop-color="#800000"/><stop offset="0.32" stop-color="#b20000"/><stop offset="0.38" stop-color="#ff0000"/><stop offset="0.44" stop-color="#ff6d00"/><stop offset="0.5" stop-color="#ffea00"/><stop offset="0.56" stop-color="#afff50"/><stop offset="0.62" stop-color="#5dffa2"/><stop offset="0.7" stop-color="#00ffff"/><stop offset="0.8" stop-color="#00b6ff"/><stop offset="0.9" stop-color="#0078ff"/><stop offset="1" stop-color="#004dff"/></linearGradient><linearGradient id="b36" gradientUnits="userSpaceOnUse" x1="179.8" y1="691.2" x2="210.9" y2="703.6"><stop offset="0" stop-color="#920000"/><stop offset="0.05" stop-color="#800000"/><stop offset="0.1" stop-color="#800000"/><stop offset="0.15" stop-color="#800000"/><stop offset="0.2" stop-color="#800000"/><stop offset="0.26" stop-color="#800000"/><stop offset="0.32" stop-color="#b20000"/><stop offset="0.38" stop-color="#ff0000"/><stop offset="0.44" stop-color="#ff6d00"/><stop offset="0.5" stop-color="#ffea00"/><stop offset="0.56" stop-color="#afff50"/><stop offset="0.62" stop-color="#5dffa2"/><stop offset="0.7" stop-color="#00ffff"/><stop offset="0.8" stop-color="#00b6ff"/><stop offset="0.9" stop-color="#0078ff"/><stop offset="1" stop-color="#004dff"/></linearGradient><linearGradient id="b37" gradientUnits="userSpaceOnUse" x1="180.9" y1="688.3" x2="212" y2="700.8"><stop offset="0" stop-color="#970000"/><stop offset="0.05" stop-color="#800000"/><stop offset="0.1" stop-color="#800000"/><stop offset="0.15" stop-color="#800000"/><stop offset="0.2" stop-color="#800000"/><stop offset="0.26" stop-color="#800000"/><stop offset="0.32" stop-color="#b20000"/><stop offset="0.38" stop-color="#ff0000"/><stop offset="0.44" stop-color="#ff6d00"/><stop offset="0.5" stop-color="#ffea00"/><stop offset="0.56" stop-color="#afff50"/><stop offset="0.62" stop-color="#5dffa2"/><stop offset="0.7" stop-color="#00ffff"/><stop offset="0.8" stop-color="#00b6ff"/><stop offset="0.9" stop-color="#0078ff"/><stop offset="1" stop-color="#004dff"/></linearGradient><linearGradient id="b38" gradientUnits="userSpaceOnUse" x1="182" y1="685.5" x2="213.1" y2="698.1"><stop offset="0" stop-color="#9d0000"/><stop offset="0.05" stop-color="#800000"/><stop offset="0.1" stop-color="#800000"/><stop offset="0.15" stop-color="#800000"/><stop offset="0.2" stop-color="#800000"/><stop offset="0.26" stop-color="#800000"/><stop offset="0.32" stop-color="#b20000"/><stop offset="0.38" stop-color="#ff0000"/><stop offset="0.44" stop-color="#ff6d00"/><stop offset="0.5" stop-color="#ffea00"/><stop offset="0.56" stop-color="#afff50"/><stop offset="0.62" stop-color="#5dffa2"/><stop offset="0.7" stop-color="#00ffff"/><stop offset="0.8" stop-color="#00b6ff"/><stop offset="0.9" stop-color="#0078ff"/><stop offset="1" stop-color="#004dff"/></linearGradient><linearGradient id="b39" gradientUnits="userSpaceOnUse" x1="183.1" y1="682.8" x2="214.2" y2="695.4"><stop offset="0" stop-color="#a30000"/><stop offset="0.05" stop-color="#800000"/><stop offset="0.1" stop-color="#800000"/><stop offset="0.15" stop-color="#800000"/><stop offset="0.2" stop-color="#800000"/><stop offset="0.26" stop-color="#800000"/><stop offset="0.32" stop-color="#b20000"/><stop offset="0.38" stop-color="#ff0000"/><stop offset="0.44" stop-color="#ff6d00"/><stop offset="0.5" stop-color="#ffea00"/><stop offset="0.56" stop-color="#afff50"/><stop offset="0.62" stop-color="#5dffa2"/><stop offset="0.7" stop-color="#00ffff"/><stop offset="0.8" stop-color="#00b6ff"/><stop offset="0.9" stop-color="#0078ff"/><stop offset="1" stop-color="#004dff"/></linearGradient><linearGradient id="b40" gradientUnits="userSpaceOnUse" x1="184.3" y1="680" x2="215.3" y2="692.7"><stop offset="0" stop-color="#a80000"/><stop offset="0.05" stop-color="#800000"/><stop offset="0.1" stop-color="#800000"/><stop offset="0.15" stop-color="#800000"/><stop offset="0.2" stop-color="#800000"/><stop offset="0.26" stop-color="#800000"/><stop offset="0.32" stop-color="#b30000"/><stop offset="0.38" stop-color="#ff0000"/><stop offset="0.44" stop-color="#ff6d00"/><stop offset="0.5" stop-color="#ffea00"/><stop offset="0.56" stop-color="#afff50"/><stop offset="0.62" stop-color="#5dffa2"/><stop offset="0.7" stop-color="#00ffff"/><stop offset="0.8" stop-color="#00b6ff"/><stop offset="0.9" stop-color="#0078ff"/><stop offset="1" stop-color="#004dff"/></linearGradient><linearGradient id="b41" gradientUnits="userSpaceOnUse" x1="185.4" y1="677.2" x2="216.4" y2="690.1"><stop offset="0" stop-color="#ae0000"/><stop offset="0.05" stop-color="#870000"/><stop offset="0.1" stop-color="#820000"/><stop offset="0.15" stop-color="#800000"/><stop offset="0.2" stop-color="#800000"/><stop offset="0.26" stop-color="#800000"/><stop offset="0.32" stop-color="#b50000"/><stop offset="0.38" stop-color="#ff0400"/><stop offset="0.44" stop-color="#ff7100"/><stop offset="0.5" stop-color="#ffec00"/><stop offset="0.56" stop-color="#aeff51"/><stop offset="0.62" stop-color="#5bffa4"/><stop offset="0.7" stop-color="#00fdff"/><stop offset="0.8" stop-color="#00b5ff"/><stop offset="0.9" stop-color="#0078ff"/><stop offset="1" stop-color="#004dff"/></linearGradient><linearGradient id="b42" gradientUnits="userSpaceOnUse" x1="186.6" y1="674.4" x2="217.5" y2="687.5"><stop offset="0" stop-color="#b40000"/><stop offset="0.05" stop-color="#8e0000"/><stop offset="0.1" stop-color="#840000"/><stop offset="0.15" stop-color="#800000"/><stop offset="0.2" stop-color="#800000"/><stop offset="0.26" stop-color="#800000"/><stop offset="0.32" stop-color="#b70000"/><stop offset="0.38" stop-color="#ff0800"/><stop offset="0.44" stop-color="#ff7500"/><stop offset="0.5" stop-color="#ffee00"/><stop offset="0.56" stop-color="#acff53"/><stop offset="0.62" stop-color="#59ffa6"/><stop offset="0.7" stop-color="#00fcff"/><stop offset="0.8" stop-color="#00b4ff"/><stop offset="0.9" stop-color="#0078ff"/><stop offset="1" stop-color="#004dff"/></linearGradient><linearGradient id="b43" gradientUnits="userSpaceOnUse" x1="187.8" y1="671.6" x2="218.6" y2="684.9"><stop offset="0" stop-color="#b90000"/><stop offset="0.05" stop-color="#940000"/><stop offset="0.1" stop-color="#860000"/><stop offset="0.15" stop-color="#800000"/><stop offset="0.2" stop-color="#800000"/><stop offset="0.26" stop-color="#800000"/><stop offset="0.32" stop-color="#b90000"/><stop offset="0.38" stop-color="#ff0c00"/><stop offset="0.44" stop-color="#ff7900"/><stop offset="0.5" stop-color="#fff100"/><stop offset="0.56" stop-color="#aaff55"/><stop offset="0.62" stop-color="#57ffa8"/><stop offset="0.7" stop-color="#00faff"/><stop offset="0.8" stop-color="#00b3ff"/><stop offset="0.9" stop-color="#0077ff"/><stop offset="1" stop-color="#004dff"/></linearGradient><linearGradient id="b44" gradientUnits="userSpaceOnUse" x1="189" y1="668.9" x2="219.7" y2="682.4"><stop offset="0" stop-color="#bf0000"/><stop offset="0.05" stop-color="#9b0000"/><stop offset="0.1" stop-color="#890000"/><stop offset="0.15" stop-color="#800000"/><stop offset="0.2" stop-color="#800000"/><stop offset="0.26" stop-color="#800000"/><stop offset="0.32" stop-color="#bb0000"/><stop offset="0.38" stop-color="#ff1000"/><stop offset="0.44" stop-color="#ff7d00"/><stop offset="0.5" stop-color="#fff300"/><stop offset="0.56" stop-color="#a8ff57"/><stop offset="0.62" stop-color="#56ffa9"/><stop offset="0.7" stop-color="#00f9ff"/><stop offset="0.8" stop-color="#00b1ff"/><stop offset="0.9" stop-color="#0077ff"/><stop offset="1" stop-color="#004dff"/></linearGradient><linearGradient id="b45" gradientUnits="userSpaceOnUse" x1="190.2" y1="666.1" x2="220.8" y2="679.9"><stop offset="0" stop-color="#c50000"/><stop offset="0.05" stop-color="#a20000"/><stop offset="0.1" stop-color="#8b0000"/><stop offset="0.15" stop-color="#800000"/><stop offset="0.2" stop-color="#800000"/><stop offset="0.26" stop-color="#800000"/><stop offset="0.32" stop-color="#bd0000"/><stop offset="0.38" stop-color="#ff1400"/><stop offset="0.44" stop-color="#ff8100"/><stop offset="0.5" stop-color="#fff600"/><stop offset="0.56" stop-color="#a6ff59"/><stop offset="0.62" stop-color="#54ffab"/><stop offset="0.7" stop-color="#00f7ff"/><stop offset="0.8" stop-color="#00b0ff"/><stop offset="0.9" stop-color="#0077ff"/><stop offset="1" stop-color="#004dff"/></linearGradient><linearGradient id="b46" gradientUnits="userSpaceOnUse" x1="191.4" y1="663.3" x2="221.9" y2="677.4"><stop offset="0" stop-color="#ca0000"/><stop offset="0.05" stop-color="#a90000"/><stop offset="0.1" stop-color="#8d0000"/><stop offset="0.15" stop-color="#800000"/><stop offset="0.2" stop-color="#800000"/><stop offset="0.26" stop-color="#800000"/><stop offset="0.32" stop-color="#c00000"/><stop offset="0.38" stop-color="#ff1800"/><stop offset="0.44" stop-color="#ff8500"/><stop offset="0.5" stop-color="#fff800"/><stop offset="0.56" stop-color="#a5ff5a"/><stop offset="0.62" stop-color="#52ffad"/><stop offset="0.7" stop-color="#00f6ff"/><stop offset="0.8" stop-color="#00afff"/><stop offset="0.9" stop-color="#0076ff"/><stop offset="1" stop-color="#004dff"/></linearGradient><linearGradient id="b47" gradientUnits="userSpaceOnUse" x1="192.7" y1="660.6" x2="223.1" y2="674.9"><stop offset="0" stop-color="#d00000"/><stop offset="0.05" stop-color="#b00000"/><stop offset="0.1" stop-color="#8f0000"/><stop offset="0.15" stop-color="#800000"/><stop offset="0.2" stop-color="#800000"/><stop offset="0.26" stop-color="#800000"/><stop offset="0.32" stop-color="#c20000"/><stop offset="0.38" stop-color="#ff1c00"/><stop offset="0.44" stop-color="#ff8900"/><stop offset="0.5" stop-color="#fffa00"/><stop offset="0.56" stop-color="#a3ff5c"/><stop offset="0.62" stop-color="#50ffaf"/><stop offset="0.7" stop-color="#00f4ff"/><stop offset="0.8" stop-color="#00aeff"/><stop offset="0.9" stop-color="#0076ff"/><stop offset="1" stop-color="#004dff"/></linearGradient><linearGradient id="b48" gradientUnits="userSpaceOnUse" x1="194" y1="657.8" x2="224.2" y2="672.5"><stop offset="0" stop-color="#d50000"/><stop offset="0.05" stop-color="#b70000"/><stop offset="0.1" stop-color="#920000"/><stop offset="0.15" stop-color="#800000"/><stop offset="0.2" stop-color="#800000"/><stop offset="0.26" stop-color="#800000"/><stop offset="0.32" stop-color="#c40000"/><stop offset="0.38" stop-color="#ff2000"/><stop offset="0.44" stop-color="#ff8e00"/><stop offset="0.5" stop-color="#fffd00"/><stop offset="0.56" stop-color="#a1ff5e"/><stop offset="0.62" stop-color="#4effb1"/><stop offset="0.7" stop-color="#00f3ff"/><stop offset="0.8" stop-color="#00adff"/><stop offset="0.9" stop-color="#0076ff"/><stop offset="1" stop-color="#004dff"/></linearGradient><linearGradient id="b49" gradientUnits="userSpaceOnUse" x1="195.3" y1="655.1" x2="225.4" y2="670.1"><stop offset="0" stop-color="#db0000"/><stop offset="0.05" stop-color="#be0000"/><stop offset="0.1" stop-color="#940000"/><stop offset="0.15" stop-color="#800000"/><stop offset="0.2" stop-color="#800000"/><stop offset="0.26" stop-color="#800000"/><stop offset="0.32" stop-color="#c60000"/><stop offset="0.38" stop-color="#ff2400"/><stop offset="0.44" stop-color="#ff9200"/><stop offset="0.5" stop-color="#ffff00"/><stop offset="0.56" stop-color="#9fff60"/><stop offset="0.62" stop-color="#4dffb2"/><stop offset="0.7" stop-color="#00f1ff"/><stop offset="0.8" stop-color="#00acff"/><stop offset="0.9" stop-color="#0075ff"/><stop offset="1" stop-color="#004dff"/></linearGradient><linearGradient id="b50" gradientUnits="userSpaceOnUse" x1="196.7" y1="652.4" x2="226.6" y2="667.7"><stop offset="0" stop-color="#de0000"/><stop offset="0.05" stop-color="#c20000"/><stop offset="0.1" stop-color="#990000"/><stop offset="0.15" stop-color="#820000"/><stop offset="0.2" stop-color="#820000"/><stop offset="0.26" stop-color="#830000"/><stop offset="0.32" stop-color="#ca0000"/><stop offset="0.38" stop-color="#ff2900"/><stop offset="0.44" stop-color="#ff9600"/><stop offset="0.5" stop-color="#fbff04"/><stop offset="0.56" stop-color="#9cff63"/><stop offset="0.62" stop-color="#49ffb6"/><stop offset="0.7" stop-color="#00f0ff"/><stop offset="0.8" stop-color="#00abff"/><stop offset="0.9" stop-color="#0075ff"/><stop offset="1" stop-color="#004dff"/></linearGradient><linearGradient id="b51" gradientUnits="userSpaceOnUse" x1="198.1" y1="649.7" x2="227.8" y2="665.4"><stop offset="0" stop-color="#e00000"/><stop offset="0.05" stop-color="#c60000"/><stop offset="0.1" stop-color="#9f0000"/><stop offset="0.15" stop-color="#840000"/><stop offset="0.2" stop-color="#840000"/><stop offset="0.26" stop-color="#860000"/><stop offset="0.32" stop-color="#ce0000"/><stop offset="0.38" stop-color="#ff2d00"/><stop offset="0.44" stop-color="#ff9b00"/><stop offset="0.5" stop-color="#f7ff08"/><stop offset="0.56" stop-color="#98ff67"/><stop offset="0.62" stop-color="#46ffb9"/><stop offset="0.7" stop-color="#00eeff"/><stop offset="0.8" stop-color="#00a9ff"/><stop offset="0.9" stop-color="#0074ff"/><stop offset="1" stop-color="#004dff"/></linearGradient><linearGradient id="b52" gradientUnits="userSpaceOnUse" x1="199.6" y1="647" x2="229" y2="663.2"><stop offset="0" stop-color="#e30000"/><stop offset="0.05" stop-color="#ca0000"/><stop offset="0.1" stop-color="#a40000"/><stop offset="0.15" stop-color="#870000"/><stop offset="0.2" stop-color="#870000"/><stop offset="0.26" stop-color="#8a0000"/><stop offset="0.32" stop-color="#d10000"/><stop offset="0.38" stop-color="#ff3200"/><stop offset="0.44" stop-color="#ff9f00"/><stop offset="0.5" stop-color="#f3ff0c"/><stop offset="0.56" stop-color="#94ff6b"/><stop offset="0.62" stop-color="#43ffbc"/><stop offset="0.7" stop-color="#00ecff"/><stop offset="0.8" stop-color="#00a7ff"/><stop offset="0.9" stop-color="#0074ff"/><stop offset="1" stop-color="#004dff"/></linearGradient><linearGradient id="b53" gradientUnits="userSpaceOnUse" x1="201.1" y1="644.3" x2="230.2" y2="661.1"><stop offset="0" stop-color="#e50000"/><stop offset="0.05" stop-color="#ce0000"/><stop offset="0.1" stop-color="#aa0000"/><stop offset="0.15" stop-color="#8a0000"/><stop offset="0.2" stop-color="#8a0000"/><stop offset="0.26" stop-color="#8e0000"/><stop offset="0.32" stop-color="#d50000"/><stop offset="0.38" stop-color="#ff3600"/><stop offset="0.44" stop-color="#ffa400"/><stop offset="0.5" stop-color="#efff10"/><stop offset="0.56" stop-color="#91ff6e"/><stop offset="0.62" stop-color="#40ffbf"/><stop offset="0.7" stop-color="#00eaff"/><stop offset="0.8" stop-color="#00a5ff"/><stop offset="0.9" stop-color="#0073ff"/><stop offset="1" stop-color="#004dff"/></linearGradient><linearGradient id="b54" gradientUnits="userSpaceOnUse" x1="202.6" y1="641.7" x2="231.4" y2="659"><stop offset="0" stop-color="#e80000"/><stop offset="0.05" stop-color="#d20000"/><stop offset="0.1" stop-color="#b00000"/><stop offset="0.15" stop-color="#8c0000"/><stop offset="0.2" stop-color="#8c0000"/><stop offset="0.26" stop-color="#910000"/><stop offset="0.32" stop-color="#d90000"/><stop offset="0.38" stop-color="#ff3b00"/><stop offset="0.44" stop-color="#ffa800"/><stop offset="0.5" stop-color="#ebff14"/><stop offset="0.56" stop-color="#8dff72"/><stop offset="0.62" stop-color="#3dffc2"/><stop offset="0.7" stop-color="#00e9ff"/><stop offset="0.8" stop-color="#00a4ff"/><stop offset="0.9" stop-color="#0072ff"/><stop offset="1" stop-color="#004dff"/></linearGradient><linearGradient id="b55" gradientUnits="userSpaceOnUse" x1="204.2" y1="639.1" x2="232.6" y2="656.9"><stop offset="0" stop-color="#eb0000"/><stop offset="0.05" stop-color="#d60000"/><stop offset="0.1" stop-color="#b50000"/><stop offset="0.15" stop-color="#8f0000"/><stop offset="0.2" stop-color="#8f0000"/><stop offset="0.26" stop-color="#950000"/><stop offset="0.32" stop-color="#dc0000"/><stop offset="0.38" stop-color="#ff4000"/><stop offset="0.44" stop-color="#ffad00"/><stop offset="0.5" stop-color="#e7ff18"/><stop offset="0.56" stop-color="#89ff76"/><stop offset="0.62" stop-color="#39ffc6"/><stop offset="0.7" stop-color="#00e7ff"/><stop offset="0.8" stop-color="#00a2ff"/><stop offset="0.9" stop-color="#0072ff"/><stop offset="1" stop-color="#004dff"/></linearGradient><linearGradient id="b56" gradientUnits="userSpaceOnUse" x1="205.9" y1="636.5" x2="233.9" y2="655"><stop offset="0" stop-color="#ed0000"/><stop offset="0.05" stop-color="#da0000"/><stop offset="0.1" stop-color="#bb0000"/><stop offset="0.15" stop-color="#910000"/><stop offset="0.2" stop-color="#910000"/><stop offset="0.26" stop-color="#980000"/><stop offset="0.32" stop-color="#e00000"/><stop offset="0.38" stop-color="#ff4400"/><stop offset="0.44" stop-color="#ffb100"/><stop offset="0.5" stop-color="#e3ff1c"/><stop offset="0.56" stop-color="#85ff7a"/><stop offset="0.62" stop-color="#36ffc9"/><stop offset="0.7" stop-color="#00e5ff"/><stop offset="0.8" stop-color="#00a0ff"/><stop offset="0.9" stop-color="#0071ff"/><stop offset="1" stop-color="#004dff"/></linearGradient><linearGradient id="b57" gradientUnits="userSpaceOnUse" x1="207.6" y1="634" x2="235.2" y2="653.1"><stop offset="0" stop-color="#f00000"/><stop offset="0.05" stop-color="#de0000"/><stop offset="0.1" stop-color="#c10000"/><stop offset="0.15" stop-color="#940000"/><stop offset="0.2" stop-color="#940000"/><stop offset="0.26" stop-color="#9c0000"/><stop offset="0.32" stop-color="#e40000"/><stop offset="0.38" stop-color="#ff4900"/><stop offset="0.44" stop-color="#ffb600"/><stop offset="0.5" stop-color="#dfff20"/><stop offset="0.56" stop-color="#82ff7d"/><stop offset="0.62" stop-color="#33ffcc"/><stop offset="0.7" stop-color="#00e3ff"/><stop offset="0.8" stop-color="#009eff"/><stop offset="0.9" stop-color="#0071ff"/><stop offset="1" stop-color="#004dff"/></linearGradient><linearGradient id="b58" gradientUnits="userSpaceOnUse" x1="209.3" y1="631.5" x2="236.5" y2="651.2"><stop offset="0" stop-color="#f20000"/><stop offset="0.05" stop-color="#e20000"/><stop offset="0.1" stop-color="#c60000"/><stop offset="0.15" stop-color="#960000"/><stop offset="0.2" stop-color="#960000"/><stop offset="0.26" stop-color="#9f0000"/><stop offset="0.32" stop-color="#e80000"/><stop offset="0.38" stop-color="#ff4d00"/><stop offset="0.44" stop-color="#ffbb00"/><stop offset="0.5" stop-color="#dbff24"/><stop offset="0.56" stop-color="#7eff81"/><stop offset="0.62" stop-color="#30ffcf"/><stop offset="0.7" stop-color="#00e2ff"/><stop offset="0.8" stop-color="#009dff"/><stop offset="0.9" stop-color="#0070ff"/><stop offset="1" stop-color="#004dff"/></linearGradient><linearGradient id="b59" gradientUnits="userSpaceOnUse" x1="211.2" y1="629" x2="237.8" y2="649.5"><stop offset="0" stop-color="#f50000"/><stop offset="0.05" stop-color="#e60000"/><stop offset="0.1" stop-color="#cc0000"/><stop offset="0.15" stop-color="#990000"/><stop offset="0.2" stop-color="#990000"/><stop offset="0.26" stop-color="#a30000"/><stop offset="0.32" stop-color="#eb0000"/><stop offset="0.38" stop-color="#ff5200"/><stop offset="0.44" stop-color="#ffbf00"/><stop offset="0.5" stop-color="#d7ff28"/><stop offset="0.56" stop-color="#7aff85"/><stop offset="0.62" stop-color="#2dffd2"/><stop offset="0.7" stop-color="#00e0ff"/><stop offset="0.8" stop-color="#009bff"/><stop offset="0.9" stop-color="#0070ff"/><stop offset="1" stop-color="#004dff"/></linearGradient><linearGradient id="b60" gradientUnits="userSpaceOnUse" x1="213" y1="626.6" x2="239.2" y2="647.8"><stop offset="0" stop-color="#f70000"/><stop offset="0.05" stop-color="#ea0000"/><stop offset="0.1" stop-color="#d10000"/><stop offset="0.15" stop-color="#9b0000"/><stop offset="0.2" stop-color="#9b0000"/><stop offset="0.26" stop-color="#a70000"/><stop offset="0.32" stop-color="#ef0000"/><stop offset="0.38" stop-color="#ff5600"/><stop offset="0.44" stop-color="#ffc400"/><stop offset="0.5" stop-color="#d3ff2c"/><stop offset="0.56" stop-color="#77ff88"/><stop offset="0.62" stop-color="#2affd5"/><stop offset="0.7" stop-color="#00deff"/><stop offset="0.8" stop-color="#0099ff"/><stop offset="0.9" stop-color="#006fff"/><stop offset="1" stop-color="#004dff"/></linearGradient><linearGradient id="b61" gradientUnits="userSpaceOnUse" x1="215" y1="624.3" x2="240.5" y2="646.1"><stop offset="0" stop-color="#fa0000"/><stop offset="0.05" stop-color="#ee0000"/><stop offset="0.1" stop-color="#d70000"/><stop offset="0.15" stop-color="#9e0000"/><stop offset="0.2" stop-color="#9e0000"/><stop offset="0.26" stop-color="#aa0000"/><stop offset="0.32" stop-color="#f30000"/><stop offset="0.38" stop-color="#ff5b00"/><stop offset="0.44" stop-color="#ffc800"/><stop offset="0.5" stop-color="#cfff30"/><stop offset="0.56" stop-color="#73ff8c"/><stop offset="0.62" stop-color="#26ffd9"/><stop offset="0.7" stop-color="#00ddff"/><stop offset="0.8" stop-color="#0098ff"/><stop offset="0.9" stop-color="#006fff"/><stop offset="1" stop-color="#004dff"/></linearGradient><linearGradient id="b62" gradientUnits="userSpaceOnUse" x1="217" y1="622" x2="241.9" y2="644.6"><stop offset="0" stop-color="#fd0000"/><stop offset="0.05" stop-color="#f00000"/><stop offset="0.1" stop-color="#d40000"/><stop offset="0.15" stop-color="#a00000"/><stop offset="0.2" stop-color="#a00000"/><stop offset="0.26" stop-color="#af0000"/><stop offset="0.32" stop-color="#f90000"/><stop offset="0.38" stop-color="#ff6100"/><stop offset="0.44" stop-color="#ffcd00"/><stop offset="0.5" stop-color="#cbff34"/><stop offset="0.56" stop-color="#6fff90"/><stop offset="0.62" stop-color="#23ffdc"/><stop offset="0.7" stop-color="#00dbff"/><stop offset="0.8" stop-color="#0097ff"/><stop offset="0.9" stop-color="#006eff"/><stop offset="1" stop-color="#004cff"/></linearGradient><linearGradient id="b63" gradientUnits="userSpaceOnUse" x1="219" y1="619.8" x2="243.3" y2="643"><stop offset="0" stop-color="#ff0000"/><stop offset="0.05" stop-color="#f20000"/><stop offset="0.1" stop-color="#d10000"/><stop offset="0.15" stop-color="#a20000"/><stop offset="0.2" stop-color="#a20000"/><stop offset="0.26" stop-color="#b40000"/><stop offset="0.32" stop-color="#ff0000"/><stop offset="0.38" stop-color="#ff6700"/><stop offset="0.44" stop-color="#ffd200"/><stop offset="0.5" stop-color="#c7ff38"/><stop offset="0.56" stop-color="#6cff93"/><stop offset="0.62" stop-color="#1fffe0"/><stop offset="0.7" stop-color="#00daff"/><stop offset="0.8" stop-color="#0097ff"/><stop offset="0.9" stop-color="#006eff"/><stop offset="1" stop-color="#004bff"/></linearGradient><linearGradient id="b64" gradientUnits="userSpaceOnUse" x1="221.1" y1="617.6" x2="244.7" y2="641.6"><stop offset="0" stop-color="#ff0300"/><stop offset="0.05" stop-color="#f40000"/><stop offset="0.1" stop-color="#cd0000"/><stop offset="0.15" stop-color="#a40000"/><stop offset="0.2" stop-color="#a40000"/><stop offset="0.26" stop-color="#b80000"/><stop offset="0.32" stop-color="#ff0600"/><stop offset="0.38" stop-color="#ff6e00"/><stop offset="0.44" stop-color="#ffd700"/><stop offset="0.5" stop-color="#c2ff3d"/><stop offset="0.56" stop-color="#68ff97"/><stop offset="0.62" stop-color="#1cffe3"/><stop offset="0.7" stop-color="#00d9ff"/><stop offset="0.8" stop-color="#0097ff"/><stop offset="0.9" stop-color="#006eff"/><stop offset="1" stop-color="#004aff"/></linearGradient><linearGradient id="b65" gradientUnits="userSpaceOnUse" x1="223.3" y1="615.5" x2="246.3" y2="640.1"><stop offset="0" stop-color="#ff0600"/><stop offset="0.05" stop-color="#f60000"/><stop offset="0.1" stop-color="#ca0000"/><stop offset="0.15" stop-color="#a50000"/><stop offset="0.2" stop-color="#a50000"/><stop offset="0.26" stop-color="#bd0000"/><stop offset="0.32" stop-color="#ff0c00"/><stop offset="0.38" stop-color="#ff7400"/><stop offset="0.44" stop-color="#ffdc00"/><stop offset="0.5" stop-color="#beff41"/><stop offset="0.56" stop-color="#65ff9a"/><stop offset="0.62" stop-color="#18ffe7"/><stop offset="0.7" stop-color="#00d8ff"/><stop offset="0.8" stop-color="#0096ff"/><stop offset="0.9" stop-color="#006dff"/><stop offset="1" stop-color="#0049ff"/></linearGradient><linearGradient id="b66" gradientUnits="userSpaceOnUse" x1="225.5" y1="613.5" x2="247.8" y2="638.7"><stop offset="0" stop-color="#ff0900"/><stop offset="0.05" stop-color="#f80000"/><stop offset="0.1" stop-color="#c70000"/><stop offset="0.15" stop-color="#a70000"/><stop offset="0.2" stop-color="#a70000"/><stop offset="0.26" stop-color="#c20000"/><stop offset="0.32" stop-color="#ff1200"/><stop offset="0.38" stop-color="#ff7a00"/><stop offset="0.44" stop-color="#ffe100"/><stop offset="0.5" stop-color="#baff45"/><stop offset="0.56" stop-color="#61ff9e"/><stop offset="0.62" stop-color="#15ffea"/><stop offset="0.7" stop-color="#00d7ff"/><stop offset="0.8" stop-color="#0096ff"/><stop offset="0.9" stop-color="#006dff"/><stop offset="1" stop-color="#0048ff"/></linearGradient><linearGradient id="b67" gradientUnits="userSpaceOnUse" x1="227.8" y1="611.5" x2="249.4" y2="637.3"><stop offset="0" stop-color="#ff0c00"/><stop offset="0.05" stop-color="#fa0000"/><stop offset="0.1" stop-color="#c30000"/><stop offset="0.15" stop-color="#a90000"/><stop offset="0.2" stop-color="#a90000"/><stop offset="0.26" stop-color="#c60000"/><stop offset="0.32" stop-color="#ff1800"/><stop offset="0.38" stop-color="#ff8000"/><stop offset="0.44" stop-color="#ffe600"/><stop offset="0.5" stop-color="#b5ff4a"/><stop offset="0.56" stop-color="#5effa1"/><stop offset="0.62" stop-color="#11ffee"/><stop offset="0.7" stop-color="#00d5ff"/><stop offset="0.8" stop-color="#0096ff"/><stop offset="0.9" stop-color="#006dff"/><stop offset="1" stop-color="#0047ff"/></linearGradient><linearGradient id="b68" gradientUnits="userSpaceOnUse" x1="230.2" y1="609.6" x2="251.1" y2="635.9"><stop offset="0" stop-color="#ff0e00"/><stop offset="0.05" stop-color="#fc0000"/><stop offset="0.1" stop-color="#c00000"/><stop offset="0.15" stop-color="#ab0000"/><stop offset="0.2" stop-color="#ab0000"/><stop offset="0.26" stop-color="#cb0000"/><stop offset="0.32" stop-color="#ff1e00"/><stop offset="0.38" stop-color="#ff8600"/><stop offset="0.44" stop-color="#ffeb00"/><stop offset="0.5" stop-color="#b1ff4e"/><stop offset="0.56" stop-color="#5bffa4"/><stop offset="0.62" stop-color="#0efff1"/><stop offset="0.7" stop-color="#00d4ff"/><stop offset="0.8" stop-color="#0095ff"/><stop offset="0.9" stop-color="#006cff"/><stop offset="1" stop-color="#0046ff"/></linearGradient><linearGradient id="b69" gradientUnits="userSpaceOnUse" x1="232.5" y1="607.8" x2="252.8" y2="634.5"><stop offset="0" stop-color="#ff1100"/><stop offset="0.05" stop-color="#fe0000"/><stop offset="0.1" stop-color="#bd0000"/><stop offset="0.15" stop-color="#ad0000"/><stop offset="0.2" stop-color="#ad0000"/><stop offset="0.26" stop-color="#d00000"/><stop offset="0.32" stop-color="#ff2400"/><stop offset="0.38" stop-color="#ff8d00"/><stop offset="0.44" stop-color="#fff000"/><stop offset="0.5" stop-color="#adff52"/><stop offset="0.56" stop-color="#57ffa8"/><stop offset="0.62" stop-color="#0bfff4"/><stop offset="0.7" stop-color="#00d3ff"/><stop offset="0.8" stop-color="#0095ff"/><stop offset="0.9" stop-color="#006cff"/><stop offset="1" stop-color="#0045ff"/></linearGradient><linearGradient id="b70" gradientUnits="userSpaceOnUse" x1="235" y1="605.9" x2="254.6" y2="633.2"><stop offset="0" stop-color="#ff1400"/><stop offset="0.05" stop-color="#ff0100"/><stop offset="0.1" stop-color="#b90000"/><stop offset="0.15" stop-color="#af0000"/><stop offset="0.2" stop-color="#af0000"/><stop offset="0.26" stop-color="#d50000"/><stop offset="0.32" stop-color="#ff2a00"/><stop offset="0.38" stop-color="#ff9300"/><stop offset="0.44" stop-color="#fff500"/><stop offset="0.5" stop-color="#a8ff57"/><stop offset="0.56" stop-color="#54ffab"/><stop offset="0.62" stop-color="#07fff8"/><stop offset="0.7" stop-color="#00d2ff"/><stop offset="0.8" stop-color="#0095ff"/><stop offset="0.9" stop-color="#006cff"/><stop offset="1" stop-color="#0044ff"/></linearGradient><linearGradient id="b71" gradientUnits="userSpaceOnUse" x1="237.5" y1="604.2" x2="256.4" y2="632"><stop offset="0" stop-color="#ff1700"/><stop offset="0.05" stop-color="#ff0300"/><stop offset="0.1" stop-color="#b60000"/><stop offset="0.15" stop-color="#b10000"/><stop offset="0.2" stop-color="#b10000"/><stop offset="0.26" stop-color="#d90000"/><stop offset="0.32" stop-color="#ff3000"/><stop offset="0.38" stop-color="#ff9900"/><stop offset="0.44" stop-color="#fffa00"/><stop offset="0.5" stop-color="#a4ff5b"/><stop offset="0.56" stop-color="#50ffaf"/><stop offset="0.62" stop-color="#04fffb"/><stop offset="0.7" stop-color="#00d1ff"/><stop offset="0.8" stop-color="#0094ff"/><stop offset="0.9" stop-color="#006bff"/><stop offset="1" stop-color="#0043ff"/></linearGradient><linearGradient id="b72" gradientUnits="userSpaceOnUse" x1="240" y1="602.5" x2="258.2" y2="630.8"><stop offset="0" stop-color="#ff1900"/><stop offset="0.05" stop-color="#ff0500"/><stop offset="0.1" stop-color="#b30000"/><stop offset="0.15" stop-color="#b20000"/><stop offset="0.2" stop-color="#b20000"/><stop offset="0.26" stop-color="#de0000"/><stop offset="0.32" stop-color="#ff3600"/><stop offset="0.38" stop-color="#ff9f00"/><stop offset="0.44" stop-color="#ffff00"/><stop offset="0.5" stop-color="#9fff60"/><stop offset="0.56" stop-color="#4dffb2"/><stop offset="0.62" stop-color="#00ffff"/><stop offset="0.7" stop-color="#00cfff"/><stop offset="0.8" stop-color="#0094ff"/><stop offset="0.9" stop-color="#006bff"/><stop offset="1" stop-color="#0042ff"/></linearGradient><linearGradient id="b73" gradientUnits="userSpaceOnUse" x1="242.6" y1="600.9" x2="260" y2="629.6"><stop offset="0" stop-color="#ff1a00"/><stop offset="0.05" stop-color="#ff0500"/><stop offset="0.1" stop-color="#b70000"/><stop offset="0.15" stop-color="#b70000"/><stop offset="0.2" stop-color="#b70000"/><stop offset="0.26" stop-color="#e00000"/><stop offset="0.32" stop-color="#ff3800"/><stop offset="0.38" stop-color="#ffa000"/><stop offset="0.44" stop-color="#ffff00"/><stop offset="0.5" stop-color="#a0ff5f"/><stop offset="0.56" stop-color="#4dffb2"/><stop offset="0.62" stop-color="#02fffd"/><stop offset="0.7" stop-color="#00d0ff"/><stop offset="0.8" stop-color="#0094ff"/><stop offset="0.9" stop-color="#006bff"/><stop offset="1" stop-color="#0042ff"/></linearGradient><linearGradient id="b74" gradientUnits="userSpaceOnUse" x1="245.2" y1="599.3" x2="261.9" y2="628.5"><stop offset="0" stop-color="#ff1b00"/><stop offset="0.05" stop-color="#ff0600"/><stop offset="0.1" stop-color="#bb0000"/><stop offset="0.15" stop-color="#bb0000"/><stop offset="0.2" stop-color="#bb0000"/><stop offset="0.26" stop-color="#e20000"/><stop offset="0.32" stop-color="#ff3a00"/><stop offset="0.38" stop-color="#ffa100"/><stop offset="0.44" stop-color="#feff01"/><stop offset="0.5" stop-color="#a0ff5f"/><stop offset="0.56" stop-color="#4effb1"/><stop offset="0.62" stop-color="#04fffb"/><stop offset="0.7" stop-color="#00d1ff"/><stop offset="0.8" stop-color="#0094ff"/><stop offset="0.9" stop-color="#006bff"/><stop offset="1" stop-color="#0041ff"/></linearGradient><linearGradient id="b75" gradientUnits="userSpaceOnUse" x1="247.8" y1="597.9" x2="263.8" y2="627.5"><stop offset="0" stop-color="#ff1b00"/><stop offset="0.05" stop-color="#ff0600"/><stop offset="0.1" stop-color="#bf0000"/><stop offset="0.15" stop-color="#bf0000"/><stop offset="0.2" stop-color="#c00000"/><stop offset="0.26" stop-color="#e50000"/><stop offset="0.32" stop-color="#ff3c00"/><stop offset="0.38" stop-color="#ffa200"/><stop offset="0.44" stop-color="#feff01"/><stop offset="0.5" stop-color="#a1ff5e"/><stop offset="0.56" stop-color="#4effb1"/><stop offset="0.62" stop-color="#06fff9"/><stop offset="0.7" stop-color="#00d2ff"/><stop offset="0.8" stop-color="#0094ff"/><stop offset="0.9" stop-color="#006aff"/><stop offset="1" stop-color="#0041ff"/></linearGradient><linearGradient id="b76" gradientUnits="userSpaceOnUse" x1="250.5" y1="596.5" x2="265.6" y2="626.5"><stop offset="0" stop-color="#ff1c00"/><stop offset="0.05" stop-color="#ff0600"/><stop offset="0.1" stop-color="#c30000"/><stop offset="0.15" stop-color="#c40000"/><stop offset="0.2" stop-color="#c40000"/><stop offset="0.26" stop-color="#e70000"/><stop offset="0.32" stop-color="#ff3d00"/><stop offset="0.38" stop-color="#ffa300"/><stop offset="0.44" stop-color="#feff01"/><stop offset="0.5" stop-color="#a1ff5e"/><stop offset="0.56" stop-color="#4fffb0"/><stop offset="0.62" stop-color="#08fff7"/><stop offset="0.7" stop-color="#00d3ff"/><stop offset="0.8" stop-color="#0094ff"/><stop offset="0.9" stop-color="#006aff"/><stop offset="1" stop-color="#0040ff"/></linearGradient><linearGradient id="b77" gradientUnits="userSpaceOnUse" x1="253.3" y1="595.1" x2="267.5" y2="625.6"><stop offset="0" stop-color="#ff1c00"/><stop offset="0.05" stop-color="#ff0700"/><stop offset="0.1" stop-color="#c70000"/><stop offset="0.15" stop-color="#c80000"/><stop offset="0.2" stop-color="#c90000"/><stop offset="0.26" stop-color="#e90000"/><stop offset="0.32" stop-color="#ff3f00"/><stop offset="0.38" stop-color="#ffa300"/><stop offset="0.44" stop-color="#feff01"/><stop offset="0.5" stop-color="#a2ff5d"/><stop offset="0.56" stop-color="#4fffb0"/><stop offset="0.62" stop-color="#0afff5"/><stop offset="0.7" stop-color="#00d4ff"/><stop offset="0.8" stop-color="#0094ff"/><stop offset="0.9" stop-color="#006aff"/><stop offset="1" stop-color="#003fff"/></linearGradient><linearGradient id="b78" gradientUnits="userSpaceOnUse" x1="256" y1="593.9" x2="269.4" y2="624.7"><stop offset="0" stop-color="#ff1d00"/><stop offset="0.05" stop-color="#ff0700"/><stop offset="0.1" stop-color="#cb0000"/><stop offset="0.15" stop-color="#cc0000"/><stop offset="0.2" stop-color="#cd0000"/><stop offset="0.26" stop-color="#eb0000"/><stop offset="0.32" stop-color="#ff4100"/><stop offset="0.38" stop-color="#ffa400"/><stop offset="0.44" stop-color="#fdff02"/><stop offset="0.5" stop-color="#a2ff5d"/><stop offset="0.56" stop-color="#50ffaf"/><stop offset="0.62" stop-color="#0cfff3"/><stop offset="0.7" stop-color="#00d5ff"/><stop offset="0.8" stop-color="#0094ff"/><stop offset="0.9" stop-color="#0069ff"/><stop offset="1" stop-color="#003fff"/></linearGradient><linearGradient id="b79" gradientUnits="userSpaceOnUse" x1="258.8" y1="592.7" x2="271.4" y2="623.9"><stop offset="0" stop-color="#ff1e00"/><stop offset="0.05" stop-color="#ff0700"/><stop offset="0.1" stop-color="#cf0000"/><stop offset="0.15" stop-color="#d00000"/><stop offset="0.2" stop-color="#d20000"/><stop offset="0.26" stop-color="#ed0000"/><stop offset="0.32" stop-color="#ff4200"/><stop offset="0.38" stop-color="#ffa500"/><stop offset="0.44" stop-color="#fdff02"/><stop offset="0.5" stop-color="#a3ff5c"/><stop offset="0.56" stop-color="#51ffae"/><stop offset="0.62" stop-color="#0efff1"/><stop offset="0.7" stop-color="#00d6ff"/><stop offset="0.8" stop-color="#0094ff"/><stop offset="0.9" stop-color="#0069ff"/><stop offset="1" stop-color="#003eff"/></linearGradient><linearGradient id="b80" gradientUnits="userSpaceOnUse" x1="261.6" y1="591.6" x2="273.4" y2="623.1"><stop offset="0" stop-color="#ff1e00"/><stop offset="0.05" stop-color="#ff0700"/><stop offset="0.1" stop-color="#d30000"/><stop offset="0.15" stop-color="#d50000"/><stop offset="0.2" stop-color="#d60000"/><stop offset="0.26" stop-color="#ef0000"/><stop offset="0.32" stop-color="#ff4400"/><stop offset="0.38" stop-color="#ffa600"/><stop offset="0.44" stop-color="#fdff02"/><stop offset="0.5" stop-color="#a3ff5c"/><stop offset="0.56" stop-color="#51ffae"/><stop offset="0.62" stop-color="#10ffef"/><stop offset="0.7" stop-color="#00d7ff"/><stop offset="0.8" stop-color="#0094ff"/><stop offset="0.9" stop-color="#0069ff"/><stop offset="1" stop-color="#003eff"/></linearGradient><linearGradient id="b81" gradientUnits="userSpaceOnUse" x1="264.5" y1="590.6" x2="275.4" y2="622.4"><stop offset="0" stop-color="#ff1f00"/><stop offset="0.05" stop-color="#ff0800"/><stop offset="0.1" stop-color="#d80000"/><stop offset="0.15" stop-color="#d90000"/><stop offset="0.2" stop-color="#da0000"/><stop offset="0.26" stop-color="#f20000"/><stop offset="0.32" stop-color="#ff4600"/><stop offset="0.38" stop-color="#ffa700"/><stop offset="0.44" stop-color="#fcff03"/><stop offset="0.5" stop-color="#a4ff5b"/><stop offset="0.56" stop-color="#52ffad"/><stop offset="0.62" stop-color="#12ffed"/><stop offset="0.7" stop-color="#00d8ff"/><stop offset="0.8" stop-color="#0094ff"/><stop offset="0.9" stop-color="#0068ff"/><stop offset="1" stop-color="#003dff"/></linearGradient><linearGradient id="b82" gradientUnits="userSpaceOnUse" x1="267.4" y1="589.6" x2="277.4" y2="621.7"><stop offset="0" stop-color="#ff1f00"/><stop offset="0.05" stop-color="#ff0800"/><stop offset="0.1" stop-color="#dc0000"/><stop offset="0.15" stop-color="#dd0000"/><stop offset="0.2" stop-color="#df0000"/><stop offset="0.26" stop-color="#f40000"/><stop offset="0.32" stop-color="#ff4700"/><stop offset="0.38" stop-color="#ffa700"/><stop offset="0.44" stop-color="#fcff03"/><stop offset="0.5" stop-color="#a4ff5b"/><stop offset="0.56" stop-color="#52ffad"/><stop offset="0.62" stop-color="#14ffeb"/><stop offset="0.7" stop-color="#00d9ff"/><stop offset="0.8" stop-color="#0094ff"/><stop offset="0.9" stop-color="#0068ff"/><stop offset="1" stop-color="#003dff"/></linearGradient><linearGradient id="b83" gradientUnits="userSpaceOnUse" x1="270.3" y1="588.8" x2="279.4" y2="621.1"><stop offset="0" stop-color="#ff2000"/><stop offset="0.05" stop-color="#ff0800"/><stop offset="0.1" stop-color="#e00000"/><stop offset="0.15" stop-color="#e20000"/><stop offset="0.2" stop-color="#e30000"/><stop offset="0.26" stop-color="#f60000"/><stop offset="0.32" stop-color="#ff4900"/><stop offset="0.38" stop-color="#ffa800"/><stop offset="0.44" stop-color="#fcff03"/><stop offset="0.5" stop-color="#a5ff5a"/><stop offset="0.56" stop-color="#53ffac"/><stop offset="0.62" stop-color="#16ffe9"/><stop offset="0.7" stop-color="#00daff"/><stop offset="0.8" stop-color="#0094ff"/><stop offset="0.9" stop-color="#0068ff"/><stop offset="1" stop-color="#003cff"/></linearGradient><linearGradient id="b84" gradientUnits="userSpaceOnUse" x1="273.2" y1="588" x2="281.5" y2="620.6"><stop offset="0" stop-color="#ff2000"/><stop offset="0.05" stop-color="#ff0900"/><stop offset="0.1" stop-color="#e40000"/><stop offset="0.15" stop-color="#e60000"/><stop offset="0.2" stop-color="#e80000"/><stop offset="0.26" stop-color="#f80000"/><stop offset="0.32" stop-color="#ff4b00"/><stop offset="0.38" stop-color="#ffa900"/><stop offset="0.44" stop-color="#fcff03"/><stop offset="0.5" stop-color="#a5ff5a"/><stop offset="0.56" stop-color="#53ffac"/><stop offset="0.62" stop-color="#18ffe7"/><stop offset="0.7" stop-color="#00dbff"/><stop offset="0.8" stop-color="#0094ff"/><stop offset="0.9" stop-color="#0068ff"/><stop offset="1" stop-color="#003bff"/></linearGradient><linearGradient id="b85" gradientUnits="userSpaceOnUse" x1="276.2" y1="587.3" x2="283.5" y2="620.1"><stop offset="0" stop-color="#ff2100"/><stop offset="0.05" stop-color="#ff0900"/><stop offset="0.1" stop-color="#e80000"/><stop offset="0.15" stop-color="#ea0000"/><stop offset="0.2" stop-color="#ec0000"/><stop offset="0.26" stop-color="#fa0000"/><stop offset="0.32" stop-color="#ff4c00"/><stop offset="0.38" stop-color="#ffaa00"/><stop offset="0.44" stop-color="#fbff04"/><stop offset="0.5" stop-color="#a6ff59"/><stop offset="0.56" stop-color="#54ffab"/><stop offset="0.62" stop-color="#1affe5"/><stop offset="0.7" stop-color="#00dcff"/><stop offset="0.8" stop-color="#0094ff"/><stop offset="0.9" stop-color="#0067ff"/><stop offset="1" stop-color="#003bff"/></linearGradient><linearGradient id="b86" gradientUnits="userSpaceOnUse" x1="279.2" y1="586.6" x2="285.6" y2="619.7"><stop offset="0" stop-color="#ff2200"/><stop offset="0.05" stop-color="#ff0900"/><stop offset="0.1" stop-color="#ec0000"/><stop offset="0.15" stop-color="#ee0000"/><stop offset="0.2" stop-color="#f10000"/><stop offset="0.26" stop-color="#fc0000"/><stop offset="0.32" stop-color="#ff4e00"/><stop offset="0.38" stop-color="#ffab00"/><stop offset="0.44" stop-color="#fbff04"/><stop offset="0.5" stop-color="#a6ff59"/><stop offset="0.56" stop-color="#55ffaa"/><stop offset="0.62" stop-color="#1cffe3"/><stop offset="0.7" stop-color="#00ddff"/><stop offset="0.8" stop-color="#0094ff"/><stop offset="0.9" stop-color="#0067ff"/><stop offset="1" stop-color="#003aff"/></linearGradient><linearGradient id="b87" gradientUnits="userSpaceOnUse" x1="282.1" y1="586.1" x2="287.7" y2="619.3"><stop offset="0" stop-color="#ff2200"/><stop offset="0.05" stop-color="#ff0900"/><stop offset="0.1" stop-color="#f00000"/><stop offset="0.15" stop-color="#f30000"/><stop offset="0.2" stop-color="#f50000"/><stop offset="0.26" stop-color="#ff0000"/><stop offset="0.32" stop-color="#ff4f00"/><stop offset="0.38" stop-color="#ffab00"/><stop offset="0.44" stop-color="#fbff04"/><stop offset="0.5" stop-color="#a7ff58"/><stop offset="0.56" stop-color="#55ffaa"/><stop offset="0.62" stop-color="#1effe1"/><stop offset="0.7" stop-color="#00deff"/><stop offset="0.8" stop-color="#0094ff"/><stop offset="0.9" stop-color="#0067ff"/><stop offset="1" stop-color="#003aff"/></linearGradient><linearGradient id="b88" gradientUnits="userSpaceOnUse" x1="285.1" y1="585.6" x2="289.8" y2="619"><stop offset="0" stop-color="#ff2300"/><stop offset="0.05" stop-color="#ff0a00"/><stop offset="0.1" stop-color="#f40000"/><stop offset="0.15" stop-color="#f70000"/><stop offset="0.2" stop-color="#fa0000"/><stop offset="0.26" stop-color="#ff0200"/><stop offset="0.32" stop-color="#ff5100"/><stop offset="0.38" stop-color="#ffac00"/><stop offset="0.44" stop-color="#faff05"/><stop offset="0.5" stop-color="#a7ff58"/><stop offset="0.56" stop-color="#56ffa9"/><stop offset="0.62" stop-color="#20ffdf"/><stop offset="0.7" stop-color="#00dfff"/><stop offset="0.8" stop-color="#0094ff"/><stop offset="0.9" stop-color="#0066ff"/><stop offset="1" stop-color="#0039ff"/></linearGradient><linearGradient id="b89" gradientUnits="userSpaceOnUse" x1="288.1" y1="585.3" x2="291.9" y2="618.7"><stop offset="0" stop-color="#ff2300"/><stop offset="0.05" stop-color="#ff0a00"/><stop offset="0.1" stop-color="#f90000"/><stop offset="0.15" stop-color="#fb0000"/><stop offset="0.2" stop-color="#fe0000"/><stop offset="0.26" stop-color="#ff0400"/><stop offset="0.32" stop-color="#ff5300"/><stop offset="0.38" stop-color="#ffad00"/><stop offset="0.44" stop-color="#faff05"/><stop offset="0.5" stop-color="#a8ff57"/><stop offset="0.56" stop-color="#56ffa9"/><stop offset="0.62" stop-color="#22ffdd"/><stop offset="0.7" stop-color="#00e0ff"/><stop offset="0.8" stop-color="#0094ff"/><stop offset="0.9" stop-color="#0066ff"/><stop offset="1" stop-color="#0038ff"/></linearGradient><linearGradient id="b90" gradientUnits="userSpaceOnUse" x1="291.2" y1="585" x2="294" y2="618.5"><stop offset="0" stop-color="#ff2700"/><stop offset="0.05" stop-color="#ff0f00"/><stop offset="0.1" stop-color="#ff0200"/><stop offset="0.15" stop-color="#ff0500"/><stop offset="0.2" stop-color="#ff0800"/><stop offset="0.26" stop-color="#ff0e00"/><stop offset="0.32" stop-color="#ff5b00"/><stop offset="0.38" stop-color="#ffb300"/><stop offset="0.44" stop-color="#f4ff0b"/><stop offset="0.5" stop-color="#a3ff5c"/><stop offset="0.56" stop-color="#52ffad"/><stop offset="0.62" stop-color="#1effe1"/><stop offset="0.7" stop-color="#00ddff"/><stop offset="0.8" stop-color="#0092ff"/><stop offset="0.9" stop-color="#0064ff"/><stop offset="1" stop-color="#0037ff"/></linearGradient><linearGradient id="b91" gradientUnits="userSpaceOnUse" x1="294.2" y1="584.8" x2="296.1" y2="618.3"><stop offset="0" stop-color="#ff2f00"/><stop offset="0.05" stop-color="#ff1b00"/><stop offset="0.1" stop-color="#ff1100"/><stop offset="0.15" stop-color="#ff1400"/><stop offset="0.2" stop-color="#ff1700"/><stop offset="0.26" stop-color="#ff2300"/><stop offset="0.32" stop-color="#ff6d00"/><stop offset="0.38" stop-color="#ffc200"/><stop offset="0.44" stop-color="#e6ff19"/><stop offset="0.5" stop-color="#95ff6a"/><stop offset="0.56" stop-color="#45ffba"/><stop offset="0.62" stop-color="#14ffeb"/><stop offset="0.7" stop-color="#00d4ff"/><stop offset="0.8" stop-color="#008dff"/><stop offset="0.9" stop-color="#0061ff"/><stop offset="1" stop-color="#0034ff"/></linearGradient><linearGradient id="b92" gradientUnits="userSpaceOnUse" x1="297.2" y1="584.6" x2="298.2" y2="618.3"><stop offset="0" stop-color="#ff3700"/><stop offset="0.05" stop-color="#ff2700"/><stop offset="0.1" stop-color="#ff1f00"/><stop offset="0.15" stop-color="#ff2300"/><stop offset="0.2" stop-color="#ff2600"/><stop offset="0.26" stop-color="#ff3900"/><stop offset="0.32" stop-color="#ff7f00"/><stop offset="0.38" stop-color="#ffd100"/><stop offset="0.44" stop-color="#d8ff27"/><stop offset="0.5" stop-color="#87ff78"/><stop offset="0.56" stop-color="#39ffc6"/><stop offset="0.62" stop-color="#0afff5"/><stop offset="0.7" stop-color="#00ccff"/><stop offset="0.8" stop-color="#0088ff"/><stop offset="0.9" stop-color="#005dff"/><stop offset="1" stop-color="#0032ff"/></linearGradient><linearGradient id="b93" gradientUnits="userSpaceOnUse" x1="300.3" y1="584.6" x2="300.3" y2="618.2"><stop offset="0" stop-color="#ff3f00"/><stop offset="0.05" stop-color="#ff3300"/><stop offset="0.1" stop-color="#ff2e00"/><stop offset="0.15" stop-color="#ff3200"/><stop offset="0.2" stop-color="#ff3500"/><stop offset="0.26" stop-color="#ff4e00"/><stop offset="0.32" stop-color="#ff9100"/><stop offset="0.38" stop-color="#ffe000"/><stop offset="0.44" stop-color="#c9ff36"/><stop offset="0.5" stop-color="#79ff86"/><stop offset="0.56" stop-color="#2dffd2"/><stop offset="0.62" stop-color="#00feff"/><stop offset="0.7" stop-color="#00c3ff"/><stop offset="0.8" stop-color="#0083ff"/><stop offset="0.9" stop-color="#0059ff"/><stop offset="1" stop-color="#002fff"/></linearGradient><linearGradient id="b94" gradientUnits="userSpaceOnUse" x1="303.3" y1="584.6" x2="302.5" y2="618.2"><stop offset="0" stop-color="#ff4700"/><stop offset="0.05" stop-color="#ff3f00"/><stop offset="0.1" stop-color="#ff3c00"/><stop offset="0.15" stop-color="#ff4100"/><stop offset="0.2" stop-color="#ff4500"/><stop offset="0.26" stop-color="#ff6400"/><stop offset="0.32" stop-color="#ffa200"/><stop offset="0.38" stop-color="#ffef00"/><stop offset="0.44" stop-color="#bbff44"/><stop offset="0.5" stop-color="#6cff93"/><stop offset="0.56" stop-color="#21ffde"/><stop offset="0.62" stop-color="#00f4ff"/><stop offset="0.7" stop-color="#00bbff"/><stop offset="0.8" stop-color="#007dff"/><stop offset="0.9" stop-color="#0055ff"/><stop offset="1" stop-color="#002cff"/></linearGradient><linearGradient id="b95" gradientUnits="userSpaceOnUse" x1="306.3" y1="584.7" x2="304.7" y2="618.3"><stop offset="0" stop-color="#ff4f00"/><stop offset="0.05" stop-color="#ff4b00"/><stop offset="0.1" stop-color="#ff4b00"/><stop offset="0.15" stop-color="#ff4f00"/><stop offset="0.2" stop-color="#ff5400"/><stop offset="0.26" stop-color="#ff7900"/><stop offset="0.32" stop-color="#ffb400"/><stop offset="0.38" stop-color="#fffe00"/><stop offset="0.44" stop-color="#adff52"/><stop offset="0.5" stop-color="#5effa1"/><stop offset="0.56" stop-color="#14ffeb"/><stop offset="0.62" stop-color="#00e9ff"/><stop offset="0.7" stop-color="#00b2ff"/><stop offset="0.8" stop-color="#0078ff"/><stop offset="0.9" stop-color="#0051ff"/><stop offset="1" stop-color="#002aff"/></linearGradient><linearGradient id="b96" gradientUnits="userSpaceOnUse" x1="309.4" y1="584.9" x2="306.8" y2="618.5"><stop offset="0" stop-color="#ff5700"/><stop offset="0.05" stop-color="#ff5800"/><stop offset="0.1" stop-color="#ff5a00"/><stop offset="0.15" stop-color="#ff5e00"/><stop offset="0.2" stop-color="#ff6300"/><stop offset="0.26" stop-color="#ff8f00"/><stop offset="0.32" stop-color="#ffc600"/><stop offset="0.38" stop-color="#f2ff0d"/><stop offset="0.44" stop-color="#9eff61"/><stop offset="0.5" stop-color="#50ffaf"/><stop offset="0.56" stop-color="#08fff7"/><stop offset="0.62" stop-color="#00dfff"/><stop offset="0.7" stop-color="#00aaff"/><stop offset="0.8" stop-color="#0073ff"/><stop offset="0.9" stop-color="#004dff"/><stop offset="1" stop-color="#0027ff"/></linearGradient><linearGradient id="b97" gradientUnits="userSpaceOnUse" x1="312.4" y1="585.2" x2="309" y2="618.7"><stop offset="0" stop-color="#ff5f00"/><stop offset="0.05" stop-color="#ff6400"/><stop offset="0.1" stop-color="#ff6800"/><stop offset="0.15" stop-color="#ff6d00"/><stop offset="0.2" stop-color="#ff7200"/><stop offset="0.26" stop-color="#ffa400"/><stop offset="0.32" stop-color="#ffd800"/><stop offset="0.38" stop-color="#e3ff1c"/><stop offset="0.44" stop-color="#90ff6f"/><stop offset="0.5" stop-color="#42ffbd"/><stop offset="0.56" stop-color="#00fbff"/><stop offset="0.62" stop-color="#00d4ff"/><stop offset="0.7" stop-color="#00a1ff"/><stop offset="0.8" stop-color="#006eff"/><stop offset="0.9" stop-color="#0049ff"/><stop offset="1" stop-color="#0024ff"/></linearGradient><linearGradient id="b98" gradientUnits="userSpaceOnUse" x1="315.4" y1="585.5" x2="311.2" y2="618.9"><stop offset="0" stop-color="#ff7100"/><stop offset="0.05" stop-color="#ff7600"/><stop offset="0.1" stop-color="#ff7b00"/><stop offset="0.15" stop-color="#ff8100"/><stop offset="0.2" stop-color="#ff8800"/><stop offset="0.26" stop-color="#ffb900"/><stop offset="0.32" stop-color="#ffed00"/><stop offset="0.38" stop-color="#d0ff2f"/><stop offset="0.44" stop-color="#81ff7e"/><stop offset="0.5" stop-color="#37ffc8"/><stop offset="0.56" stop-color="#00f4ff"/><stop offset="0.62" stop-color="#00ceff"/><stop offset="0.7" stop-color="#009cff"/><stop offset="0.8" stop-color="#006aff"/><stop offset="0.9" stop-color="#0046ff"/><stop offset="1" stop-color="#0023ff"/></linearGradient><linearGradient id="b99" gradientUnits="userSpaceOnUse" x1="318.4" y1="586" x2="313.4" y2="619.2"><stop offset="0" stop-color="#ff8500"/><stop offset="0.05" stop-color="#ff8900"/><stop offset="0.1" stop-color="#ff8e00"/><stop offset="0.15" stop-color="#ff9600"/><stop offset="0.2" stop-color="#ff9f00"/><stop offset="0.26" stop-color="#ffce00"/><stop offset="0.32" stop-color="#fcff03"/><stop offset="0.38" stop-color="#bdff42"/><stop offset="0.44" stop-color="#72ff8d"/><stop offset="0.5" stop-color="#2dffd2"/><stop offset="0.56" stop-color="#00efff"/><stop offset="0.62" stop-color="#00c9ff"/><stop offset="0.7" stop-color="#0097ff"/><stop offset="0.8" stop-color="#0067ff"/><stop offset="0.9" stop-color="#0044ff"/><stop offset="1" stop-color="#0021ff"/></linearGradient><linearGradient id="b100" gradientUnits="userSpaceOnUse" x1="321.4" y1="586.4" x2="315.6" y2="619.6"><stop offset="0" stop-color="#ff9800"/><stop offset="0.05" stop-color="#ff9d00"/><stop offset="0.1" stop-color="#ffa200"/><stop offset="0.15" stop-color="#ffaa00"/><stop offset="0.2" stop-color="#ffb600"/><stop offset="0.26" stop-color="#ffe300"/><stop offset="0.32" stop-color="#e6ff19"/><stop offset="0.38" stop-color="#a9ff56"/><stop offset="0.44" stop-color="#63ff9c"/><stop offset="0.5" stop-color="#23ffdc"/><stop offset="0.56" stop-color="#00e9ff"/><stop offset="0.62" stop-color="#00c4ff"/><stop offset="0.7" stop-color="#0093ff"/><stop offset="0.8" stop-color="#0063ff"/><stop offset="0.9" stop-color="#0041ff"/><stop offset="1" stop-color="#0020ff"/></linearGradient><linearGradient id="b101" gradientUnits="userSpaceOnUse" x1="324.4" y1="587" x2="317.8" y2="620"><stop offset="0" stop-color="#ffac00"/><stop offset="0.05" stop-color="#ffb100"/><stop offset="0.1" stop-color="#ffb500"/><stop offset="0.15" stop-color="#ffbf00"/><stop offset="0.2" stop-color="#ffcd00"/><stop offset="0.26" stop-color="#fff800"/><stop offset="0.32" stop-color="#d1ff2e"/><stop offset="0.38" stop-color="#96ff69"/><stop offset="0.44" stop-color="#54ffab"/><stop offset="0.5" stop-color="#18ffe7"/><stop offset="0.56" stop-color="#00e3ff"/><stop offset="0.62" stop-color="#00bfff"/><stop offset="0.7" stop-color="#008eff"/><stop offset="0.8" stop-color="#005fff"/><stop offset="0.9" stop-color="#003fff"/><stop offset="1" stop-color="#001eff"/></linearGradient><linearGradient id="b102" gradientUnits="userSpaceOnUse" x1="327.4" y1="587.6" x2="320" y2="620.4"><stop offset="0" stop-color="#ffc000"/><stop offset="0.05" stop-color="#ffc400"/><stop offset="0.1" stop-color="#ffc900"/><stop offset="0.15" stop-color="#ffd400"/><stop offset="0.2" stop-color="#ffe400"/><stop offset="0.26" stop-color="#f1ff0e"/><stop offset="0.32" stop-color="#bbff44"/><stop offset="0.38" stop-color="#82ff7d"/><stop offset="0.44" stop-color="#45ffba"/><stop offset="0.5" stop-color="#0efff1"/><stop offset="0.56" stop-color="#00deff"/><stop offset="0.62" stop-color="#00baff"/><stop offset="0.7" stop-color="#0089ff"/><stop offset="0.8" stop-color="#005cff"/><stop offset="0.9" stop-color="#003cff"/><stop offset="1" stop-color="#001dff"/></linearGradient><linearGradient id="b103" gradientUnits="userSpaceOnUse" x1="330.3" y1="588.3" x2="322.2" y2="621"><stop offset="0" stop-color="#ffd300"/><stop offset="0.05" stop-color="#ffd800"/><stop offset="0.1" stop-color="#ffdc00"/><stop offset="0.15" stop-color="#ffe900"/><stop offset="0.2" stop-color="#fffb00"/><stop offset="0.26" stop-color="#ddff22"/><stop offset="0.32" stop-color="#a6ff59"/><stop offset="0.38" stop-color="#6eff91"/><stop offset="0.44" stop-color="#36ffc9"/><stop offset="0.5" stop-color="#03fffc"/><stop offset="0.56" stop-color="#00d8ff"/><stop offset="0.62" stop-color="#00b4ff"/><stop offset="0.7" stop-color="#0085ff"/><stop offset="0.8" stop-color="#0058ff"/><stop offset="0.9" stop-color="#003aff"/><stop offset="1" stop-color="#001cff"/></linearGradient><linearGradient id="b104" gradientUnits="userSpaceOnUse" x1="333.2" y1="589.1" x2="324.4" y2="621.5"><stop offset="0" stop-color="#ffe700"/><stop offset="0.05" stop-color="#ffeb00"/><stop offset="0.1" stop-color="#fff000"/><stop offset="0.15" stop-color="#fffe00"/><stop offset="0.2" stop-color="#ecff13"/><stop offset="0.26" stop-color="#c8ff37"/><stop offset="0.32" stop-color="#90ff6f"/><stop offset="0.38" stop-color="#5bffa4"/><stop offset="0.44" stop-color="#27ffd8"/><stop offset="0.5" stop-color="#00f8ff"/><stop offset="0.56" stop-color="#00d3ff"/><stop offset="0.62" stop-color="#00afff"/><stop offset="0.7" stop-color="#0080ff"/><stop offset="0.8" stop-color="#0054ff"/><stop offset="0.9" stop-color="#0037ff"/><stop offset="1" stop-color="#001aff"/></linearGradient><linearGradient id="b105" gradientUnits="userSpaceOnUse" x1="336.1" y1="589.9" x2="326.6" y2="622.2"><stop offset="0" stop-color="#fff600"/><stop offset="0.05" stop-color="#fffb00"/><stop offset="0.1" stop-color="#feff01"/><stop offset="0.15" stop-color="#efff10"/><stop offset="0.2" stop-color="#d9ff26"/><stop offset="0.26" stop-color="#b6ff49"/><stop offset="0.32" stop-color="#7fff80"/><stop offset="0.38" stop-color="#4cffb3"/><stop offset="0.44" stop-color="#1bffe4"/><stop offset="0.5" stop-color="#00eeff"/><stop offset="0.56" stop-color="#00ccff"/><stop offset="0.62" stop-color="#00aaff"/><stop offset="0.7" stop-color="#007cff"/><stop offset="0.8" stop-color="#0052ff"/><stop offset="0.9" stop-color="#0036ff"/><stop offset="1" stop-color="#001aff"/></linearGradient><linearGradient id="b106" gradientUnits="userSpaceOnUse" x1="339" y1="590.8" x2="328.8" y2="622.8"><stop offset="0" stop-color="#fdff02"/><stop offset="0.05" stop-color="#f7ff08"/><stop offset="0.1" stop-color="#f0ff0f"/><stop offset="0.15" stop-color="#e1ff1e"/><stop offset="0.2" stop-color="#caff35"/><stop offset="0.26" stop-color="#a6ff59"/><stop offset="0.32" stop-color="#72ff8d"/><stop offset="0.38" stop-color="#3fffc0"/><stop offset="0.44" stop-color="#10ffef"/><stop offset="0.5" stop-color="#00e5ff"/><stop offset="0.56" stop-color="#00c5ff"/><stop offset="0.62" stop-color="#00a4ff"/><stop offset="0.7" stop-color="#0079ff"/><stop offset="0.8" stop-color="#0051ff"/><stop offset="0.9" stop-color="#0036ff"/><stop offset="1" stop-color="#001bff"/></linearGradient><linearGradient id="b107" gradientUnits="userSpaceOnUse" x1="341.9" y1="591.8" x2="330.9" y2="623.5"><stop offset="0" stop-color="#f1ff0e"/><stop offset="0.05" stop-color="#eaff15"/><stop offset="0.1" stop-color="#e3ff1c"/><stop offset="0.15" stop-color="#d2ff2d"/><stop offset="0.2" stop-color="#bbff44"/><stop offset="0.26" stop-color="#97ff68"/><stop offset="0.32" stop-color="#64ff9b"/><stop offset="0.38" stop-color="#33ffcc"/><stop offset="0.44" stop-color="#05fffa"/><stop offset="0.5" stop-color="#00dcff"/><stop offset="0.56" stop-color="#00beff"/><stop offset="0.62" stop-color="#009fff"/><stop offset="0.7" stop-color="#0076ff"/><stop offset="0.8" stop-color="#004fff"/><stop offset="0.9" stop-color="#0036ff"/><stop offset="1" stop-color="#001cff"/></linearGradient><linearGradient id="b108" gradientUnits="userSpaceOnUse" x1="344.7" y1="592.8" x2="333" y2="624.3"><stop offset="0" stop-color="#e6ff19"/><stop offset="0.05" stop-color="#deff21"/><stop offset="0.1" stop-color="#d5ff2a"/><stop offset="0.15" stop-color="#c3ff3c"/><stop offset="0.2" stop-color="#abff54"/><stop offset="0.26" stop-color="#88ff77"/><stop offset="0.32" stop-color="#56ffa9"/><stop offset="0.38" stop-color="#27ffd8"/><stop offset="0.44" stop-color="#00f9ff"/><stop offset="0.5" stop-color="#00d4ff"/><stop offset="0.56" stop-color="#00b6ff"/><stop offset="0.62" stop-color="#0099ff"/><stop offset="0.7" stop-color="#0072ff"/><stop offset="0.8" stop-color="#004eff"/><stop offset="0.9" stop-color="#0035ff"/><stop offset="1" stop-color="#001dff"/></linearGradient><linearGradient id="b109" gradientUnits="userSpaceOnUse" x1="347.5" y1="593.9" x2="335.1" y2="625.1"><stop offset="0" stop-color="#dbff24"/><stop offset="0.05" stop-color="#d1ff2e"/><stop offset="0.1" stop-color="#c7ff38"/><stop offset="0.15" stop-color="#b5ff4a"/><stop offset="0.2" stop-color="#9cff63"/><stop offset="0.26" stop-color="#78ff87"/><stop offset="0.32" stop-color="#49ffb6"/><stop offset="0.38" stop-color="#1bffe4"/><stop offset="0.44" stop-color="#00eeff"/><stop offset="0.5" stop-color="#00cbff"/><stop offset="0.56" stop-color="#00afff"/><stop offset="0.62" stop-color="#0094ff"/><stop offset="0.7" stop-color="#006fff"/><stop offset="0.8" stop-color="#004dff"/><stop offset="0.9" stop-color="#0035ff"/><stop offset="1" stop-color="#001eff"/></linearGradient><linearGradient id="b110" gradientUnits="userSpaceOnUse" x1="350.3" y1="595" x2="337.2" y2="626"><stop offset="0" stop-color="#cfff30"/><stop offset="0.05" stop-color="#c5ff3a"/><stop offset="0.1" stop-color="#baff45"/><stop offset="0.15" stop-color="#a6ff59"/><stop offset="0.2" stop-color="#8cff73"/><stop offset="0.26" stop-color="#69ff96"/><stop offset="0.32" stop-color="#3bffc4"/><stop offset="0.38" stop-color="#0ffff0"/><stop offset="0.44" stop-color="#00e3ff"/><stop offset="0.5" stop-color="#00c2ff"/><stop offset="0.56" stop-color="#00a8ff"/><stop offset="0.62" stop-color="#008eff"/><stop offset="0.7" stop-color="#006cff"/><stop offset="0.8" stop-color="#004bff"/><stop offset="0.9" stop-color="#0035ff"/><stop offset="1" stop-color="#001fff"/></linearGradient><linearGradient id="b111" gradientUnits="userSpaceOnUse" x1="353.1" y1="596.2" x2="339.3" y2="626.9"><stop offset="0" stop-color="#c4ff3b"/><stop offset="0.05" stop-color="#b8ff47"/><stop offset="0.1" stop-color="#acff53"/><stop offset="0.15" stop-color="#97ff68"/><stop offset="0.2" stop-color="#7dff82"/><stop offset="0.26" stop-color="#59ffa6"/><stop offset="0.32" stop-color="#2effd1"/><stop offset="0.38" stop-color="#03fffc"/><stop offset="0.44" stop-color="#00d9ff"/><stop offset="0.5" stop-color="#00b9ff"/><stop offset="0.56" stop-color="#00a1ff"/><stop offset="0.62" stop-color="#0089ff"/><stop offset="0.7" stop-color="#0069ff"/><stop offset="0.8" stop-color="#004aff"/><stop offset="0.9" stop-color="#0035ff"/><stop offset="1" stop-color="#0020ff"/></linearGradient><linearGradient id="b112" gradientUnits="userSpaceOnUse" x1="355.8" y1="597.5" x2="341.4" y2="627.9"><stop offset="0" stop-color="#b9ff46"/><stop offset="0.05" stop-color="#acff53"/><stop offset="0.1" stop-color="#9eff61"/><stop offset="0.15" stop-color="#89ff76"/><stop offset="0.2" stop-color="#6eff91"/><stop offset="0.26" stop-color="#4affb5"/><stop offset="0.32" stop-color="#20ffdf"/><stop offset="0.38" stop-color="#00f6ff"/><stop offset="0.44" stop-color="#00ceff"/><stop offset="0.5" stop-color="#00b0ff"/><stop offset="0.56" stop-color="#0099ff"/><stop offset="0.62" stop-color="#0083ff"/><stop offset="0.7" stop-color="#0065ff"/><stop offset="0.8" stop-color="#0049ff"/><stop offset="0.9" stop-color="#0035ff"/><stop offset="1" stop-color="#0021ff"/></linearGradient><linearGradient id="b113" gradientUnits="userSpaceOnUse" x1="358.6" y1="598.8" x2="343.6" y2="628.9"><stop offset="0" stop-color="#adff52"/><stop offset="0.05" stop-color="#9fff60"/><stop offset="0.1" stop-color="#91ff6e"/><stop offset="0.15" stop-color="#7aff85"/><stop offset="0.2" stop-color="#5effa1"/><stop offset="0.26" stop-color="#3bffc4"/><stop offset="0.32" stop-color="#13ffec"/><stop offset="0.38" stop-color="#00eaff"/><stop offset="0.44" stop-color="#00c3ff"/><stop offset="0.5" stop-color="#00a7ff"/><stop offset="0.56" stop-color="#0092ff"/><stop offset="0.62" stop-color="#007eff"/><stop offset="0.7" stop-color="#0062ff"/><stop offset="0.8" stop-color="#0047ff"/><stop offset="0.9" stop-color="#0034ff"/><stop offset="1" stop-color="#0022ff"/></linearGradient><linearGradient id="b114" gradientUnits="userSpaceOnUse" x1="361.3" y1="600.2" x2="345.7" y2="630"><stop offset="0" stop-color="#a2ff5d"/><stop offset="0.05" stop-color="#93ff6c"/><stop offset="0.1" stop-color="#83ff7c"/><stop offset="0.15" stop-color="#6cff93"/><stop offset="0.2" stop-color="#4fffb0"/><stop offset="0.26" stop-color="#2bffd4"/><stop offset="0.32" stop-color="#05fffa"/><stop offset="0.38" stop-color="#00deff"/><stop offset="0.44" stop-color="#00b8ff"/><stop offset="0.5" stop-color="#009eff"/><stop offset="0.56" stop-color="#008bff"/><stop offset="0.62" stop-color="#0078ff"/><stop offset="0.7" stop-color="#005fff"/><stop offset="0.8" stop-color="#0046ff"/><stop offset="0.9" stop-color="#0034ff"/><stop offset="1" stop-color="#0023ff"/></linearGradient><linearGradient id="b115" gradientUnits="userSpaceOnUse" x1="363.6" y1="601.5" x2="347.7" y2="631.1"><stop offset="0" stop-color="#98ff67"/><stop offset="0.05" stop-color="#88ff77"/><stop offset="0.1" stop-color="#77ff88"/><stop offset="0.15" stop-color="#5fffa0"/><stop offset="0.2" stop-color="#41ffbe"/><stop offset="0.26" stop-color="#1effe1"/><stop offset="0.32" stop-color="#00f8ff"/><stop offset="0.38" stop-color="#00d3ff"/><stop offset="0.44" stop-color="#00aeff"/><stop offset="0.5" stop-color="#0096ff"/><stop offset="0.56" stop-color="#0085ff"/><stop offset="0.62" stop-color="#0073ff"/><stop offset="0.7" stop-color="#005cff"/><stop offset="0.8" stop-color="#0045ff"/><stop offset="0.9" stop-color="#0034ff"/><stop offset="1" stop-color="#0023ff"/></linearGradient><linearGradient id="b116" gradientUnits="userSpaceOnUse" x1="366.3" y1="602.9" x2="358.8" y2="616.4"><stop offset="0" stop-color="#89ff76"/><stop offset="0.5" stop-color="#0dfff2"/><stop offset="1" stop-color="#0090ff"/></linearGradient><linearGradient id="b117" gradientUnits="userSpaceOnUse" x1="369.3" y1="604.6" x2="361.5" y2="618"><stop offset="0" stop-color="#76ff89"/><stop offset="0.5" stop-color="#00ffff"/><stop offset="1" stop-color="#008aff"/></linearGradient><linearGradient id="b118" gradientUnits="userSpaceOnUse" x1="371.9" y1="606.2" x2="364" y2="619.4"><stop offset="0" stop-color="#65ff9a"/><stop offset="0.5" stop-color="#00f4ff"/><stop offset="1" stop-color="#0084ff"/></linearGradient><linearGradient id="b119" gradientUnits="userSpaceOnUse" x1="374.5" y1="607.8" x2="366.5" y2="620.9"><stop offset="0" stop-color="#54ffab"/><stop offset="0.5" stop-color="#00e9ff"/><stop offset="1" stop-color="#007fff"/></linearGradient><linearGradient id="b120" gradientUnits="userSpaceOnUse" x1="377.1" y1="609.4" x2="368.9" y2="622.4"><stop offset="0" stop-color="#46ffb9"/><stop offset="0.5" stop-color="#00dfff"/><stop offset="1" stop-color="#0079ff"/></linearGradient><linearGradient id="b121" gradientUnits="userSpaceOnUse" x1="379.6" y1="611" x2="371.4" y2="624"><stop offset="0" stop-color="#38ffc7"/><stop offset="0.5" stop-color="#00d6ff"/><stop offset="1" stop-color="#0074ff"/></linearGradient><linearGradient id="b122" gradientUnits="userSpaceOnUse" x1="382.2" y1="612.7" x2="373.8" y2="625.6"><stop offset="0" stop-color="#2bffd4"/><stop offset="0.5" stop-color="#00ccff"/><stop offset="1" stop-color="#006fff"/></linearGradient><linearGradient id="b123" gradientUnits="userSpaceOnUse" x1="385.2" y1="614.6" x2="376.7" y2="627.4"><stop offset="0" stop-color="#1affe5"/><stop offset="0.5" stop-color="#00c1ff"/><stop offset="1" stop-color="#0069ff"/></linearGradient><linearGradient id="b124" gradientUnits="userSpaceOnUse" x1="388.5" y1="616.9" x2="379.9" y2="629.6"><stop offset="0" stop-color="#08fff7"/><stop offset="0.5" stop-color="#00b4ff"/><stop offset="1" stop-color="#0062ff"/></linearGradient><linearGradient id="b125" gradientUnits="userSpaceOnUse" x1="391.9" y1="619.1" x2="383.2" y2="631.9"><stop offset="0" stop-color="#00fcff"/><stop offset="0.5" stop-color="#00acff"/><stop offset="1" stop-color="#005dff"/></linearGradient><linearGradient id="b126" gradientUnits="userSpaceOnUse" x1="395.2" y1="621.4" x2="386.5" y2="634.1"><stop offset="0" stop-color="#00f2ff"/><stop offset="0.5" stop-color="#00a5ff"/><stop offset="1" stop-color="#0058ff"/></linearGradient><linearGradient id="b127" gradientUnits="userSpaceOnUse" x1="398.5" y1="623.7" x2="389.8" y2="636.4"><stop offset="0" stop-color="#00e8ff"/><stop offset="0.5" stop-color="#009eff"/><stop offset="1" stop-color="#0053ff"/></linearGradient><linearGradient id="b128" gradientUnits="userSpaceOnUse" x1="401.9" y1="626" x2="393.1" y2="638.7"><stop offset="0" stop-color="#00dfff"/><stop offset="0.5" stop-color="#0096ff"/><stop offset="1" stop-color="#004eff"/></linearGradient><linearGradient id="b129" gradientUnits="userSpaceOnUse" x1="405.2" y1="628.4" x2="396.4" y2="641"><stop offset="0" stop-color="#00d6ff"/><stop offset="0.5" stop-color="#0090ff"/><stop offset="1" stop-color="#004aff"/></linearGradient><linearGradient id="b130" gradientUnits="userSpaceOnUse" x1="408.5" y1="630.7" x2="399.8" y2="643.3"><stop offset="0" stop-color="#00ceff"/><stop offset="0.5" stop-color="#008bff"/><stop offset="1" stop-color="#0047ff"/></linearGradient><linearGradient id="b131" gradientUnits="userSpaceOnUse" x1="411.8" y1="633" x2="403.1" y2="645.6"><stop offset="0" stop-color="#00c7ff"/><stop offset="0.5" stop-color="#0085ff"/><stop offset="1" stop-color="#0044ff"/></linearGradient><linearGradient id="b132" gradientUnits="userSpaceOnUse" x1="415.2" y1="635.2" x2="406.5" y2="648"><stop offset="0" stop-color="#00bfff"/><stop offset="0.5" stop-color="#0080ff"/><stop offset="1" stop-color="#0041ff"/></linearGradient><linearGradient id="b133" gradientUnits="userSpaceOnUse" x1="418.5" y1="637.5" x2="409.9" y2="650.3"><stop offset="0" stop-color="#00b7ff"/><stop offset="0.5" stop-color="#007bff"/><stop offset="1" stop-color="#003eff"/></linearGradient><linearGradient id="b134" gradientUnits="userSpaceOnUse" x1="421.9" y1="639.8" x2="413.2" y2="652.6"><stop offset="0" stop-color="#00b0ff"/><stop offset="0.5" stop-color="#0075ff"/><stop offset="1" stop-color="#003bff"/></linearGradient><linearGradient id="b135" gradientUnits="userSpaceOnUse" x1="425.2" y1="642.1" x2="416.6" y2="654.8"><stop offset="0" stop-color="#00a8ff"/><stop offset="0.5" stop-color="#0070ff"/><stop offset="1" stop-color="#0038ff"/></linearGradient><linearGradient id="b136" gradientUnits="userSpaceOnUse" x1="428.6" y1="644.3" x2="420" y2="657.1"><stop offset="0" stop-color="#009fff"/><stop offset="0.5" stop-color="#006aff"/><stop offset="1" stop-color="#0036ff"/></linearGradient><linearGradient id="b137" gradientUnits="userSpaceOnUse" x1="431.9" y1="646.6" x2="423.4" y2="659.4"><stop offset="0" stop-color="#0095ff"/><stop offset="0.5" stop-color="#0064ff"/><stop offset="1" stop-color="#0033ff"/></linearGradient><linearGradient id="b138" gradientUnits="userSpaceOnUse" x1="435.3" y1="648.8" x2="426.8" y2="661.7"><stop offset="0" stop-color="#008cff"/><stop offset="0.5" stop-color="#005fff"/><stop offset="1" stop-color="#0031ff"/></linearGradient><linearGradient id="b139" gradientUnits="userSpaceOnUse" x1="438.6" y1="651.1" x2="430.2" y2="663.9"><stop offset="0" stop-color="#0083ff"/><stop offset="0.5" stop-color="#0059ff"/><stop offset="1" stop-color="#002fff"/></linearGradient><linearGradient id="b140" gradientUnits="userSpaceOnUse" x1="442" y1="653.3" x2="433.6" y2="666.2"><stop offset="0" stop-color="#007cff"/><stop offset="0.5" stop-color="#0055ff"/><stop offset="1" stop-color="#002dff"/></linearGradient><linearGradient id="b141" gradientUnits="userSpaceOnUse" x1="445.4" y1="655.5" x2="437" y2="668.4"><stop offset="0" stop-color="#0077ff"/><stop offset="0.5" stop-color="#0051ff"/><stop offset="1" stop-color="#002bff"/></linearGradient><linearGradient id="b142" gradientUnits="userSpaceOnUse" x1="448.8" y1="657.8" x2="440.4" y2="670.6"><stop offset="0" stop-color="#0072ff"/><stop offset="0.5" stop-color="#004eff"/><stop offset="1" stop-color="#0029ff"/></linearGradient><linearGradient id="b143" gradientUnits="userSpaceOnUse" x1="452.2" y1="660" x2="443.8" y2="672.9"><stop offset="0" stop-color="#006dff"/><stop offset="0.5" stop-color="#004aff"/><stop offset="1" stop-color="#0028ff"/></linearGradient><linearGradient id="b144" gradientUnits="userSpaceOnUse" x1="455.5" y1="662.2" x2="447.2" y2="675.1"><stop offset="0" stop-color="#0068ff"/><stop offset="0.5" stop-color="#0047ff"/><stop offset="1" stop-color="#0026ff"/></linearGradient><linearGradient id="b145" gradientUnits="userSpaceOnUse" x1="458.9" y1="664.4" x2="450.6" y2="677.3"><stop offset="0" stop-color="#0062ff"/><stop offset="0.5" stop-color="#0043ff"/><stop offset="1" stop-color="#0024ff"/></linearGradient><linearGradient id="b146" gradientUnits="userSpaceOnUse" x1="463.6" y1="667.4" x2="455.3" y2="680.4"><stop offset="0" stop-color="#005bff"/><stop offset="0.5" stop-color="#003fff"/><stop offset="1" stop-color="#0022ff"/></linearGradient><linearGradient id="b147" gradientUnits="userSpaceOnUse" x1="469.6" y1="671.3" x2="461.3" y2="684.2"><stop offset="0" stop-color="#0052ff"/><stop offset="0.5" stop-color="#0039ff"/><stop offset="1" stop-color="#001fff"/></linearGradient><linearGradient id="b148" gradientUnits="userSpaceOnUse" x1="475.5" y1="675.1" x2="467.2" y2="688.1"><stop offset="0" stop-color="#0049ff"/><stop offset="0.5" stop-color="#0032ff"/><stop offset="1" stop-color="#001cff"/></linearGradient><linearGradient id="b149" gradientUnits="userSpaceOnUse" x1="481.5" y1="678.9" x2="473.2" y2="691.9"><stop offset="0" stop-color="#0041ff"/><stop offset="0.5" stop-color="#002dff"/><stop offset="1" stop-color="#0019ff"/></linearGradient><linearGradient id="b150" gradientUnits="userSpaceOnUse" x1="487.5" y1="682.7" x2="479.2" y2="695.7"><stop offset="0" stop-color="#003bff"/><stop offset="0.5" stop-color="#0029ff"/><stop offset="1" stop-color="#0017ff"/></linearGradient><linearGradient id="b151" gradientUnits="userSpaceOnUse" x1="493.4" y1="686.5" x2="485.2" y2="699.5"><stop offset="0" stop-color="#0035ff"/><stop offset="0.5" stop-color="#0025ff"/><stop offset="1" stop-color="#0015ff"/></linearGradient><linearGradient id="b152" gradientUnits="userSpaceOnUse" x1="499.4" y1="690.3" x2="491.2" y2="703.3"><stop offset="0" stop-color="#002eff"/><stop offset="0.5" stop-color="#0021ff"/><stop offset="1" stop-color="#0014ff"/></linearGradient><linearGradient id="b153" gradientUnits="userSpaceOnUse" x1="505.4" y1="694.1" x2="497.2" y2="707.1"><stop offset="0" stop-color="#0028ff"/><stop offset="0.5" stop-color="#001dff"/><stop offset="1" stop-color="#0012ff"/></linearGradient><linearGradient id="b154" gradientUnits="userSpaceOnUse" x1="511.4" y1="697.8" x2="503.2" y2="710.9"><stop offset="0" stop-color="#0022ff"/><stop offset="0.5" stop-color="#0019ff"/><stop offset="1" stop-color="#0010ff"/></linearGradient><linearGradient id="b155" gradientUnits="userSpaceOnUse" x1="517.4" y1="701.6" x2="509.2" y2="714.6"><stop offset="0" stop-color="#001cff"/><stop offset="0.5" stop-color="#0015ff"/><stop offset="1" stop-color="#000eff"/></linearGradient><linearGradient id="b156" gradientUnits="userSpaceOnUse" x1="523.4" y1="705.4" x2="515.2" y2="718.4"><stop offset="0" stop-color="#0016ff"/><stop offset="0.5" stop-color="#0011ff"/><stop offset="1" stop-color="#000cff"/></linearGradient><linearGradient id="b157" gradientUnits="userSpaceOnUse" x1="529.4" y1="709.1" x2="521.2" y2="722.2"><stop offset="0" stop-color="#0010ff"/><stop offset="0.5" stop-color="#000dff"/><stop offset="1" stop-color="#000aff"/></linearGradient><linearGradient id="b158" gradientUnits="userSpaceOnUse" x1="535.4" y1="712.9" x2="527.2" y2="726"><stop offset="0" stop-color="#000fff"/><stop offset="0.5" stop-color="#000dff"/><stop offset="1" stop-color="#000aff"/></linearGradient><linearGradient id="b159" gradientUnits="userSpaceOnUse" x1="541.4" y1="716.7" x2="533.2" y2="729.7"><stop offset="0" stop-color="#000fff"/><stop offset="0.5" stop-color="#000dff"/><stop offset="1" stop-color="#000aff"/></linearGradient><linearGradient id="b160" gradientUnits="userSpaceOnUse" x1="545.9" y1="719.5" x2="537.7" y2="732.5"><stop offset="0" stop-color="#000fff"/><stop offset="0.5" stop-color="#000dff"/><stop offset="1" stop-color="#000aff"/></linearGradient></defs>
<path fill="url(#b0)" d="M107.8 883.3L110.2 876.1L144.9 887.9L142.5 895.1Z"/><path fill="url(#b1)" d="M109.8 877.5L112.2 870.4L146.8 882.1L144.4 889.3Z"/><path fill="url(#b2)" d="M111.7 871.8L114.2 864.6L148.8 876.4L146.3 883.6Z"/><path fill="url(#b3)" d="M113.7 866L116.1 858.8L150.7 870.7L148.3 877.8Z"/><path fill="url(#b4)" d="M115.6 860.3L118.1 853.1L152.7 865L150.2 872.1Z"/><path fill="url(#b5)" d="M117.6 854.5L120.1 847.3L154.6 859.3L152.2 866.4Z"/><path fill="url(#b6)" d="M119.6 848.7L122 841.6L156.6 853.5L154.2 860.7Z"/><path fill="url(#b7)" d="M121.6 843L124 835.8L158.6 847.9L156.1 855Z"/><path fill="url(#b8)" d="M123.5 837.3L126 830.1L160.5 842.2L158.1 849.3Z"/><path fill="url(#b9)" d="M125.5 831.5L128 824.4L162.5 836.5L160.1 843.6Z"/><path fill="url(#b10)" d="M127.5 825.8L130 818.6L164.5 830.8L162 837.9Z"/><path fill="url(#b11)" d="M129.5 820.1L132 812.9L166.5 825.1L164 832.2Z"/><path fill="url(#b12)" d="M131.5 814.3L134.1 807.2L168.5 819.5L166 826.6Z"/><path fill="url(#b13)" d="M133.6 808.6L136.1 801.5L170.5 813.8L168 820.9Z"/><path fill="url(#b14)" d="M135.6 802.9L138.2 795.8L172.6 808.2L170 815.2Z"/><path fill="url(#b15)" d="M137.7 797.2L140.2 790.1L174.6 802.5L172.1 809.6Z"/><path fill="url(#b16)" d="M139.7 791.5L142.3 784.4L176.7 796.9L174.1 803.9Z"/><path fill="url(#b17)" d="M141.8 785.8L144.4 778.7L178.7 791.3L176.1 798.3Z"/><path fill="url(#b18)" d="M143.9 780.1L146.5 772.9L180.8 785.6L178.2 792.7Z"/><path fill="url(#b19)" d="M146 774.4L148.6 767.2L182.9 780L180.3 787Z"/><path fill="url(#b20)" d="M148.1 768.7L150.7 761.5L185 774.4L182.3 781.4Z"/><path fill="url(#b21)" d="M150.2 763L152.9 755.9L187.1 768.8L184.4 775.8Z"/><path fill="url(#b22)" d="M152.3 757.3L155 750.2L189.2 763.2L186.5 770.2Z"/><path fill="url(#b23)" d="M154.5 751.6L157.2 744.5L191.3 757.6L188.7 764.6Z"/><path fill="url(#b24)" d="M156.7 745.9L159.4 738.8L193.5 752L190.8 759Z"/><path fill="url(#b25)" d="M158.8 740.2L161.6 733.1L195.7 746.4L193 753.4Z"/><path fill="url(#b26)" d="M161 734.5L163.8 727.4L197.9 740.8L195.1 747.8Z"/><path fill="url(#b27)" d="M163.3 728.8L166 721.7L200.1 735.1L197.3 742.2Z"/><path fill="url(#b28)" d="M165.5 723.1L168.3 716L202.3 729.5L199.5 736.5Z"/><path fill="url(#b29)" d="M167.7 717.4L170.5 710.4L204.5 723.9L201.7 730.9Z"/><path fill="url(#b30)" d="M170 711.8L172.8 704.7L206.8 718.2L204 725.3Z"/><path fill="url(#b31)" d="M172.2 706.1L173.9 701.9L207.9 715.4L206.2 719.6Z"/><path fill="url(#b32)" d="M173.3 703.3L175 699.1L209 712.6L207.3 716.8Z"/><path fill="url(#b33)" d="M174.5 700.4L176.1 696.2L210.1 709.8L208.4 714Z"/><path fill="url(#b34)" d="M175.6 697.6L177.2 693.4L211.2 706.9L209.6 711.1Z"/><path fill="url(#b35)" d="M176.7 694.8L178.4 690.6L212.3 704.1L210.7 708.3Z"/><path fill="url(#b36)" d="M177.8 692L179.5 687.8L213.4 701.4L211.8 705.5Z"/><path fill="url(#b37)" d="M178.9 689.2L180.6 685L214.5 698.6L212.9 702.8Z"/><path fill="url(#b38)" d="M180 686.4L181.7 682.2L215.6 695.9L214 700Z"/><path fill="url(#b39)" d="M181.2 683.6L182.9 679.4L216.7 693.3L215.1 697.3Z"/><path fill="url(#b40)" d="M182.3 680.8L184 676.6L217.8 690.6L216.1 694.6Z"/><path fill="url(#b41)" d="M183.4 678L185.2 673.8L218.9 688L217.2 692Z"/><path fill="url(#b42)" d="M184.6 675.2L186.4 671L220 685.4L218.3 689.4Z"/><path fill="url(#b43)" d="M185.8 672.4L187.6 668.3L221.1 682.9L219.4 686.8Z"/><path fill="url(#b44)" d="M187 669.6L188.8 665.5L222.2 680.3L220.5 684.2Z"/><path fill="url(#b45)" d="M188.2 666.9L190 662.7L223.3 677.9L221.6 681.7Z"/><path fill="url(#b46)" d="M189.4 664.1L191.3 660L224.5 675.4L222.7 679.2Z"/><path fill="url(#b47)" d="M190.7 661.3L192.6 657.2L225.6 673L223.9 676.8Z"/><path fill="url(#b48)" d="M192 658.6L194 654.5L226.8 670.6L225 674.3Z"/><path fill="url(#b49)" d="M193.3 655.8L195.4 651.7L228 668.2L226.2 671.9Z"/><path fill="url(#b50)" d="M194.7 653.1L196.8 649L229.2 665.9L227.3 669.6Z"/><path fill="url(#b51)" d="M196.1 650.3L198.2 646.3L230.4 663.7L228.5 667.3Z"/><path fill="url(#b52)" d="M197.5 647.6L199.7 643.6L231.6 661.6L229.7 665Z"/><path fill="url(#b53)" d="M199 644.9L201.3 640.9L232.8 659.5L230.9 662.9Z"/><path fill="url(#b54)" d="M200.6 642.2L202.9 638.3L234.1 657.5L232.1 660.8Z"/><path fill="url(#b55)" d="M202.1 639.6L204.6 635.7L235.3 655.5L233.3 658.7Z"/><path fill="url(#b56)" d="M203.8 637L206.3 633.1L236.6 653.6L234.5 656.8Z"/><path fill="url(#b57)" d="M205.5 634.4L208.1 630.6L237.9 651.8L235.8 654.9Z"/><path fill="url(#b58)" d="M207.2 631.8L209.9 628.1L239.2 650L237.1 653Z"/><path fill="url(#b59)" d="M209 629.3L211.8 625.7L240.6 648.3L238.4 651.2Z"/><path fill="url(#b60)" d="M210.9 626.9L213.8 623.3L241.9 646.7L239.7 649.5Z"/><path fill="url(#b61)" d="M212.8 624.5L215.8 621L243.3 645.2L241 647.9Z"/><path fill="url(#b62)" d="M214.8 622.2L217.9 618.8L244.7 643.7L242.3 646.3Z"/><path fill="url(#b63)" d="M216.9 619.9L220 616.6L246.1 642.3L243.7 644.8Z"/><path fill="url(#b64)" d="M219 617.7L222.2 614.4L247.6 640.8L245.1 643.3Z"/><path fill="url(#b65)" d="M221.2 615.5L224.5 612.4L249.1 639.5L246.5 641.9Z"/><path fill="url(#b66)" d="M223.4 613.4L226.8 610.4L250.7 638.1L248 640.5Z"/><path fill="url(#b67)" d="M225.7 611.4L229.2 608.4L252.4 636.8L249.6 639.1Z"/><path fill="url(#b68)" d="M228 609.4L231.6 606.6L254.1 635.5L251.2 637.7Z"/><path fill="url(#b69)" d="M230.4 607.5L234.1 604.7L255.8 634.2L252.9 636.4Z"/><path fill="url(#b70)" d="M232.9 605.6L236.6 603L257.6 632.9L254.6 635.1Z"/><path fill="url(#b71)" d="M235.4 603.8L239.1 601.3L259.4 631.8L256.4 633.8Z"/><path fill="url(#b72)" d="M237.9 602.1L241.7 599.6L261.2 630.6L258.1 632.6Z"/><path fill="url(#b73)" d="M240.5 600.4L244.4 598L263 629.6L259.9 631.4Z"/><path fill="url(#b74)" d="M243.1 598.8L247.1 596.5L264.8 628.5L261.7 630.3Z"/><path fill="url(#b75)" d="M245.8 597.3L249.8 595.1L266.7 627.6L263.5 629.3Z"/><path fill="url(#b76)" d="M248.5 595.8L252.6 593.8L268.6 626.7L265.4 628.3Z"/><path fill="url(#b77)" d="M251.2 594.4L255.4 592.5L270.5 625.9L267.2 627.4Z"/><path fill="url(#b78)" d="M254 593.1L258.2 591.3L272.4 625.1L269.1 626.5Z"/><path fill="url(#b79)" d="M256.8 591.9L261.1 590.2L274.3 624.3L271 625.7Z"/><path fill="url(#b80)" d="M259.7 590.7L264 589.1L276.3 623.6L272.9 624.9Z"/><path fill="url(#b81)" d="M262.6 589.7L266.9 588.2L278.2 623L274.9 624.2Z"/><path fill="url(#b82)" d="M265.5 588.7L269.8 587.3L280.2 622.4L276.8 623.5Z"/><path fill="url(#b83)" d="M268.4 587.7L272.8 586.5L282.3 621.9L278.8 622.9Z"/><path fill="url(#b84)" d="M271.4 586.9L275.8 585.8L284.3 621.4L280.8 622.3Z"/><path fill="url(#b85)" d="M274.4 586.2L278.8 585.2L286.3 621L282.8 621.8Z"/><path fill="url(#b86)" d="M277.4 585.5L281.8 584.6L288.4 620.6L284.9 621.3Z"/><path fill="url(#b87)" d="M280.4 584.9L284.9 584.1L290.4 620.3L286.9 620.9Z"/><path fill="url(#b88)" d="M283.4 584.4L287.9 583.8L292.5 620.1L288.9 620.6Z"/><path fill="url(#b89)" d="M286.5 584L291 583.5L294.5 619.9L291 620.3Z"/><path fill="url(#b90)" d="M289.5 583.6L294.1 583.2L296.6 619.8L293.1 620.1Z"/><path fill="url(#b91)" d="M292.6 583.4L297.1 583.1L298.7 619.7L295.1 619.9Z"/><path fill="url(#b92)" d="M295.6 583.2L300.2 583.1L300.8 619.7L297.2 619.8Z"/><path fill="url(#b93)" d="M298.7 583.1L303.3 583.1L302.9 619.7L299.3 619.7Z"/><path fill="url(#b94)" d="M301.8 583.1L306.4 583.2L305 619.8L301.4 619.7Z"/><path fill="url(#b95)" d="M304.9 583.2L309.4 583.4L307.2 620L303.5 619.8Z"/><path fill="url(#b96)" d="M307.9 583.3L312.5 583.7L309.3 620.2L305.7 619.9Z"/><path fill="url(#b97)" d="M311 583.6L315.6 584L311.5 620.4L307.8 620Z"/><path fill="url(#b98)" d="M314.1 583.9L318.6 584.4L313.6 620.7L310 620.3Z"/><path fill="url(#b99)" d="M317.1 584.2L321.6 584.9L315.8 621.1L312.1 620.5Z"/><path fill="url(#b100)" d="M320.2 584.7L324.7 585.5L317.9 621.5L314.3 620.9Z"/><path fill="url(#b101)" d="M323.2 585.2L327.7 586.1L320.1 622L316.5 621.2Z"/><path fill="url(#b102)" d="M326.2 585.8L330.6 586.8L322.3 622.5L318.6 621.7Z"/><path fill="url(#b103)" d="M329.2 586.5L333.6 587.6L324.4 623.1L320.8 622.2Z"/><path fill="url(#b104)" d="M332.2 587.2L336.6 588.4L326.5 623.7L323 622.7Z"/><path fill="url(#b105)" d="M335.1 588L339.5 589.3L328.7 624.3L325.1 623.3Z"/><path fill="url(#b106)" d="M338 588.9L342.4 590.3L330.8 625.1L327.2 623.9Z"/><path fill="url(#b107)" d="M340.9 589.9L345.2 591.3L332.9 625.8L329.3 624.6Z"/><path fill="url(#b108)" d="M343.8 590.9L348.1 592.4L334.9 626.6L331.4 625.3Z"/><path fill="url(#b109)" d="M346.7 591.9L350.9 593.6L337 627.5L333.5 626.1Z"/><path fill="url(#b110)" d="M349.5 593L353.7 594.8L339.1 628.4L335.6 626.9Z"/><path fill="url(#b111)" d="M352.3 594.2L356.5 596.1L341.1 629.4L337.7 627.8Z"/><path fill="url(#b112)" d="M355.1 595.5L359.2 597.5L343.2 630.4L339.8 628.7Z"/><path fill="url(#b113)" d="M357.9 596.8L361.9 598.9L345.3 631.5L341.8 629.7Z"/><path fill="url(#b114)" d="M360.6 598.2L364.7 600.3L347.4 632.6L344 630.8Z"/><path fill="url(#b115)" d="M363.3 599.6L365.4 600.7L347.8 632.8L346.1 631.9Z"/><path fill="url(#b116)" d="M364.2 600.1L370 603.3L360.9 619.3L355.4 616.2Z"/><path fill="url(#b117)" d="M368.7 602.6L372.6 604.9L363.3 620.7L359.6 618.5Z"/><path fill="url(#b118)" d="M371.3 604.1L375.3 606.5L365.7 622.2L362 620Z"/><path fill="url(#b119)" d="M374 605.7L377.9 608.1L368.2 623.7L364.5 621.4Z"/><path fill="url(#b120)" d="M376.6 607.3L380.4 609.7L370.6 625.3L366.9 622.9Z"/><path fill="url(#b121)" d="M379.2 608.9L383 611.4L373 626.8L369.3 624.5Z"/><path fill="url(#b122)" d="M381.7 610.6L385.5 613.1L375.5 628.4L371.8 626Z"/><path fill="url(#b123)" d="M384.3 612.2L388.9 615.3L378.7 630.6L374.2 627.6Z"/><path fill="url(#b124)" d="M387.7 614.5L392.3 617.6L382 632.8L377.5 629.8Z"/><path fill="url(#b125)" d="M391 616.8L395.6 619.9L385.2 635.1L380.7 632Z"/><path fill="url(#b126)" d="M394.4 619L399 622.2L388.5 637.3L384 634.2Z"/><path fill="url(#b127)" d="M397.7 621.3L402.3 624.5L391.8 639.6L387.3 636.5Z"/><path fill="url(#b128)" d="M401 623.7L405.6 626.8L395.1 641.9L390.6 638.8Z"/><path fill="url(#b129)" d="M404.4 626L408.9 629.1L398.5 644.3L393.9 641.1Z"/><path fill="url(#b130)" d="M407.7 628.3L412.2 631.4L401.8 646.6L397.2 643.4Z"/><path fill="url(#b131)" d="M411 630.6L415.6 633.7L405.2 648.9L400.6 645.7Z"/><path fill="url(#b132)" d="M414.3 632.9L418.9 636L408.6 651.2L404 648Z"/><path fill="url(#b133)" d="M417.7 635.2L422.3 638.3L411.9 653.5L407.3 650.4Z"/><path fill="url(#b134)" d="M421 637.4L425.6 640.5L415.3 655.8L410.7 652.7Z"/><path fill="url(#b135)" d="M424.4 639.7L429 642.8L418.7 658.1L414.1 654.9Z"/><path fill="url(#b136)" d="M427.7 642L432.3 645.1L422.1 660.3L417.5 657.2Z"/><path fill="url(#b137)" d="M431.1 644.2L435.7 647.3L425.5 662.6L420.9 659.5Z"/><path fill="url(#b138)" d="M434.4 646.5L439 649.5L428.9 664.9L424.2 661.8Z"/><path fill="url(#b139)" d="M437.8 648.7L442.4 651.8L432.3 667.1L427.6 664Z"/><path fill="url(#b140)" d="M441.2 650.9L445.8 654L435.7 669.4L431 666.3Z"/><path fill="url(#b141)" d="M444.5 653.2L449.2 656.2L439.1 671.6L434.4 668.5Z"/><path fill="url(#b142)" d="M447.9 655.4L452.5 658.4L442.5 673.8L437.8 670.8Z"/><path fill="url(#b143)" d="M451.3 657.6L455.9 660.6L445.9 676.1L441.2 673Z"/><path fill="url(#b144)" d="M454.7 659.8L459.3 662.8L449.3 678.3L444.6 675.2Z"/><path fill="url(#b145)" d="M458.1 662L462.7 665.1L452.7 680.5L448.1 677.5Z"/><path fill="url(#b146)" d="M461.5 664.2L468.7 668.9L458.7 684.4L451.5 679.7Z"/><path fill="url(#b147)" d="M467.4 668.1L474.6 672.7L464.7 688.2L457.5 683.5Z"/><path fill="url(#b148)" d="M473.3 671.9L480.6 676.5L470.7 692L463.4 687.4Z"/><path fill="url(#b149)" d="M479.3 675.7L486.5 680.3L476.7 695.9L469.4 691.2Z"/><path fill="url(#b150)" d="M485.3 679.5L492.5 684.1L482.7 699.7L475.4 695.1Z"/><path fill="url(#b151)" d="M491.2 683.3L498.5 687.9L488.7 703.5L481.4 698.9Z"/><path fill="url(#b152)" d="M497.2 687.1L504.5 691.7L494.7 707.3L487.4 702.7Z"/><path fill="url(#b153)" d="M503.2 690.9L510.5 695.5L500.7 711.1L493.4 706.5Z"/><path fill="url(#b154)" d="M509.2 694.7L516.5 699.2L506.7 714.8L499.4 710.3Z"/><path fill="url(#b155)" d="M515.2 698.4L522.5 703L512.7 718.6L505.4 714Z"/><path fill="url(#b156)" d="M521.2 702.2L528.5 706.8L518.7 722.4L511.4 717.8Z"/><path fill="url(#b157)" d="M527.2 706L534.5 710.5L524.7 726.1L517.4 721.6Z"/><path fill="url(#b158)" d="M533.2 709.7L540.5 714.3L530.7 729.9L523.4 725.3Z"/><path fill="url(#b159)" d="M539.2 713.5L546.5 718.1L536.7 733.7L529.4 729.1Z"/><path fill="url(#b160)" d="M545.2 717.3L548.2 719.2L538.5 734.8L535.4 732.9Z"/></g></g>
<path d="M63.7 877.8v-6M157 877.8v-6M250.2 877.8v-6M343.5 877.8v-6M436.7 877.8v-6M530 877.8v-6M63.7 877.8h6M63.7 831.2h6M63.7 784.6h6M63.7 738h6M63.7 691.4h6M63.7 644.8h6M63.7 598.2h6M63.7 551.6h6" stroke="#111" stroke-width="1.7" fill="none"/>
<text x="63.7" y="904.4" text-anchor="middle" class="tk">0.2</text>
<text x="157" y="904.4" text-anchor="middle" class="tk">0.4</text>
<text x="250.2" y="904.4" text-anchor="middle" class="tk">0.6</text>
<text x="343.5" y="904.4" text-anchor="middle" class="tk">0.8</text>
<text x="436.7" y="904.4" text-anchor="middle" class="tk">1</text>
<text x="530" y="904.4" text-anchor="middle" class="tk">1.2</text>
<text x="55.7" y="885.5" text-anchor="end" class="tk">4.4</text>
<text x="55.7" y="838.9" text-anchor="end" class="tk">4.5</text>
<text x="55.7" y="792.3" text-anchor="end" class="tk">4.6</text>
<text x="55.7" y="745.7" text-anchor="end" class="tk">4.7</text>
<text x="55.7" y="699.1" text-anchor="end" class="tk">4.8</text>
<text x="55.7" y="652.5" text-anchor="end" class="tk">4.9</text>
<text x="55.7" y="605.9" text-anchor="end" class="tk">5</text>
<text x="55.7" y="559.3" text-anchor="end" class="tk">5.1</text>
<text x="296.9" y="545.5" text-anchor="middle" class="ti" textLength="120" lengthAdjust="spacingAndGlyphs" style="fill:#000">Temperature</text>
<text x="296.9" y="932" text-anchor="middle" class="tt">x</text>
<text transform="translate(22.6 714.7) rotate(-90)" text-anchor="middle" class="tt">y</text>
<g shape-rendering="crispEdges"><rect x="64.2" y="945.2" width="7.68" height="17.3" fill="#000087"/><rect x="71.48" y="945.2" width="7.68" height="17.3" fill="#000097"/><rect x="78.76" y="945.2" width="7.68" height="17.3" fill="#0000a7"/><rect x="86.03" y="945.2" width="7.68" height="17.3" fill="#0000b7"/><rect x="93.31" y="945.2" width="7.68" height="17.3" fill="#0000c7"/><rect x="100.59" y="945.2" width="7.68" height="17.3" fill="#0000d7"/><rect x="107.87" y="945.2" width="7.68" height="17.3" fill="#0000e7"/><rect x="115.15" y="945.2" width="7.68" height="17.3" fill="#0000f7"/><rect x="122.43" y="945.2" width="7.68" height="17.3" fill="#0008ff"/><rect x="129.7" y="945.2" width="7.68" height="17.3" fill="#0018ff"/><rect x="136.98" y="945.2" width="7.68" height="17.3" fill="#0028ff"/><rect x="144.26" y="945.2" width="7.68" height="17.3" fill="#0038ff"/><rect x="151.54" y="945.2" width="7.68" height="17.3" fill="#0048ff"/><rect x="158.82" y="945.2" width="7.68" height="17.3" fill="#0058ff"/><rect x="166.09" y="945.2" width="7.68" height="17.3" fill="#0068ff"/><rect x="173.37" y="945.2" width="7.68" height="17.3" fill="#0078ff"/><rect x="180.65" y="945.2" width="7.68" height="17.3" fill="#0087ff"/><rect x="187.93" y="945.2" width="7.68" height="17.3" fill="#0097ff"/><rect x="195.21" y="945.2" width="7.68" height="17.3" fill="#00a7ff"/><rect x="202.48" y="945.2" width="7.68" height="17.3" fill="#00b7ff"/><rect x="209.76" y="945.2" width="7.68" height="17.3" fill="#00c7ff"/><rect x="217.04" y="945.2" width="7.68" height="17.3" fill="#00d7ff"/><rect x="224.32" y="945.2" width="7.68" height="17.3" fill="#00e7ff"/><rect x="231.6" y="945.2" width="7.68" height="17.3" fill="#00f7ff"/><rect x="238.88" y="945.2" width="7.68" height="17.3" fill="#08fff7"/><rect x="246.15" y="945.2" width="7.68" height="17.3" fill="#18ffe7"/><rect x="253.43" y="945.2" width="7.68" height="17.3" fill="#28ffd7"/><rect x="260.71" y="945.2" width="7.68" height="17.3" fill="#38ffc7"/><rect x="267.99" y="945.2" width="7.68" height="17.3" fill="#48ffb7"/><rect x="275.27" y="945.2" width="7.68" height="17.3" fill="#58ffa7"/><rect x="282.54" y="945.2" width="7.68" height="17.3" fill="#68ff97"/><rect x="289.82" y="945.2" width="7.68" height="17.3" fill="#78ff87"/><rect x="297.1" y="945.2" width="7.68" height="17.3" fill="#87ff78"/><rect x="304.38" y="945.2" width="7.68" height="17.3" fill="#97ff68"/><rect x="311.66" y="945.2" width="7.68" height="17.3" fill="#a7ff58"/><rect x="318.93" y="945.2" width="7.68" height="17.3" fill="#b7ff48"/><rect x="326.21" y="945.2" width="7.68" height="17.3" fill="#c7ff38"/><rect x="333.49" y="945.2" width="7.68" height="17.3" fill="#d7ff28"/><rect x="340.77" y="945.2" width="7.68" height="17.3" fill="#e7ff18"/><rect x="348.05" y="945.2" width="7.68" height="17.3" fill="#f7ff08"/><rect x="355.32" y="945.2" width="7.68" height="17.3" fill="#fff700"/><rect x="362.6" y="945.2" width="7.68" height="17.3" fill="#ffe700"/><rect x="369.88" y="945.2" width="7.68" height="17.3" fill="#ffd700"/><rect x="377.16" y="945.2" width="7.68" height="17.3" fill="#ffc700"/><rect x="384.44" y="945.2" width="7.68" height="17.3" fill="#ffb700"/><rect x="391.72" y="945.2" width="7.68" height="17.3" fill="#ffa700"/><rect x="398.99" y="945.2" width="7.68" height="17.3" fill="#ff9700"/><rect x="406.27" y="945.2" width="7.68" height="17.3" fill="#ff8700"/><rect x="413.55" y="945.2" width="7.68" height="17.3" fill="#ff7800"/><rect x="420.83" y="945.2" width="7.68" height="17.3" fill="#ff6800"/><rect x="428.11" y="945.2" width="7.68" height="17.3" fill="#ff5800"/><rect x="435.38" y="945.2" width="7.68" height="17.3" fill="#ff4800"/><rect x="442.66" y="945.2" width="7.68" height="17.3" fill="#ff3800"/><rect x="449.94" y="945.2" width="7.68" height="17.3" fill="#ff2800"/><rect x="457.22" y="945.2" width="7.68" height="17.3" fill="#ff1800"/><rect x="464.5" y="945.2" width="7.68" height="17.3" fill="#ff0800"/><rect x="471.77" y="945.2" width="7.68" height="17.3" fill="#f70000"/><rect x="479.05" y="945.2" width="7.68" height="17.3" fill="#e70000"/><rect x="486.33" y="945.2" width="7.68" height="17.3" fill="#d70000"/><rect x="493.61" y="945.2" width="7.68" height="17.3" fill="#c70000"/><rect x="500.89" y="945.2" width="7.68" height="17.3" fill="#b70000"/><rect x="508.17" y="945.2" width="7.68" height="17.3" fill="#a70000"/><rect x="515.44" y="945.2" width="7.68" height="17.3" fill="#970000"/><rect x="522.72" y="945.2" width="7.28" height="17.3" fill="#870000"/></g>
<rect x="64.2" y="945.2" width="465.8" height="17.3" fill="none" stroke="#262626" stroke-width="0.6"/>
<path d="M209.8 962.5v-4.6M355.3 962.5v-4.6M500.9 962.5v-4.6" stroke="#262626" stroke-width="0.7" fill="none"/>
<text x="64.2" y="986.6" text-anchor="middle" class="cb">0</text>
<text x="209.8" y="986.6" text-anchor="middle" class="cb">50</text>
<text x="355.3" y="986.6" text-anchor="middle" class="cb">100</text>
<text x="500.9" y="986.6" text-anchor="middle" class="cb">150</text>
<text x="149.4" y="1014" class="cpb" textLength="22.3" lengthAdjust="spacingAndGlyphs" style="fill:#000">(b)</text><text x="175.6" y="1014" class="cap" textLength="230.2" lengthAdjust="spacingAndGlyphs" style="fill:#000">Temperature distribution at 1000 s</text>
</svg>
</body></html>
